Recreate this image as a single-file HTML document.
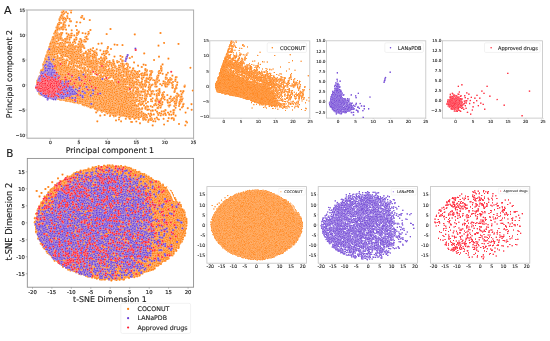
<!DOCTYPE html>
<html lang="en"><head><meta charset="utf-8"><title>PCA and t-SNE chemical space</title>
<style>html,body{margin:0;padding:0;background:#fff}
body{width:550px;height:341px;overflow:hidden}
svg{display:block}
polyline{fill:none;stroke:none}
text{white-space:pre}
.o{marker-start:url(#mo);marker-mid:url(#mo);marker-end:url(#mo)}
.p{marker-start:url(#mp);marker-mid:url(#mp);marker-end:url(#mp)}
.r{marker-start:url(#mr);marker-mid:url(#mr);marker-end:url(#mr)}
.ps{marker-start:url(#mps);marker-mid:url(#mps);marker-end:url(#mps)}
.rs{marker-start:url(#mrs);marker-mid:url(#mrs);marker-end:url(#mrs)}
.os{marker-start:url(#os);marker-mid:url(#os);marker-end:url(#os)}
.bos{marker-start:url(#bos);marker-mid:url(#bos);marker-end:url(#bos)}
.bps{marker-start:url(#bps);marker-mid:url(#bps);marker-end:url(#bps)}
.brs{marker-start:url(#brs);marker-mid:url(#brs);marker-end:url(#brs)}
.bo{marker-start:url(#bo);marker-mid:url(#bo);marker-end:url(#bo)}
.bp{marker-start:url(#bp);marker-mid:url(#bp);marker-end:url(#bp)}
.br{marker-start:url(#br);marker-mid:url(#br);marker-end:url(#br)}</style></head>
<body>
<svg width="550" height="341" viewBox="0 0 550 341" font-family="'DejaVu Sans','Liberation Sans',sans-serif">
<defs>
<marker id="mo" markerWidth="2.76" markerHeight="2.76" refX="1.38" refY="1.38" markerUnits="userSpaceOnUse"><circle cx="1.38" cy="1.38" r="1.1" fill="#ff7f0e" stroke="#fff" stroke-width="0.28"/></marker>
<marker id="mp" markerWidth="2.76" markerHeight="2.76" refX="1.38" refY="1.38" markerUnits="userSpaceOnUse"><circle cx="1.38" cy="1.38" r="1.1" fill="#6d41d6" stroke="#fff" stroke-width="0.28"/></marker>
<marker id="mr" markerWidth="2.76" markerHeight="2.76" refX="1.38" refY="1.38" markerUnits="userSpaceOnUse"><circle cx="1.38" cy="1.38" r="1.1" fill="#ff1f32" stroke="#fff" stroke-width="0.28"/></marker>
<marker id="mps" markerWidth="2.06" markerHeight="2.06" refX="1.03" refY="1.03" markerUnits="userSpaceOnUse"><circle cx="1.03" cy="1.03" r="0.85" fill="#6d41d6" stroke="#fff" stroke-width="0.18"/></marker>
<marker id="mrs" markerWidth="2.06" markerHeight="2.06" refX="1.03" refY="1.03" markerUnits="userSpaceOnUse"><circle cx="1.03" cy="1.03" r="0.85" fill="#ff1f32" stroke="#fff" stroke-width="0.18"/></marker>
<marker id="bo" markerWidth="2.78" markerHeight="2.78" refX="1.39" refY="1.39" markerUnits="userSpaceOnUse"><circle cx="1.39" cy="1.39" r="1.15" fill="#ff7f0e" stroke="#fff" stroke-width="0.24"/></marker>
<marker id="bp" markerWidth="2.78" markerHeight="2.78" refX="1.39" refY="1.39" markerUnits="userSpaceOnUse"><circle cx="1.39" cy="1.39" r="1.15" fill="#6d41d6" stroke="#fff" stroke-width="0.24"/></marker>
<marker id="br" markerWidth="2.78" markerHeight="2.78" refX="1.39" refY="1.39" markerUnits="userSpaceOnUse"><circle cx="1.39" cy="1.39" r="1.15" fill="#ff1f32" stroke="#fff" stroke-width="0.24"/></marker>
<marker id="os" markerWidth="2.84" markerHeight="2.84" refX="1.42" refY="1.42" markerUnits="userSpaceOnUse"><circle cx="1.42" cy="1.42" r="1.2" fill="#ff7f0e" stroke="#fff" stroke-width="0.22"/></marker>
<marker id="bos" markerWidth="3.18" markerHeight="3.18" refX="1.59" refY="1.59" markerUnits="userSpaceOnUse"><circle cx="1.59" cy="1.59" r="1.25" fill="#ff7f0e" stroke="#fff" stroke-width="0.34"/></marker>
<marker id="bps" markerWidth="3.20" markerHeight="3.20" refX="1.60" refY="1.60" markerUnits="userSpaceOnUse"><circle cx="1.60" cy="1.60" r="1.3" fill="#6d41d6" stroke="#fff" stroke-width="0.3"/></marker>
<marker id="brs" markerWidth="2.88" markerHeight="2.88" refX="1.44" refY="1.44" markerUnits="userSpaceOnUse"><circle cx="1.44" cy="1.44" r="1.28" fill="#ff1f32" stroke="#fff" stroke-width="0.16"/></marker>
<clipPath id="cA1"><rect x="27.0" y="10.0" width="166.6" height="128.2"/></clipPath>
<clipPath id="cA2"><rect x="209.8" y="40.8" width="100.0" height="77.3"/></clipPath>
<clipPath id="cA3"><rect x="326.5" y="40.8" width="99.3" height="77.3"/></clipPath>
<clipPath id="cA4"><rect x="442.5" y="40.8" width="100.1" height="77.3"/></clipPath>
<clipPath id="cB1"><rect x="27.3" y="158.4" width="166.3" height="128.8"/></clipPath>
<clipPath id="cB2"><rect x="206.9" y="186.6" width="99.6" height="76.6"/></clipPath>
<clipPath id="cB3"><rect x="318.2" y="186.6" width="99.2" height="76.6"/></clipPath>
<clipPath id="cB4"><rect x="430.5" y="186.6" width="99.3" height="76.6"/></clipPath>
</defs>
<rect width="550" height="341" fill="#fff"/>
<rect x="27.0" y="10.0" width="166.6" height="128.2" fill="#fff" stroke="#acacac" stroke-width="1.0"/>
<path d="M50.3 138.2v1.6M79.0 138.2v1.6M107.6 138.2v1.6M136.2 138.2v1.6M164.9 138.2v1.6M193.6 138.2v1.6M27.0 135.0h-1.6M27.0 110.0h-1.6M27.0 85.0h-1.6M27.0 60.0h-1.6M27.0 35.0h-1.6M27.0 10.0h-1.6" stroke="#acacac" stroke-width="0.75" fill="none"/>
<g font-size="4.4" fill="#262626" stroke="#262626" stroke-width="0.18">
<text x="50.3" y="144.2" text-anchor="middle">0</text>
<text x="79.0" y="144.2" text-anchor="middle">5</text>
<text x="107.6" y="144.2" text-anchor="middle">10</text>
<text x="136.2" y="144.2" text-anchor="middle">15</text>
<text x="164.9" y="144.2" text-anchor="middle">20</text>
<text x="193.6" y="144.2" text-anchor="middle">25</text>
<text x="25.0" y="136.6" text-anchor="end">−10</text>
<text x="25.0" y="111.6" text-anchor="end">−5</text>
<text x="25.0" y="86.6" text-anchor="end">0</text>
<text x="25.0" y="61.6" text-anchor="end">5</text>
<text x="25.0" y="36.6" text-anchor="end">10</text>
<text x="25.0" y="11.6" text-anchor="end">15</text>
</g>
<rect x="209.8" y="40.8" width="100.0" height="77.3" fill="#fff" stroke="#c2c2c2" stroke-width="0.8"/>
<path d="M223.7 118.1v1.1M241.0 118.1v1.1M258.3 118.1v1.1M275.6 118.1v1.1M292.9 118.1v1.1M310.2 118.1v1.1M209.8 116.3h-1.1M209.8 101.2h-1.1M209.8 86.1h-1.1M209.8 71.0h-1.1M209.8 55.9h-1.1M209.8 40.8h-1.1" stroke="#c2c2c2" stroke-width="0.60" fill="none"/>
<g font-size="4.15" fill="#262626" stroke="#262626" stroke-width="0.12">
<text x="223.7" y="123.1" text-anchor="middle">0</text>
<text x="241.0" y="123.1" text-anchor="middle">5</text>
<text x="258.3" y="123.1" text-anchor="middle">10</text>
<text x="275.6" y="123.1" text-anchor="middle">15</text>
<text x="292.9" y="123.1" text-anchor="middle">20</text>
<text x="310.2" y="123.1" text-anchor="middle">25</text>
<text x="208.8" y="117.8" text-anchor="end">−10</text>
<text x="208.8" y="102.7" text-anchor="end">−5</text>
<text x="208.8" y="87.6" text-anchor="end">0</text>
<text x="208.8" y="72.5" text-anchor="end">5</text>
<text x="208.8" y="57.4" text-anchor="end">10</text>
<text x="208.8" y="42.3" text-anchor="end">15</text>
</g>
<rect x="326.5" y="40.8" width="99.3" height="77.3" fill="#fff" stroke="#c2c2c2" stroke-width="0.8"/>
<path d="M338.1 118.1v1.1M355.6 118.1v1.1M373.2 118.1v1.1M390.7 118.1v1.1M408.3 118.1v1.1M425.8 118.1v1.1M326.5 112.1h-1.1M326.5 101.9h-1.1M326.5 91.7h-1.1M326.5 81.6h-1.1M326.5 71.4h-1.1M326.5 61.2h-1.1M326.5 51.0h-1.1M326.5 40.9h-1.1" stroke="#c2c2c2" stroke-width="0.60" fill="none"/>
<g font-size="4.15" fill="#262626" stroke="#262626" stroke-width="0.12">
<text x="338.1" y="123.1" text-anchor="middle">0</text>
<text x="355.6" y="123.1" text-anchor="middle">5</text>
<text x="373.2" y="123.1" text-anchor="middle">10</text>
<text x="390.7" y="123.1" text-anchor="middle">15</text>
<text x="408.3" y="123.1" text-anchor="middle">20</text>
<text x="425.8" y="123.1" text-anchor="middle">25</text>
<text x="325.4" y="113.6" text-anchor="end">−2.5</text>
<text x="325.4" y="103.4" text-anchor="end">0.0</text>
<text x="325.4" y="93.2" text-anchor="end">2.5</text>
<text x="325.4" y="83.1" text-anchor="end">5.0</text>
<text x="325.4" y="72.9" text-anchor="end">7.5</text>
<text x="325.4" y="62.7" text-anchor="end">10.0</text>
<text x="325.4" y="52.5" text-anchor="end">12.5</text>
<text x="325.4" y="42.4" text-anchor="end">15.0</text>
</g>
<rect x="442.5" y="40.8" width="100.1" height="77.3" fill="#fff" stroke="#c2c2c2" stroke-width="0.8"/>
<path d="M455.6 118.1v1.1M473.1 118.1v1.1M490.6 118.1v1.1M508.1 118.1v1.1M525.6 118.1v1.1M543.1 118.1v1.1M442.5 110.7h-1.1M442.5 100.7h-1.1M442.5 90.7h-1.1M442.5 80.8h-1.1M442.5 70.8h-1.1M442.5 60.8h-1.1M442.5 50.8h-1.1M442.5 40.9h-1.1" stroke="#c2c2c2" stroke-width="0.60" fill="none"/>
<g font-size="4.15" fill="#262626" stroke="#262626" stroke-width="0.12">
<text x="455.6" y="123.1" text-anchor="middle">0</text>
<text x="473.1" y="123.1" text-anchor="middle">5</text>
<text x="490.6" y="123.1" text-anchor="middle">10</text>
<text x="508.1" y="123.1" text-anchor="middle">15</text>
<text x="525.6" y="123.1" text-anchor="middle">20</text>
<text x="543.1" y="123.1" text-anchor="middle">25</text>
<text x="441.4" y="112.2" text-anchor="end">−2.5</text>
<text x="441.4" y="102.2" text-anchor="end">0.0</text>
<text x="441.4" y="92.2" text-anchor="end">2.5</text>
<text x="441.4" y="82.3" text-anchor="end">5.0</text>
<text x="441.4" y="72.3" text-anchor="end">7.5</text>
<text x="441.4" y="62.3" text-anchor="end">10.0</text>
<text x="441.4" y="52.3" text-anchor="end">12.5</text>
<text x="441.4" y="42.4" text-anchor="end">15.0</text>
</g>
<rect x="27.3" y="158.4" width="166.3" height="128.8" fill="#fff" stroke="#888888" stroke-width="0.85"/>
<path d="M32.5 287.2v1.5M51.9 287.2v1.5M71.3 287.2v1.5M90.8 287.2v1.5M110.2 287.2v1.5M129.7 287.2v1.5M149.2 287.2v1.5M168.6 287.2v1.5M188.1 287.2v1.5M27.3 273.8h-1.5M27.3 256.8h-1.5M27.3 239.8h-1.5M27.3 222.8h-1.5M27.3 205.8h-1.5M27.3 188.8h-1.5M27.3 171.8h-1.5" stroke="#888888" stroke-width="0.64" fill="none"/>
<g font-size="5.3" fill="#262626" stroke="#262626" stroke-width="0.16">
<text x="32.5" y="293.7" text-anchor="middle">-20</text>
<text x="51.9" y="293.7" text-anchor="middle">-15</text>
<text x="71.3" y="293.7" text-anchor="middle">-10</text>
<text x="90.8" y="293.7" text-anchor="middle">-5</text>
<text x="110.2" y="293.7" text-anchor="middle">0</text>
<text x="129.7" y="293.7" text-anchor="middle">5</text>
<text x="149.2" y="293.7" text-anchor="middle">10</text>
<text x="168.6" y="293.7" text-anchor="middle">15</text>
<text x="188.1" y="293.7" text-anchor="middle">20</text>
<text x="24.9" y="275.7" text-anchor="end">-15</text>
<text x="24.9" y="258.7" text-anchor="end">-10</text>
<text x="24.9" y="241.7" text-anchor="end">-5</text>
<text x="24.9" y="224.7" text-anchor="end">0</text>
<text x="24.9" y="207.7" text-anchor="end">5</text>
<text x="24.9" y="190.7" text-anchor="end">10</text>
<text x="24.9" y="173.7" text-anchor="end">15</text>
</g>
<rect x="206.9" y="186.6" width="99.6" height="76.6" fill="#fff" stroke="#c2c2c2" stroke-width="0.8"/>
<path d="M210.3 263.2v1.1M221.8 263.2v1.1M233.4 263.2v1.1M244.9 263.2v1.1M256.5 263.2v1.1M268.1 263.2v1.1M279.6 263.2v1.1M291.1 263.2v1.1M302.7 263.2v1.1M206.9 255.1h-1.1M206.9 245.0h-1.1M206.9 235.0h-1.1M206.9 224.9h-1.1M206.9 214.8h-1.1M206.9 204.8h-1.1M206.9 194.8h-1.1" stroke="#c2c2c2" stroke-width="0.60" fill="none"/>
<g font-size="4.6" fill="#262626" stroke="#262626" stroke-width="0.1">
<text x="210.3" y="268.4" text-anchor="middle">-20</text>
<text x="221.8" y="268.4" text-anchor="middle">-15</text>
<text x="233.4" y="268.4" text-anchor="middle">-10</text>
<text x="244.9" y="268.4" text-anchor="middle">-5</text>
<text x="256.5" y="268.4" text-anchor="middle">0</text>
<text x="268.1" y="268.4" text-anchor="middle">5</text>
<text x="279.6" y="268.4" text-anchor="middle">10</text>
<text x="291.1" y="268.4" text-anchor="middle">15</text>
<text x="302.7" y="268.4" text-anchor="middle">20</text>
<text x="205.1" y="256.7" text-anchor="end">-15</text>
<text x="205.1" y="246.7" text-anchor="end">-10</text>
<text x="205.1" y="236.6" text-anchor="end">-5</text>
<text x="205.1" y="226.6" text-anchor="end">0</text>
<text x="205.1" y="216.5" text-anchor="end">5</text>
<text x="205.1" y="206.5" text-anchor="end">10</text>
<text x="205.1" y="196.4" text-anchor="end">15</text>
</g>
<rect x="318.2" y="186.6" width="99.2" height="76.6" fill="#fff" stroke="#c2c2c2" stroke-width="0.8"/>
<path d="M321.2 263.2v1.1M332.9 263.2v1.1M344.7 263.2v1.1M356.4 263.2v1.1M368.1 263.2v1.1M379.8 263.2v1.1M391.6 263.2v1.1M403.3 263.2v1.1M415.0 263.2v1.1M318.2 255.1h-1.1M318.2 245.0h-1.1M318.2 235.0h-1.1M318.2 224.9h-1.1M318.2 214.8h-1.1M318.2 204.8h-1.1M318.2 194.8h-1.1" stroke="#c2c2c2" stroke-width="0.60" fill="none"/>
<g font-size="4.6" fill="#262626" stroke="#262626" stroke-width="0.1">
<text x="321.2" y="268.4" text-anchor="middle">-20</text>
<text x="332.9" y="268.4" text-anchor="middle">-15</text>
<text x="344.7" y="268.4" text-anchor="middle">-10</text>
<text x="356.4" y="268.4" text-anchor="middle">-5</text>
<text x="368.1" y="268.4" text-anchor="middle">0</text>
<text x="379.8" y="268.4" text-anchor="middle">5</text>
<text x="391.6" y="268.4" text-anchor="middle">10</text>
<text x="403.3" y="268.4" text-anchor="middle">15</text>
<text x="415.0" y="268.4" text-anchor="middle">20</text>
<text x="316.4" y="256.7" text-anchor="end">-15</text>
<text x="316.4" y="246.7" text-anchor="end">-10</text>
<text x="316.4" y="236.6" text-anchor="end">-5</text>
<text x="316.4" y="226.6" text-anchor="end">0</text>
<text x="316.4" y="216.5" text-anchor="end">5</text>
<text x="316.4" y="206.5" text-anchor="end">10</text>
<text x="316.4" y="196.4" text-anchor="end">15</text>
</g>
<rect x="430.5" y="186.6" width="99.3" height="76.6" fill="#fff" stroke="#c2c2c2" stroke-width="0.8"/>
<path d="M433.6 263.2v1.1M445.2 263.2v1.1M456.9 263.2v1.1M468.6 263.2v1.1M480.2 263.2v1.1M491.8 263.2v1.1M503.5 263.2v1.1M515.1 263.2v1.1M526.8 263.2v1.1M430.5 255.1h-1.1M430.5 245.0h-1.1M430.5 235.0h-1.1M430.5 224.9h-1.1M430.5 214.8h-1.1M430.5 204.8h-1.1M430.5 194.8h-1.1" stroke="#c2c2c2" stroke-width="0.60" fill="none"/>
<g font-size="4.6" fill="#262626" stroke="#262626" stroke-width="0.1">
<text x="433.6" y="268.4" text-anchor="middle">-20</text>
<text x="445.2" y="268.4" text-anchor="middle">-15</text>
<text x="456.9" y="268.4" text-anchor="middle">-10</text>
<text x="468.6" y="268.4" text-anchor="middle">-5</text>
<text x="480.2" y="268.4" text-anchor="middle">0</text>
<text x="491.8" y="268.4" text-anchor="middle">5</text>
<text x="503.5" y="268.4" text-anchor="middle">10</text>
<text x="515.1" y="268.4" text-anchor="middle">15</text>
<text x="526.8" y="268.4" text-anchor="middle">20</text>
<text x="428.7" y="256.7" text-anchor="end">-15</text>
<text x="428.7" y="246.7" text-anchor="end">-10</text>
<text x="428.7" y="236.6" text-anchor="end">-5</text>
<text x="428.7" y="226.6" text-anchor="end">0</text>
<text x="428.7" y="216.5" text-anchor="end">5</text>
<text x="428.7" y="206.5" text-anchor="end">10</text>
<text x="428.7" y="196.4" text-anchor="end">15</text>
</g>
<g clip-path="url(#cA1)">
<path id="abase" d="M38.0 88.0L40.4 93.0L42.9 93.7L45.3 94.3L47.8 95.0L50.2 95.7L52.7 96.4L55.1 96.9L57.6 97.4L60.0 97.9L62.4 98.4L64.9 98.9L67.3 99.4L69.8 99.9L72.2 100.5L74.7 101.0L77.1 101.5L79.6 102.2L82.0 103.0L84.5 103.8L86.9 104.5L89.4 105.3L91.8 106.1L94.2 106.9L96.7 107.6L99.1 108.4L101.6 109.2L104.0 109.7L106.5 110.3L108.9 110.8L111.4 111.4L113.8 111.9L116.3 112.5L118.7 113.0L121.2 113.6L123.6 114.1L126.0 114.6L128.5 115.2L130.9 115.6L133.4 116.0L133.4 95.5L130.9 94.4L128.5 93.3L126.0 92.2L123.6 91.1L121.2 90.0L118.7 88.8L116.3 87.7L113.8 86.6L111.4 85.5L108.9 84.4L106.5 83.3L104.0 82.2L101.6 81.1L99.1 80.0L96.7 78.8L94.2 77.7L91.8 76.6L89.4 75.5L86.9 74.4L84.5 73.3L82.0 72.2L79.6 71.1L77.1 70.0L74.7 68.9L72.2 67.8L69.8 66.6L67.3 65.5L64.9 64.4L62.4 63.3L60.0 62.2L57.6 61.1L55.1 60.0L52.7 58.9L50.2 57.8L47.8 56.6L45.3 63.0L42.9 69.9L40.4 76.9L38.0 83.8Z" fill="#ff9a42"/><g class="o"><polyline id="acop" points="109.0,84.4 132.6,83.8 53.3,53.3 125.9,101.9 56.4,74.4 52.1,54.7 55.9,61.9 69.6,18.9 123.4,88.9 80.5,90.7 46.4,57.8 45.0,90.2 117.0,95.4 150.8,106.2 65.1,95.6 47.8,60.6 64.2,86.5 129.4,103.2 111.9,98.8 107.9,103.1 77.1,65.7 109.1,109.0 44.5,64.9 92.4,101.5 80.4,43.1 109.9,75.9 81.9,94.4 77.2,85.9 112.1,98.0 64.9,27.2 71.8,54.2 59.8,76.3 44.0,95.5 68.8,92.4 43.5,94.5 105.5,72.7 119.9,95.5 103.3,98.0 138.0,82.1 94.8,106.8 113.5,71.2 77.5,67.4 121.6,88.9 41.0,87.6 76.4,56.7 118.2,105.3 87.6,75.6 52.4,66.2 46.4,59.5 103.6,90.1 113.3,69.8 82.0,79.4 54.3,70.5 140.4,91.7 81.1,95.5 66.9,96.9 65.6,92.8 117.9,112.9 48.2,83.7 82.8,103.0 102.7,102.6 74.0,56.6 120.2,80.7 119.2,111.9 106.6,104.1 161.6,103.7 150.2,116.5 73.4,91.7 111.9,104.6 165.4,83.1 101.0,105.5 81.1,47.6 50.0,55.8 86.5,90.3 88.4,106.1 92.2,64.2 57.8,79.9 45.6,59.6 94.1,62.4 116.8,107.2 117.7,87.9 68.3,51.9 71.0,21.2 80.9,82.2 76.2,73.2 129.9,67.6 64.1,88.4 117.5,96.5 82.0,78.6 151.0,120.1 70.5,54.2 52.4,50.1 89.2,100.7 89.1,75.9 142.5,77.7 76.3,83.9 131.1,81.4 55.6,44.3 115.4,113.1 123.9,110.7 73.3,72.5 114.2,63.6 52.8,65.5 50.9,64.3 106.9,96.3 89.2,103.5 103.8,108.8 67.8,95.4 101.6,108.1 61.4,60.4 41.4,91.2 107.9,89.3 59.5,90.3 48.1,94.3 111.0,76.4 121.2,106.9 60.4,80.3 158.2,108.2 56.4,32.5 116.3,76.2 69.0,57.5 90.0,63.5 64.4,51.8 145.1,94.0 64.5,88.1 133.4,105.1 75.4,59.4 105.5,76.1 50.9,73.9 119.8,97.7 60.6,37.0 116.3,80.5 112.7,113.8 73.4,95.7 127.1,116.5 90.3,84.3 60.3,43.0 55.3,74.9 46.5,62.6 126.7,107.2 117.5,90.4 68.9,55.6 43.8,69.6 61.4,76.4 138.3,91.9 62.8,84.9 84.1,86.5 45.2,80.0 173.1,98.9 146.1,81.1 59.6,47.1 57.9,65.8 52.7,53.1 70.7,73.5 80.5,71.4 61.5,66.8 72.9,92.9 101.2,70.9 73.6,78.4 92.5,62.2 90.9,90.4 124.2,103.6 124.9,111.6 72.3,73.7 74.1,69.4 156.4,90.8 114.9,99.9 121.3,103.5 63.5,96.1 71.5,9.8 67.3,54.1 91.6,68.3 71.6,89.2 97.6,106.0 104.7,115.0 129.1,87.7 54.4,63.0 161.1,66.3 114.2,75.2 81.7,95.3 62.5,87.4 51.9,91.9 94.6,68.2 43.6,64.2 55.3,33.1 53.4,92.9 59.5,51.5 55.9,43.4 132.3,115.6 77.3,81.6 126.9,100.7 74.7,94.8 53.2,68.8 47.1,95.0 45.2,84.8 67.9,47.3 153.2,80.1 98.7,103.7 99.4,79.7 173.1,87.1 96.5,106.8 69.0,83.1 63.3,87.8 80.8,59.0 84.1,67.3 89.2,54.2 99.6,69.6 103.8,89.1 84.0,85.1 49.6,50.1 131.8,82.1 105.2,69.8 46.0,71.5 66.0,47.3 54.8,77.0 103.1,108.4 120.1,98.1 104.5,65.7 81.3,56.6 58.5,88.2 134.5,95.0 43.1,72.1 126.8,101.3 116.4,111.4 108.4,94.5 78.5,97.9 131.3,85.0 47.3,70.0 66.7,50.1 96.2,105.2 95.0,57.4 48.5,52.8 48.5,66.0 84.0,89.4 167.2,82.8 92.2,65.5 124.0,86.4 37.1,83.4 59.4,83.6 107.7,108.7 109.6,96.7 68.3,74.6 97.3,121.3 161.1,69.2 87.7,84.8 79.5,101.2 172.3,87.4 145.3,86.3 69.1,95.5 66.6,95.1 135.1,92.5 82.1,17.5 81.5,68.0 83.0,96.2 55.3,94.4 47.4,58.6 124.2,105.1 41.3,94.0 136.3,94.0 115.0,109.8 52.9,59.5 45.1,95.1 98.2,95.8 63.4,98.2 133.1,108.4 148.0,92.7 104.2,104.0 120.6,75.6 118.6,109.7 59.2,81.6 147.3,109.7 111.8,104.6 58.2,68.0 79.4,61.8 85.3,60.9 75.3,92.7 84.7,95.0 92.3,56.5 169.1,106.6 95.9,66.7 63.9,66.9 51.5,97.3 67.5,37.9 63.2,47.4 130.5,85.1 50.6,45.7 102.0,82.2 51.4,70.2 97.2,61.6 63.8,77.0 77.5,101.0 157.5,78.2 55.9,63.0 49.6,76.7 88.9,73.8 142.7,117.0 125.5,106.7 129.4,87.7 74.6,58.2 46.4,56.4 93.5,71.0 170.2,105.1 60.6,80.7 121.5,94.4 65.3,90.7 73.5,97.9 155.8,100.1 116.6,78.7 70.2,99.7 53.8,94.8 126.2,72.8 108.6,80.6 128.2,115.7 62.0,68.7 123.2,106.7 90.8,63.5 73.9,49.6 68.3,100.6 67.1,90.8 106.6,108.1 56.5,86.7 84.9,104.2 146.0,98.6 57.0,87.1 115.9,111.4 44.5,63.0 92.7,62.3 66.4,79.4 134.1,96.7 51.7,56.7 71.5,55.2 57.1,53.5 128.5,111.5 51.1,47.4 51.7,58.3 92.8,66.0 62.7,95.0 54.5,97.5 92.3,96.5 187.0,122.4 117.3,111.9 114.3,111.1 60.6,82.6 56.8,80.5 89.1,102.5 81.4,99.2 85.5,71.3 104.0,100.1 160.7,99.3 173.4,99.3 97.8,84.5 109.5,73.2 49.3,62.4 49.7,92.8 83.3,99.2 131.0,114.8 71.2,95.6 87.5,94.6 60.1,69.2 70.1,21.2 131.9,85.1 72.5,57.7 65.7,83.3 111.9,109.8 126.6,114.7 40.8,90.7 88.1,83.3 134.7,108.4 113.1,77.0 118.1,108.5 40.8,79.1 126.8,102.8 56.5,65.2 52.4,75.5 118.0,106.4 99.7,109.5 120.6,108.7 96.9,109.1 61.4,44.7 66.8,87.0 126.5,70.3 55.7,83.2 63.8,44.0 61.8,12.4 75.5,77.9 129.4,107.1 106.8,90.7 53.2,97.3 87.9,106.2 131.5,110.1 57.9,88.0 91.1,72.7 61.6,52.0 110.3,84.2 63.5,74.3 127.1,87.7 57.2,73.9 49.6,64.0 141.5,92.4 93.7,107.1 58.8,51.3 174.1,97.6 65.5,85.5 46.4,83.8 83.9,92.2 40.9,82.4 151.1,101.0 70.1,58.1 74.9,94.4 39.7,86.2 130.8,111.7 47.8,90.3 48.7,74.2 114.6,109.0 47.8,94.2 45.9,64.9 47.7,90.1 103.6,95.2 53.5,61.9 76.4,38.5 122.2,81.1 116.7,109.1 93.1,48.1 69.6,87.5 59.3,48.1 185.3,125.3 52.5,44.6 61.3,79.0 128.5,115.5 52.2,47.3 174.4,92.0 57.2,97.7 155.6,100.7 116.5,78.1 79.9,93.8 57.9,24.0 90.1,62.7 117.5,69.0 98.3,103.1 131.3,72.6 80.6,95.3 59.9,22.5 86.4,90.4 106.7,34.1 88.7,85.1 50.6,91.7 79.3,95.8 64.9,89.7 126.0,104.1 62.7,67.5 40.3,77.4 66.7,70.7 79.9,79.1 58.4,85.8 46.3,72.1 145.8,81.2 154.9,83.4 72.9,82.8 39.5,91.4 101.3,99.7 108.8,78.1 92.3,105.9 121.9,91.8 65.1,89.2 110.0,84.9 58.6,83.8 77.4,93.3 86.3,84.3 49.8,51.3 100.5,108.0 103.9,91.4 117.7,62.1 55.8,35.0 129.3,78.0 71.7,67.7 51.1,91.8 47.6,84.8 115.7,108.2 57.9,80.1 54.3,36.6 86.9,65.8 48.1,90.1 97.6,61.6 50.2,49.3 65.2,91.8 112.2,110.3 80.7,90.6 68.7,99.2 127.8,90.5 129.3,113.9 47.5,62.2 137.8,75.5 51.5,46.6 130.8,85.6 45.3,75.6 74.2,52.3 122.0,113.5 117.3,96.7 108.7,103.0 76.5,90.0 122.6,105.9 63.7,90.6 55.7,90.9 96.1,90.6 75.2,85.6 98.3,63.0 66.2,53.8 145.1,96.1 130.7,113.3 70.4,48.6 121.9,100.4 55.1,84.4 50.5,61.1 71.9,82.4 93.1,106.6 112.1,84.5 104.3,98.4 158.7,89.9 123.9,76.1 44.3,93.7 72.9,99.7 48.8,84.7 51.4,52.0 62.4,82.3 127.7,98.8 105.6,67.1 93.5,93.6 62.4,87.1 182.0,107.3 110.6,82.7 99.8,67.1 79.4,93.3 50.2,44.1 73.2,74.6 81.5,91.7 104.1,103.0 161.9,95.1 59.7,49.2 64.9,78.9 81.8,60.5 125.3,99.8 123.4,107.3 97.6,100.9 89.7,74.3 123.6,64.2 84.5,79.6 61.4,64.5 93.8,106.0 56.4,59.1 187.8,108.2 133.5,114.6 65.5,60.7 99.4,94.2 112.9,114.9 105.4,102.6 150.1,87.3 93.4,88.7 50.0,50.4 92.0,101.6 56.3,37.7 116.2,76.9 132.4,105.2 113.2,102.8 117.2,104.8 78.1,99.2 105.9,86.6 129.6,112.9 96.7,95.1 156.1,81.5 127.5,111.9 72.5,100.7 90.5,87.9 65.8,86.4 145.7,108.8 77.7,61.2 99.1,59.0 65.7,98.8 49.4,48.0 75.3,98.3 64.6,76.8 101.0,74.2 71.0,75.8 57.0,77.8 85.7,76.0 116.6,113.2 124.4,112.6 110.4,105.6 40.2,81.4 80.3,62.7 81.6,71.7 119.0,92.8 159.8,92.5 73.2,101.5 42.1,92.7 93.6,60.8 39.5,85.2 111.0,112.2 109.2,81.4 167.8,121.0 57.2,76.7 118.2,94.4 62.5,73.7 65.6,83.5 131.6,94.8 120.8,87.5 104.1,82.4 91.3,95.4 157.4,81.9 85.7,100.9 114.6,44.6 71.6,54.0 43.5,83.4 48.6,94.0 49.1,86.2 89.7,59.1 104.6,104.6 87.6,60.9 146.7,78.1 126.3,107.0 83.5,68.7 73.2,55.3 139.5,116.9 74.5,98.6 129.0,81.9 128.9,116.3 109.7,93.2 92.8,58.1 122.8,100.4 116.5,70.1 115.8,101.4 114.9,65.7 103.2,68.8 76.2,85.8 65.9,91.6 74.9,40.2 44.0,62.3 48.3,58.3 60.6,85.6 139.7,101.6 82.8,54.3 48.4,63.5 60.1,47.2 122.6,92.2 168.6,84.3 71.2,68.9 50.0,76.4 149.1,86.3 59.9,99.6 38.6,78.4 77.0,87.3 78.0,77.6 119.0,97.9 109.0,102.5 94.1,62.4 47.1,81.1 118.9,119.5 77.5,88.1 62.8,99.0 120.2,88.8 105.3,104.2 44.5,87.8 95.8,106.1 118.0,104.7 125.7,115.7 65.5,68.5 89.9,98.3 126.5,113.8 72.9,42.6 176.4,85.5 92.2,76.8 110.9,81.3 117.5,107.1 88.1,80.2 102.2,86.6 76.4,91.2 67.6,52.8 61.9,70.6 105.8,112.3 90.1,82.1 74.2,97.9 159.2,93.8 161.0,105.8 85.9,52.9 67.5,88.8 56.9,61.1 98.0,99.1 71.0,91.8 115.2,111.0 48.3,55.9 134.4,111.7 52.2,96.9 53.6,58.6 113.2,82.8 100.7,85.5 85.7,101.6 117.6,83.3 59.7,77.3 130.0,110.3 99.8,105.2 86.9,90.0 56.7,27.2 46.2,64.9 83.7,69.1 58.4,58.2 88.9,87.3 54.2,71.3 69.9,44.0 121.8,111.5 47.4,82.5 70.1,42.6 66.1,29.7 67.9,97.0 113.0,109.4 44.5,86.3 94.8,51.2 48.4,66.4 75.4,101.1 67.1,68.4 120.4,110.6 94.9,98.1 54.4,63.6 123.9,110.2 50.8,89.9 176.0,99.2 44.8,89.4 124.0,65.4 49.2,64.3 92.2,77.2 116.7,108.5 148.9,82.3 85.5,99.8 53.0,38.6 180.7,97.8 70.2,81.9 118.2,110.5 88.2,103.8 74.6,55.8 127.3,101.8 100.9,67.2 145.8,100.1 42.0,87.0 63.1,95.9 51.4,71.4 45.9,95.7 84.4,63.7 78.6,89.3 61.4,95.3 104.9,107.0 107.1,93.1 131.4,117.0 67.7,81.8 62.4,12.5 110.4,101.0 146.2,95.5 109.6,93.2 50.0,96.0 61.1,72.7 158.4,104.4 56.1,94.4 50.0,60.4 129.2,111.8 91.4,100.2 57.4,93.8 115.5,111.2 158.2,93.1 123.7,108.8 72.2,80.0 58.4,75.9 96.9,55.0 146.0,103.3 75.1,46.6 58.5,99.0 90.6,98.5 128.6,76.7 84.9,83.6 67.0,99.2 101.5,111.2 44.0,83.1 104.0,68.1 136.6,108.7 122.7,97.5 111.7,108.0 156.9,94.0 115.4,102.5 45.8,94.5 64.8,82.1 105.1,99.6 77.2,99.9 51.1,75.5 107.4,83.6 124.3,107.1 74.4,39.7 121.1,63.5 79.9,82.9 60.9,70.3 176.4,100.1 60.3,74.3 48.1,84.5 148.2,121.9 143.8,85.2 73.8,99.5 88.3,98.4 68.7,92.4 161.8,111.4 109.1,94.2 78.1,90.6 106.4,70.5 80.9,39.6 57.6,49.7 139.9,103.2 56.1,43.2 56.8,35.5 152.1,101.2 84.5,102.4 41.7,89.1 60.0,39.5 122.6,105.9 79.5,91.7 86.8,88.6 139.2,94.2 99.5,109.8 66.7,89.6 48.5,69.8 131.7,104.6 54.9,32.7 86.5,77.6 94.6,77.2 55.1,41.1 135.3,92.9 72.9,58.0 84.0,93.6 73.4,91.4 62.4,48.3 136.5,108.4 73.6,97.9 133.9,117.4 78.8,97.1 91.8,102.3 59.0,78.6 69.4,39.8 56.6,51.1 127.7,98.4 119.3,69.5 50.5,60.1 106.9,88.3 83.8,94.3 45.5,94.2 176.0,77.0 133.1,115.0 170.7,111.7 121.7,84.6 62.7,49.0 75.7,74.8 157.8,113.1 80.1,97.3 136.3,121.5 85.0,98.0 63.0,78.9 94.2,64.6 48.4,80.1 97.2,61.7 93.6,69.0 59.8,87.9 119.8,112.3 57.7,83.2 127.6,79.1 110.2,89.6 110.2,73.8 59.8,97.3 65.1,80.8 61.5,97.4 105.8,63.9 79.1,85.3 76.7,87.4 156.3,105.2 107.7,107.5 89.1,80.1 96.8,102.9 107.5,61.6 172.8,84.8 122.3,105.2 120.9,75.5 74.4,82.4 112.3,109.4 76.1,98.4 57.8,74.6 128.1,64.4 94.5,94.0 98.7,91.3 167.9,81.1 140.5,94.7 43.7,88.8 61.5,99.7 131.5,98.0 128.3,95.8 127.8,108.6 66.2,92.1 140.1,83.6 65.7,62.8 63.4,59.4 178.1,94.6 55.5,59.5 136.5,82.0 126.3,64.1 89.1,91.6 116.5,92.9 43.0,74.6 47.7,52.1 129.9,75.2 118.0,87.9 100.4,100.5 107.2,92.3 59.1,75.6 132.6,96.6 102.5,79.6 40.8,78.1 103.2,61.4 97.1,105.0 70.9,63.5 61.2,16.2 125.5,106.9 84.4,86.6 94.8,62.8 59.0,70.2 81.8,97.6 151.7,93.3 66.4,52.2 73.3,69.1 124.3,109.0 44.6,89.5 66.7,86.7 68.5,48.9 71.0,79.3 88.5,64.5 81.4,65.3 43.0,94.7 93.8,85.8 80.3,87.4 107.6,65.1 97.1,66.4 44.9,90.6 55.6,47.2 61.6,65.8 67.2,69.7 54.8,92.9 118.9,61.8 93.2,69.1 87.2,106.2 44.5,84.2 49.9,69.9 176.0,105.2 82.7,60.6 59.7,85.2 53.3,38.3 157.5,118.8 71.3,85.4 133.2,110.5 109.7,109.7 103.3,83.2 125.0,115.2 58.5,73.1 70.4,86.4 122.6,106.8 91.5,99.2 51.7,84.6 97.3,65.6 54.6,54.4 58.2,26.6 51.6,95.7 121.3,81.2 67.7,90.6 72.0,95.7 129.3,107.9 69.5,49.4 86.9,70.4 110.4,95.2 81.0,89.8 81.1,98.7 51.2,70.8 80.3,39.0 77.7,80.3 59.0,81.3 88.1,34.4 58.3,90.4 76.9,80.1 88.8,100.9 116.5,91.8 122.1,109.1 56.8,92.5 138.6,91.4 60.3,70.5 162.4,102.1 49.9,92.7 98.4,89.6 80.2,54.8 94.5,100.6 42.3,91.7 179.7,103.5 95.1,101.7 100.4,70.6 80.9,70.4 62.7,92.6 76.5,54.7 167.1,78.3 113.0,95.4 124.9,93.2 145.3,90.7 63.3,87.7 63.1,40.0 68.1,47.6 87.9,56.1 53.0,38.2 101.4,98.7 121.0,111.0 69.1,100.6 136.9,74.4 103.2,85.4 123.9,106.1 78.2,54.7 121.2,115.3 85.6,93.6 104.3,88.8 96.3,65.6 146.5,115.9 45.4,67.5 139.4,74.9 97.2,68.4 123.9,102.0 57.2,27.0 127.2,82.3 52.0,88.9 72.6,62.8 142.4,103.4 40.1,88.5 98.6,71.7 40.6,72.7 127.5,110.5 51.9,97.4 90.4,56.5 83.2,72.2 114.8,97.6 75.1,77.8 116.0,120.3 59.1,96.2 86.0,84.0 122.5,61.7 82.3,85.6 71.1,51.6 61.7,83.1 68.2,80.6 71.0,81.0 109.3,111.5 44.9,91.4 69.2,88.5 159.4,112.9 49.2,85.1 140.6,113.2 100.5,107.2 129.7,107.2 57.8,69.4 105.9,107.7 133.3,113.7 124.5,108.2 56.1,67.8 46.7,88.8 66.1,77.3 50.1,78.3 84.5,79.7 133.8,88.1 124.9,81.9 104.3,92.3 61.9,95.2 63.3,77.9 87.7,87.8 137.1,115.8 113.9,116.3 93.2,68.1 120.3,65.6 112.4,101.8 69.1,93.8 91.0,103.4 54.8,43.5 47.1,61.7 125.1,109.0 106.6,92.7 102.2,88.8 62.2,88.7 140.2,117.1 110.1,111.5 93.8,89.8 50.2,55.4 132.6,86.0 62.9,26.2 92.1,89.6 71.4,44.7 108.7,85.2 98.6,98.5 158.5,107.1 88.7,97.4 45.6,73.7 96.5,104.6 113.7,96.2 99.2,89.8 53.5,70.3 144.0,75.4 127.3,102.8 74.7,94.4 103.0,99.4 124.8,98.8 117.2,100.7 141.9,75.5 93.4,65.7 55.6,85.5 67.9,86.6 81.1,57.0 57.1,60.4 170.8,96.5 131.5,114.8 113.8,100.0 90.3,62.9 171.5,100.1 73.4,81.0 60.6,52.1 103.7,72.4 52.3,92.3 112.3,95.5 84.1,18.7 71.0,96.3 99.5,98.4 87.2,100.8 117.2,44.9 88.8,53.6 105.8,108.0 66.4,89.7 45.8,77.8 91.7,99.2 102.7,88.8 46.7,59.6 86.2,101.9 106.8,74.4 115.8,100.1 67.3,82.3 83.8,64.4 80.4,99.8 125.9,76.3 131.2,79.4 56.4,88.2 101.4,81.4 106.6,107.6 180.0,100.0 91.7,106.9 61.6,95.1 121.5,97.0 101.6,107.6 76.2,37.6 80.1,82.7 119.6,81.9 130.0,106.3 100.5,107.0 124.5,91.7 70.3,95.7 102.2,89.1 109.3,94.8 96.6,64.8 91.7,70.1 72.3,99.2 62.5,29.3 37.2,82.9 106.7,95.4 80.1,58.8 131.8,78.5 104.8,111.1 65.2,70.5 113.0,98.0 86.5,53.6 115.5,107.8 46.7,78.8 122.4,68.8 57.2,33.0 67.7,79.8 58.0,46.8 72.4,86.5 75.2,97.3 63.5,87.6 54.0,97.1 78.2,101.3 91.5,105.3 58.7,88.9 59.3,89.1 52.3,97.0 95.2,56.6 82.9,90.0 139.4,85.7 65.0,84.7 78.6,67.1 133.3,68.3 75.5,89.2 47.9,86.9 117.0,97.0 127.3,64.7 66.3,97.8 74.7,85.7 97.6,65.8 99.1,63.3 132.1,99.9 61.2,57.5 66.0,20.4 111.6,72.0 106.7,105.2 62.4,14.4 59.8,95.6 136.8,100.8 128.1,72.0 87.2,88.0 112.6,97.0 103.7,92.0 47.7,84.4 115.9,78.1 56.5,27.8 127.5,100.6 127.3,111.0 120.1,107.7 122.3,114.2 70.3,72.1 140.5,87.0 42.3,84.7 114.7,102.7 110.5,29.0 150.3,114.6 129.8,71.2 95.1,79.3 54.6,76.4 112.5,98.2 62.0,62.3 171.8,83.1 61.0,99.8 99.6,106.0 122.3,56.9 68.4,55.9 130.9,116.4 79.6,81.9 71.0,85.7 146.4,79.2 83.3,101.8 95.8,101.3 105.2,96.3 116.6,111.3 106.7,52.2 95.3,55.1 78.3,99.2 79.2,61.3 176.7,100.0 127.0,111.3 61.1,77.6 120.7,102.0 61.3,81.7 65.0,54.2 70.3,67.5 46.7,64.3 80.6,85.6 102.3,109.7 173.0,82.0 105.3,91.8 93.2,61.8 76.3,56.4 108.8,109.7 121.2,112.3 54.6,45.2 66.8,59.4 100.9,67.0 115.6,90.9 97.4,61.3 116.3,109.8 107.8,52.0 119.8,114.7 59.0,60.4 59.2,95.5 102.2,102.8 111.8,104.6 95.3,108.9 109.5,88.1 54.8,91.6 46.2,83.9 45.4,61.0 53.9,66.8 96.5,84.4 141.6,112.6 130.7,103.4 57.2,58.1 149.2,88.8 93.5,91.9 124.1,106.3 59.7,29.5 73.7,58.8 61.7,68.1 46.8,92.2 79.6,81.8 139.9,109.3 55.0,38.9 76.7,78.1 114.6,113.2 45.5,78.5 50.0,64.1 40.9,87.5 115.9,110.6 134.8,34.4 80.8,89.9 102.2,88.5 121.0,83.0 51.7,81.0 121.7,80.9 106.6,87.6 48.8,92.9 100.5,96.0 101.7,58.3 92.5,100.6 115.7,114.1 120.8,102.6 58.4,97.1 69.9,82.3 60.7,98.2 127.2,76.8 66.6,82.3 156.7,82.7 142.2,103.2 140.0,82.5 179.5,104.2 145.8,82.6 103.5,87.5 77.4,65.8 49.6,50.0 114.0,94.9 105.7,103.3 79.6,90.8 53.8,90.1 62.0,15.3 110.1,112.8 120.0,111.8 165.8,84.5 39.3,91.0 123.2,112.8 61.7,69.7 84.3,92.8 110.9,113.4 81.7,77.9 63.5,87.4 51.2,56.1 94.2,67.0 73.9,79.1 164.0,92.1 55.3,57.1 92.8,58.1 55.0,52.5 116.6,104.4 71.7,86.0 44.7,72.3 109.3,92.1 101.0,71.1 80.1,93.8 120.9,75.5 115.7,104.9 94.3,90.2 98.8,98.7 63.1,25.5 101.3,66.7 142.0,114.2 113.6,97.4 110.1,110.1 133.9,113.0 119.8,106.2 59.2,46.3 85.0,102.4 89.0,94.2 131.5,114.5 90.6,107.4 61.0,72.8 125.4,88.6 99.3,100.4 107.8,87.8 62.7,78.2 109.4,111.3 43.4,64.6 124.9,110.1 127.2,102.0 64.6,84.2 61.6,46.4 74.4,53.5 149.5,78.8 136.7,97.6 47.4,54.9 88.7,52.8 112.5,90.1 90.8,86.2 137.5,114.1 149.9,95.8 43.5,85.1 52.4,91.8 45.1,87.2 68.3,86.2 110.2,100.0 121.6,103.6 182.6,98.5 98.6,70.9 51.6,78.3 71.9,59.6 66.6,38.4 77.7,101.0 59.5,74.3 88.1,60.8 62.7,98.3 46.8,59.5 113.3,101.7 74.7,95.6 137.9,72.2 135.5,112.8 45.0,69.2 61.8,74.3 112.4,91.2 93.6,102.7 138.4,112.7 69.5,91.3 66.0,100.3 96.2,64.0 71.1,89.1 78.4,44.3 106.1,52.5 64.5,80.9 127.9,102.3 74.7,75.5 79.9,85.9 65.1,73.4 53.4,95.4 118.3,91.2 69.7,49.4 95.1,93.5 47.0,64.2 99.9,99.6 74.6,56.0 48.1,50.7 133.1,107.0 60.1,99.1 116.9,100.2 72.7,77.7 63.6,68.0 135.2,102.0 128.8,106.6 121.9,113.7 176.2,96.2 104.2,73.7 93.0,102.5 126.0,106.0 112.1,96.2 92.6,88.4 81.6,97.5 83.8,81.0 99.6,105.4 59.4,44.1 54.9,51.1 69.7,95.6 77.3,89.7 54.8,83.2 47.6,93.0 154.7,80.6 67.1,76.0 92.7,87.9 88.0,66.2 101.7,96.4 164.3,113.6 101.2,83.1 106.3,95.3 63.4,51.5 122.2,89.7 47.3,56.1 59.5,34.3 161.2,69.0 79.9,68.1 95.5,81.4 39.7,81.0 77.8,82.4 68.4,35.5 65.0,43.7 56.2,54.0 106.2,94.1 73.2,74.7 43.3,71.2 59.9,45.9 163.2,83.5 127.6,115.2 81.7,17.1 91.0,101.2 62.6,66.6 111.8,112.5 92.3,79.2 89.8,72.0 50.8,87.7 99.5,94.6 70.7,90.5 99.2,106.9 104.5,101.8 118.6,96.9 78.9,93.5 130.4,105.4 55.9,37.6 71.7,68.8 131.4,80.8 87.3,58.3 45.0,94.4 115.4,106.1 78.9,31.7 119.5,113.8 119.2,109.3 71.0,82.7 75.6,96.5 90.9,87.8 74.6,97.0 77.6,100.2 98.8,77.9 50.0,55.9 71.7,30.3 70.6,78.0 47.5,54.0 117.9,114.6 127.8,73.3 119.8,67.1 100.3,99.3 68.4,90.6 86.5,93.6 120.5,89.2 153.3,91.3 95.0,95.0 58.1,46.9 87.7,89.3 43.8,69.4 124.4,104.5 65.0,88.9 106.9,71.2 132.4,92.4 53.9,84.2 50.2,66.4 89.1,65.6 67.7,60.3 145.5,82.6 100.2,100.7 53.0,68.8 75.3,65.7 89.1,72.6 77.5,101.7 80.7,78.0 132.8,100.7 59.8,80.4 56.5,37.6 54.5,87.7 69.4,46.7 53.0,43.1 60.2,74.4 42.1,70.3 115.1,99.4 113.4,88.0 105.1,67.3 149.6,84.4 76.4,95.1 76.4,75.0 106.3,98.1 71.1,33.8 48.7,63.5 53.7,91.0 37.8,83.0 60.9,38.2 131.2,97.9 116.2,77.0 68.8,86.3 54.9,90.3 119.0,107.2 54.4,37.3 108.3,70.2 133.6,117.3 100.1,67.2 56.1,79.2 52.2,88.3 66.6,82.6 58.9,22.8 148.9,78.3 122.3,70.8 56.7,43.3 132.3,80.2 68.6,94.5 117.5,74.9 90.5,103.2 99.5,73.0 66.2,96.7 65.9,50.2 79.8,73.4 59.8,22.5 94.5,79.4 90.3,79.1 89.5,94.4 77.6,46.5 129.2,95.7 113.8,115.5 128.3,88.7 110.9,62.9 107.6,107.3 43.1,82.4 65.9,69.0 99.3,96.1 88.4,98.5 64.4,86.5 122.7,90.7 80.1,64.6 122.1,113.7 47.7,64.2 50.5,57.6 127.8,82.6 57.4,41.5 67.0,96.0 130.2,105.3 47.6,96.7 122.5,78.8 85.9,51.7 84.9,99.2 120.0,69.4 142.5,73.3 74.9,86.9 61.5,86.8 80.5,90.9 113.7,78.0 123.4,98.3 48.5,55.9 84.9,85.0 86.8,103.9 37.5,85.1 48.3,50.6 114.9,103.7 89.1,99.2 107.8,107.4 141.9,81.4 43.2,79.1 157.9,77.4 117.2,104.1 46.9,79.1 133.5,112.9 55.0,36.4 67.9,77.6 48.9,89.6 98.7,107.2 114.6,100.7 108.9,109.7 111.8,113.0 89.6,104.2 134.4,114.9 63.3,14.4 113.8,94.6 105.2,100.4 118.6,88.0 40.7,87.7 47.7,92.6 126.4,82.9 96.2,67.2 69.6,92.1 173.7,118.5 53.2,43.3 163.3,95.0 67.2,93.4 101.8,99.5 130.0,89.7 117.0,95.8 65.6,87.2 96.4,94.9 63.9,43.8 41.6,70.3 45.3,76.6 83.2,90.1 127.1,94.9 65.0,85.3 82.7,73.9 134.8,114.5 120.1,98.0 121.4,92.7 123.8,71.5 115.3,104.6 128.0,87.6 151.0,75.2 62.1,93.4 58.5,91.6 68.1,74.3 181.5,101.4 65.4,25.5 113.6,97.4 105.5,64.9 64.9,50.0 44.2,80.7 55.8,30.5 41.9,82.3 38.6,84.9 63.1,68.1 119.9,96.3 55.5,44.6 83.6,102.1 50.9,95.7 96.2,105.3 107.8,111.5 73.2,49.8 77.6,96.7 94.6,89.9 58.7,80.4 86.6,87.7 48.1,93.8 47.4,96.5 75.8,102.5 75.2,42.9 136.4,90.8 60.1,19.1 92.7,82.5 95.2,86.3 75.5,79.1 52.3,48.6 98.4,103.9 86.1,93.3 44.0,77.0 44.9,95.5 98.0,86.1 88.8,53.7 109.3,68.9 89.8,61.0 119.1,72.6 75.9,72.0 100.8,83.3 88.2,66.5 58.1,94.0 101.7,88.5 132.1,56.8 133.7,86.3 119.4,82.4 114.7,105.9 86.6,94.2 81.3,59.1 107.8,73.7 53.8,54.7 93.5,103.0 54.6,95.5 48.1,78.5 89.9,56.2 105.3,101.6 40.9,73.6 160.4,101.6 155.5,84.7 135.7,111.7 44.4,64.8 47.6,56.9 95.4,83.8 132.2,84.9 50.8,73.9 122.7,78.4 59.6,98.8 142.6,91.5 76.1,83.8 101.7,94.7 139.3,108.5 95.8,90.4 93.1,83.2 64.4,97.5 122.4,103.5 75.0,59.9 130.2,102.5 124.9,113.3 116.0,107.9 98.2,101.8 91.9,77.1 69.3,61.8 42.0,77.2 104.4,57.3 122.6,109.4 113.9,112.1 137.4,84.2 56.0,74.0 135.1,75.4 78.4,97.3 67.5,70.6 64.4,91.5 99.4,108.8 68.8,92.0 67.4,66.6 101.8,79.8 111.5,112.6 111.6,88.4 58.6,87.9 115.9,102.3 84.3,62.6 103.3,107.5 66.0,19.6 105.0,110.1 64.0,40.8 141.7,91.6 122.2,87.2 42.0,81.3 60.3,92.4 158.3,114.9 52.6,68.3 114.8,96.9 51.0,81.5 72.5,72.0 128.7,113.6 50.4,54.2 61.9,69.0 116.2,90.7 66.4,70.6 103.1,76.8 64.5,81.1 107.2,88.0 132.3,81.1 83.3,94.7 100.0,70.9 59.0,85.1 122.1,92.9 74.2,58.6 49.3,79.9 49.4,94.9 51.6,95.7 107.6,93.3 85.3,37.2 120.2,107.4 61.1,86.4 115.5,99.3 64.7,75.5 65.8,49.9 86.4,98.5 101.9,105.7 180.4,96.8 93.2,61.8 49.0,71.1 71.2,57.6 76.1,91.0 59.8,89.6 64.2,13.2 107.7,100.7 121.2,91.4 131.4,108.6 63.7,100.0 180.2,103.1 119.2,108.7 108.6,102.4 93.9,56.7 152.7,110.8 81.6,79.0 55.5,42.8 39.2,78.2 50.6,77.8 118.9,65.6 62.0,84.5 93.0,63.6 48.8,74.1 127.8,111.1 48.7,71.4 125.9,96.0 124.2,97.3 80.2,82.8 69.2,87.2 85.8,61.8 101.3,110.7 45.2,82.9 132.6,78.8 78.5,94.2 132.1,112.1 122.3,99.7 68.4,98.8 107.6,48.3 126.4,99.9 128.8,110.0 77.0,50.2 126.9,76.1 98.6,101.8 104.2,62.1 74.8,89.1 106.8,80.6 105.1,96.7 93.2,103.6 130.0,101.5 58.0,98.9 126.0,71.8 134.2,105.6 117.9,89.4 75.2,81.7 39.8,75.9 95.5,90.7 72.5,59.4 62.9,70.4 130.7,93.5 121.6,110.9 65.6,40.1 97.1,99.1 114.3,102.9 55.5,36.4 121.7,81.1 151.9,85.2 80.3,49.0 91.5,63.8 126.5,106.7 82.0,68.2 72.7,50.1 73.9,62.6 100.7,85.8 55.8,64.3 51.8,97.1 51.6,52.1 85.9,72.9 56.9,29.9 59.1,63.5 132.0,102.5 75.8,82.6 87.6,39.2 149.9,80.2 96.6,59.3 118.9,103.8 103.2,99.4 82.1,85.5 125.5,83.9 101.2,58.4 181.7,96.4 89.1,99.3 88.9,66.2 122.5,97.1 113.6,62.1 80.3,86.4 61.1,86.5 131.5,80.6 115.1,88.6 166.8,86.6 87.3,57.7 69.3,80.1 106.7,64.1 116.1,82.8 123.4,97.9 84.4,81.1 115.8,112.0 101.0,57.3 108.9,106.0 93.3,89.3 82.9,97.8 66.9,87.7 61.1,34.4 83.7,57.1 53.8,70.6 107.0,81.9 76.3,58.4 76.6,63.2 102.2,86.1 129.4,105.6 136.2,117.5 85.6,103.4 73.4,84.0 66.6,99.6 126.1,79.6 128.2,100.2 68.3,89.2 100.8,100.3 124.0,70.0 86.7,62.3 102.5,84.5 107.0,95.6 55.0,95.7 178.4,96.1 77.7,95.7 60.8,52.8 41.6,89.0 110.2,107.5 104.3,98.8 49.2,58.6 52.1,45.9 119.6,88.9 55.6,85.6 56.7,88.3 181.2,96.7 61.9,74.9 122.1,99.9 73.5,100.8 98.5,98.7 133.3,98.8 89.8,20.1 37.7,80.4 111.5,74.9 59.5,84.0 61.7,50.7 132.8,93.5 164.1,124.5 50.8,89.4 87.0,97.2 46.4,58.1 158.2,90.3 55.5,83.6 96.5,68.3 117.7,98.6 114.1,87.9 62.1,40.0 82.9,88.2 91.2,91.5 96.8,106.4 127.9,102.3 47.5,56.3 103.4,106.0 79.7,55.2 96.1,78.0 126.1,96.9 119.4,80.3 64.4,48.7 113.4,93.9 72.7,75.0 74.8,77.5 122.8,108.0 55.3,82.4 129.7,78.3 96.0,106.9 107.1,97.6 84.9,95.9 50.4,63.9 94.9,94.6 119.9,86.4 111.2,99.8 99.8,106.8 59.2,66.6 155.9,83.1 115.1,88.7 186.1,121.6 113.7,85.8 147.7,110.0 128.6,77.1 57.8,71.9 58.6,40.3 90.0,88.9 68.9,45.2 80.4,82.2 70.8,80.3 77.5,49.6 47.3,63.3 82.0,95.8 59.7,47.1 97.6,92.8 80.2,22.5 126.8,106.5 78.5,84.3 111.4,111.6 47.0,88.6 120.7,99.1 97.7,75.0 91.5,82.7 84.5,105.4 63.2,27.8 84.8,57.5 105.3,70.0 131.7,74.0 123.2,99.8 73.9,84.1 76.5,91.2 62.5,89.7 65.0,74.5 126.5,75.9 63.1,65.9 72.6,79.7 66.6,86.9 39.9,91.8 65.9,97.9 102.7,59.4 106.5,97.3 104.9,96.3 71.0,101.3 100.2,102.3 47.0,68.5 44.3,64.7 103.9,75.6 38.6,83.7 61.0,23.0 84.3,48.1 71.0,48.4 162.8,93.1 113.8,77.4 103.0,61.5 121.5,76.4 77.5,86.5 127.5,75.0 100.2,115.7 90.9,89.3 160.2,84.1 53.7,54.4 57.4,60.9 127.0,100.4 87.5,65.6 121.7,103.1 89.6,90.6 120.3,84.8 128.4,79.8 84.8,40.3 85.0,96.6 52.2,39.5 80.1,82.3 116.7,114.6 49.9,63.0 53.1,46.9 52.8,49.4 132.3,85.8 113.7,90.3 123.4,98.4 75.1,98.7 54.9,65.7 120.3,76.0 108.6,110.3 88.4,93.5 83.9,95.2 121.5,66.4 113.2,84.5 82.7,33.1 73.8,54.2 174.8,91.0 109.9,64.2 101.0,83.4 88.9,86.8 44.5,86.8 89.4,84.3 88.1,84.9 130.5,112.7 65.6,91.8 106.6,81.8 174.9,102.7 47.1,86.6 52.4,79.6 113.7,91.3 121.4,107.2 60.0,76.9 49.2,69.6 63.9,87.1 121.0,98.4 75.4,72.0 133.9,73.3 80.5,58.3 145.0,100.8 77.3,55.1 131.0,111.3 48.2,57.5 161.5,67.9 137.0,99.7 46.8,56.2 102.3,107.3 75.6,89.6 65.0,42.7 59.9,34.3 68.9,77.7 60.1,53.3 81.5,51.4 108.4,111.8 71.1,12.4 67.0,69.7 106.9,99.3 58.6,81.5 64.9,96.4 98.9,98.6 105.9,78.6 70.3,88.1 102.6,78.3 45.8,64.7 103.8,96.0 101.1,66.7 55.2,64.7 131.9,114.3 49.5,52.3 123.8,82.5 102.3,99.0 87.3,103.5 132.9,91.3 110.3,93.1 61.8,75.3 117.2,89.1 39.7,90.4 121.9,87.5 103.1,87.0 119.5,112.3 165.6,84.2 101.6,85.8 89.5,89.6 107.0,62.0 106.0,51.1 150.1,78.2 142.5,103.9 78.1,95.4 77.0,34.9 57.4,77.7 112.8,111.7 44.4,75.9 127.3,84.0 114.0,96.1 50.0,93.8 118.1,110.0 87.3,76.9 96.9,90.0 114.8,67.4 55.0,94.5 135.3,106.5 113.3,76.3 53.2,39.4 68.4,86.9 96.8,102.0 123.6,75.0 119.2,94.1 46.6,60.6 94.6,108.3 106.7,73.1 92.0,101.7 138.0,92.6 82.6,104.2 99.5,66.8 62.5,70.0 49.6,48.7 117.8,109.6 106.4,85.5 61.3,38.5 117.0,76.1 116.7,94.9 121.7,80.0 171.7,79.3 108.5,104.4 73.7,61.5 43.8,63.9 67.5,55.4 83.6,58.4 90.5,66.1 47.1,74.8 165.2,113.4 123.5,99.3 88.5,95.5 59.8,64.9 68.5,97.7 125.9,111.9 97.2,88.5 130.5,100.8 108.5,108.9 105.8,80.3 45.3,60.8 47.3,74.6 112.4,99.7 111.4,72.8 80.2,102.3 117.0,82.6 44.5,62.9 90.7,66.2 166.3,78.6 119.2,109.4 179.0,123.9 50.8,91.5 39.1,90.8 46.8,81.0 142.8,87.1 76.6,57.1 112.0,112.6 71.5,57.9 71.0,92.4 112.5,73.2 149.9,115.1 76.5,72.0 129.4,92.8 54.8,52.1 148.1,91.6 40.7,92.5 131.1,111.6 128.6,98.0 86.1,103.5 79.6,78.5 71.0,37.3 119.1,73.5 118.3,82.6 106.9,111.5 125.7,113.2 115.4,106.2 109.9,96.4 162.2,104.3 50.0,63.5 84.5,40.0 106.7,75.7 108.5,112.4 85.5,103.1 126.4,111.6 77.4,91.3 70.8,80.5 102.0,72.3 93.6,92.1 82.2,45.0 155.8,84.1 124.2,81.0 51.4,49.7 44.5,62.5 103.9,107.0 154.8,118.8 69.9,83.1 145.0,92.1 116.0,77.9 109.9,109.1 57.5,71.4 92.7,82.4 51.0,89.9 63.9,93.9 83.8,104.4 113.5,111.4 117.8,101.7 53.2,88.0 150.0,74.7 129.4,102.4 91.1,98.2 71.2,52.0 123.4,89.5 57.1,38.4 140.9,87.6 70.2,35.6 126.3,99.7 65.2,43.2 84.3,77.9 52.1,43.5 143.0,85.1 51.2,87.7 179.4,103.0 75.2,80.4 112.0,90.7 81.1,49.6 60.4,36.0 123.2,87.4 68.6,93.6 126.0,84.3 111.9,107.8 68.7,96.5 39.1,90.1 57.3,43.5 130.0,108.5 53.3,95.0 78.4,61.6 138.4,80.7 55.1,69.5 67.0,98.2 165.3,110.4 118.8,76.5 113.7,96.1 50.3,94.3 92.0,69.8 173.9,119.9 156.8,96.3 43.1,72.4 118.3,103.8 73.4,57.6 84.1,94.6 54.3,90.4 40.3,81.1 86.2,64.2 86.5,38.6 122.0,113.9 53.4,79.9 121.0,100.8 80.5,76.6 75.6,94.4 103.1,105.4 59.1,91.6 123.7,100.0 91.8,106.4 142.5,95.5 60.1,37.5 69.6,74.0 47.3,66.1 57.8,33.8 148.9,86.4 60.8,92.3 88.2,97.7 165.2,85.4 115.7,91.8 89.9,95.6 68.8,45.7 52.3,60.2 106.9,71.0 145.9,75.0 93.0,106.1 83.6,46.1 116.5,107.3 78.2,82.5 75.2,49.6 114.8,86.7 146.0,74.6 77.9,95.2 59.5,53.2 81.2,45.7 46.2,73.9 117.1,61.1 156.8,94.4 48.6,94.9 42.0,92.3 77.8,102.9 82.6,90.1 132.7,116.4 169.0,113.9 86.1,57.9 132.1,77.9 60.6,87.5 90.3,94.0 143.2,116.7 140.6,104.9 43.5,85.7 71.9,68.6 110.0,105.3 81.3,96.8 91.3,89.6 60.5,48.4 138.3,111.8 119.6,70.9 175.8,102.7 47.3,80.4 76.5,88.2 50.1,77.8 125.7,93.2 130.2,119.0 127.2,89.8 87.7,96.1 52.4,43.7 113.2,109.2 81.1,102.8 99.9,91.1 122.4,110.1 106.9,96.4 108.6,95.6 53.5,41.4 63.3,62.0 145.2,69.5 69.4,37.9 92.5,54.6 45.2,64.3 133.4,104.4 52.0,95.7 113.0,91.5 178.5,43.9 126.1,99.9 81.5,100.0 150.0,75.3 82.3,87.3 92.1,82.0 75.6,60.0 75.9,81.0 72.8,98.8 119.4,102.4 80.4,43.9 50.7,48.9 107.7,88.5 88.0,104.1 88.4,62.3 192.8,90.6 100.1,67.1 83.9,95.2 129.2,98.8 71.2,92.4 104.4,81.2 167.7,101.3 85.7,79.5 52.9,81.4 117.5,85.4 100.8,68.7 80.5,84.5 137.5,94.9 112.8,63.7 124.7,80.6 53.9,70.8 44.0,73.2 71.7,54.6 129.9,115.4 45.3,94.1 45.2,93.9 46.8,79.6 104.6,79.3 41.6,78.3 61.6,91.8 60.5,82.1 104.2,94.7 137.8,105.7 150.0,94.6 116.9,108.2 177.1,96.3 59.2,93.0 95.5,97.0 123.6,103.9 67.3,97.0 89.5,106.5 156.8,99.1 63.5,99.6 58.0,90.0 103.7,98.4 106.0,65.3 134.6,110.3 57.7,48.6 117.7,89.7 77.6,50.3 70.0,58.9 38.5,80.8 54.6,97.6 123.3,96.7 78.0,85.7 173.6,112.1 129.3,112.7 39.2,85.5 88.0,91.2 115.4,106.4 92.5,90.4 120.1,73.5 184.8,85.7 74.1,67.1 62.7,95.8 98.3,86.7 48.6,83.4 167.4,100.1 118.7,67.3 108.0,108.0 103.4,101.3 53.7,47.9 41.6,72.7 48.9,49.1 38.6,85.4 71.5,83.2 65.0,88.1 64.6,90.2 75.3,47.8 79.3,54.4 77.1,101.1 110.2,92.6 63.5,29.2 124.5,69.5 83.6,97.8 53.2,47.4 39.0,77.2 174.6,102.0 58.7,81.9 152.1,119.1 50.1,87.5 45.6,61.0 117.1,110.3 38.3,88.1 96.0,101.7 84.1,104.7 127.2,90.7 53.4,71.4 60.1,90.2 69.6,77.8 109.2,105.0 67.4,97.2 52.1,89.4 47.9,53.4 69.7,91.8 52.3,47.7 91.9,104.0 114.4,89.8 91.9,87.3 47.6,80.5 99.4,104.0 108.5,110.0 150.9,113.6 73.4,46.3 51.4,90.5 65.9,63.8 181.4,99.3 125.8,118.8 48.3,93.5 48.3,85.6 124.7,91.6 119.2,105.2 53.0,51.2 59.5,66.8 79.8,76.0 82.6,104.5 47.5,61.4 137.8,100.9 119.7,96.5 86.0,78.0 121.2,114.3 54.7,77.4 113.0,71.2 118.3,110.7 138.7,104.0 47.8,79.7 106.6,103.3 61.4,33.0 136.3,114.3 92.4,104.6 121.7,92.4 121.7,91.4 40.3,88.1 113.3,107.5 121.6,80.9 170.2,78.1 53.1,68.8 95.5,106.9 115.7,78.0 81.7,94.1 61.5,70.3 119.8,107.7 87.1,55.4 103.7,64.3 82.7,79.4 64.4,82.1 58.5,89.2 114.9,113.8 117.6,70.3 57.9,43.5 137.7,109.2 51.4,78.6 115.2,104.3 104.3,95.4 42.6,70.9 73.2,86.0 59.4,51.0 101.3,103.8 72.3,74.6 168.5,82.8 43.9,93.9 43.6,85.9 127.0,68.7 89.2,104.0 69.8,53.6 80.3,90.1 47.7,82.7 73.4,56.9 113.6,109.5 61.2,78.5 148.4,79.0 175.3,81.0 49.2,57.0 113.5,110.0 67.7,91.8 119.4,96.7 120.8,106.3 71.9,74.2 61.7,46.6 66.7,91.0 127.7,100.6 116.0,89.8 81.6,64.3 50.1,51.4 122.8,106.9 46.2,61.0 46.2,62.6 141.0,73.9 115.5,107.6 102.7,104.5 66.9,78.8 145.5,69.1 101.2,102.0 65.8,92.7 95.9,58.0 111.2,90.3 85.9,98.8 66.9,87.2 83.4,95.0 71.7,86.7 99.7,76.2 59.6,94.4 98.4,99.7 51.2,93.2 66.8,79.9 58.9,28.6 50.0,96.2 107.6,87.6 90.3,101.4 157.1,79.5 118.8,73.5 74.3,35.4 81.9,54.6 92.4,89.7 129.7,118.4 80.0,101.3 76.8,52.0 121.1,98.4 76.8,78.1 142.5,83.9 67.3,95.2 119.8,106.6 109.2,103.3 89.8,102.7 91.2,102.4 99.7,106.4 79.3,73.5 63.2,61.8 137.8,96.0 50.1,75.2 65.2,47.5 61.7,53.1 51.9,96.8 121.8,98.8 80.5,103.0 116.3,92.7 105.9,112.0 67.6,75.3 172.5,85.2 131.8,72.7 100.6,110.2 71.8,101.0 135.5,105.4 118.6,112.7 124.8,103.9 123.6,82.5 133.8,86.4 137.1,91.6 155.3,121.3 68.8,42.4 88.1,64.5 94.1,57.4 96.1,93.1 45.2,74.3 102.0,81.8 66.3,54.7 59.5,96.6 149.7,77.3 93.1,60.1 117.9,114.2 80.7,94.1 65.0,75.3 74.0,96.0 75.8,91.3 49.4,57.2 151.4,94.5 93.3,104.7 136.9,76.5 81.4,59.0 123.4,100.0 117.0,94.0 105.8,76.4 132.2,105.8 88.3,50.1 52.6,92.5 53.2,54.9 92.7,93.1 88.6,86.0 111.3,110.4 136.3,84.5 144.9,83.5 97.5,104.1 122.6,113.6 101.1,101.7 100.4,106.6 111.0,110.0 53.4,95.4 45.4,80.8 89.2,91.3 69.4,91.4 51.8,82.9 176.0,87.2 64.7,61.8 92.4,88.9 147.6,91.2 173.6,112.8 47.3,89.4 76.6,92.0 117.4,96.2 125.4,103.2 100.7,100.0 122.6,67.2 92.4,107.1 55.5,43.4 39.5,78.8 113.9,83.2 56.5,95.3 86.1,61.9 105.5,106.3 118.7,78.6 55.5,93.8 157.3,76.3 81.6,85.0 57.8,96.2 90.4,30.0 88.6,53.6 130.9,106.5 133.1,85.2 106.2,108.3 123.1,103.9 80.4,58.9 79.4,98.7 134.6,76.5 75.2,56.7 92.3,63.5 132.0,93.9 56.6,50.9 161.4,69.8 155.5,110.2 96.0,67.6 125.5,114.2 137.2,87.7 67.6,84.7 48.2,78.2 59.5,19.2 55.7,96.5 85.5,33.6 122.8,67.3 114.3,91.8 148.9,89.5 131.4,103.9 106.4,73.5 62.6,9.6 62.9,19.9 126.0,108.9 88.5,99.3 116.9,79.7 59.4,82.4 53.2,64.0 100.0,97.0 150.7,113.8 67.9,66.7 162.7,73.8 59.3,97.5 147.6,93.6 145.4,108.6 99.6,104.7 136.4,113.5 118.2,84.8 119.1,75.3 144.4,119.2 126.1,81.3 133.3,97.1 102.2,69.1 94.1,100.4 64.9,97.0 112.2,93.7 132.2,99.5 67.6,96.5 70.5,70.3 61.7,66.8 174.3,106.0 46.6,67.9 57.6,25.5 40.9,92.4 75.3,69.4 133.1,84.2 125.9,94.5 43.9,83.7 103.6,53.4 135.5,104.9 69.2,97.2 126.7,76.4 138.3,100.9 79.5,100.2 147.0,106.2 160.6,107.6 49.9,74.4 56.2,35.4 43.1,64.9 108.8,89.4 46.0,57.5 69.1,88.6 58.6,47.9 126.9,81.7 109.5,102.6 99.5,100.2 83.7,71.1 131.3,98.4 40.3,86.3 147.0,78.7 119.7,81.5 62.5,46.8 179.0,106.0 62.7,53.8 139.3,85.1 89.3,106.0 57.3,78.1 51.7,48.7 116.8,109.1 54.6,54.5 107.8,99.3 84.0,88.5 62.2,99.3 110.0,104.1 90.2,99.8 126.5,110.6 126.3,102.4 54.2,33.7 102.1,109.4 57.7,33.6 39.0,78.1 121.5,115.3 80.7,46.9 122.9,78.8 63.7,22.4 60.0,84.7 129.5,97.7 71.0,98.5 78.5,32.8 60.2,58.9 76.4,99.6 62.9,83.0 76.5,85.4 85.6,70.3 53.0,48.4 104.6,57.8 93.0,66.2 112.2,75.4 121.3,91.6 98.0,87.5 69.2,95.8 51.6,81.8 46.5,94.9 119.1,94.9 81.6,93.8 68.9,78.0 52.7,43.1 62.9,63.2 90.6,65.7 52.4,47.7 61.5,90.7 125.1,114.4 56.2,91.2 56.4,84.6 96.9,98.2 65.5,87.5 72.6,99.6 81.5,83.9 98.1,88.7 183.1,91.3 131.1,81.5 55.2,78.5 51.5,41.4 121.1,75.9 120.6,105.0 132.0,92.8 57.7,92.0 108.0,108.8 146.2,80.3 70.1,89.6 142.2,79.5 107.1,91.7 66.1,62.1 130.3,111.7 78.4,99.6 94.2,87.2 113.3,107.3 121.0,97.7 49.6,62.3 86.6,52.9 116.9,111.6 110.1,71.8 107.7,111.6 67.9,100.9 110.7,103.0 67.3,84.6 55.4,65.2 119.4,102.0 86.3,76.3 44.4,93.2 71.5,78.0 43.4,64.7 106.5,70.7 107.1,102.4 58.6,48.4 96.7,91.6 181.5,94.2 90.7,78.5 120.9,97.8 102.3,108.0 66.8,55.3 123.0,103.3 110.8,104.6 58.4,46.9 135.9,72.2 49.5,61.3 160.7,115.4 133.9,105.0 85.8,53.0 68.2,91.8 73.9,94.5 147.5,109.8 92.6,70.3 113.1,103.4 54.6,86.5 122.1,107.0 143.2,119.8 128.2,74.6 116.5,92.5 163.6,118.8 39.5,83.0 129.8,114.7 67.1,80.4 83.2,90.8 141.6,99.1 124.4,92.2 123.3,104.8 167.0,84.1 66.2,49.5 58.9,96.1 73.2,92.3 133.0,107.5 96.2,52.5 110.9,108.3 132.8,90.3 100.3,103.9 67.6,18.1 87.9,54.3 114.9,79.1 133.1,69.1 156.2,99.9 53.6,63.3 168.7,118.2 121.0,104.7 143.9,114.7 133.3,75.5 139.0,113.2 82.9,97.1 122.9,101.6 145.4,86.6 119.0,84.1 54.7,82.0 81.2,89.2 62.8,98.0 161.0,100.0 71.1,74.0 46.2,87.8 98.9,95.1 75.4,85.3 152.6,84.6 128.4,98.2 100.1,77.9 124.9,106.2 146.7,94.8 41.1,72.2 112.3,104.6 60.7,92.5 115.0,109.6 113.2,60.2 167.3,95.1 167.9,102.8 123.3,85.5 91.5,91.0 118.7,80.6 45.9,64.9 94.1,77.1 117.5,93.3 104.6,102.5 54.4,57.6 91.6,93.2 68.5,95.3 76.3,39.6 145.0,72.7 132.8,82.2 76.0,79.7 61.7,46.2 78.9,60.8 68.5,89.7 51.4,75.6 136.5,106.4 98.1,79.7 123.4,115.1 110.0,70.8 64.2,17.8 108.8,81.2 67.8,72.3 80.1,50.2 72.8,96.9 109.2,112.1 128.2,70.4 110.4,86.7 99.6,67.5 57.8,71.4 118.6,83.7 126.2,81.2 159.0,56.7 75.4,59.1 131.2,97.8 122.2,113.8 91.6,72.3 86.9,55.7 78.1,92.5 54.2,47.0 50.4,86.1 110.9,100.1 47.9,64.2 73.3,102.1 101.6,107.1 104.2,98.4 85.9,95.0 58.3,72.2 134.9,114.0 98.3,105.9 49.8,49.2 175.6,107.8 111.6,105.5 89.3,75.8 126.7,56.9 75.8,92.5 120.6,114.8 136.2,115.2 115.6,107.3 138.1,65.7 124.7,113.9 89.2,96.2 75.2,101.7 57.2,88.3 84.0,53.3 75.7,91.6 66.0,83.1 44.0,86.5 60.6,91.9 90.5,94.9 170.7,80.1 65.6,63.9 113.3,104.7 71.4,64.4 46.1,94.1 115.7,115.9 58.4,27.6 109.1,74.2 90.8,55.9 45.0,65.0 83.0,104.5 175.3,104.6 176.2,100.3 51.6,77.6 80.9,57.8 60.1,37.0 51.9,95.0 79.9,98.4 99.3,63.5 116.3,73.9 79.6,86.8 101.5,72.0 52.8,37.3 111.8,112.4 127.7,82.3 113.6,102.3 120.7,114.1 61.7,96.3 76.6,69.6 77.6,96.6 111.7,66.5 55.6,71.0 81.8,55.7 110.3,112.8 95.5,105.8 108.4,69.8 89.2,57.6 120.9,108.2 61.0,55.3 130.6,114.0 129.3,111.3 105.2,103.3 122.8,102.8 65.2,78.5 81.6,40.7 43.7,73.3 120.7,114.8 85.3,84.9 131.1,113.2 100.0,107.4 119.6,98.9 80.9,67.4 57.1,66.7 62.2,73.8 46.3,71.4 65.9,52.3 81.6,88.3 127.0,103.8 40.1,83.8 122.8,87.0 62.3,46.2 88.6,31.9 43.0,80.9 127.1,90.6 117.1,81.7 150.7,74.6 73.1,44.7 65.9,88.0 95.8,101.7 68.5,34.4 133.4,94.8 61.6,55.4 119.2,104.8 133.4,77.2 91.5,74.3 78.3,92.8 113.4,101.8 69.6,87.5 99.1,100.1 123.5,113.4 121.3,100.9 137.8,116.1 75.9,74.5 90.4,106.9 126.4,74.3 59.8,89.0 87.7,104.7 98.4,105.9 38.1,89.9 58.9,92.3 50.6,78.5 44.5,84.4 95.6,102.1 66.7,50.5 52.7,61.4 52.5,85.7 88.8,33.6 114.9,95.1 90.5,94.7 79.2,50.7 133.0,106.6 161.2,113.6 91.0,66.5 55.8,48.8 159.1,94.6 79.5,77.7 155.3,104.1 62.2,92.5 39.0,87.6 115.0,102.6 89.6,90.7 52.9,54.5 96.7,68.1 87.5,102.7 119.5,91.6 66.5,96.2 69.5,75.4 69.5,91.1 76.4,101.5 158.7,93.6 53.0,90.5 157.5,108.0 54.6,67.6 62.5,78.2 122.0,113.3 76.7,99.4 43.6,66.6 92.9,79.3 119.8,79.2 52.9,96.1 84.5,85.0 51.6,78.9 105.1,83.1 124.2,112.0 105.4,73.9 71.7,87.9 72.2,75.6 94.3,98.9 167.9,72.8 107.9,104.5 81.9,93.8 174.3,110.1 102.3,104.0 76.7,70.9 114.1,109.3 117.5,112.3 74.4,97.6 104.3,90.9 77.3,101.3 110.4,92.6 50.3,44.8 64.7,67.8 89.5,79.2 48.6,58.4 103.4,83.2 95.7,94.9 102.2,91.9 90.7,103.0 141.8,67.0 62.7,47.3 118.0,84.7 126.0,98.7 115.8,89.6 82.5,63.3 74.9,87.3 88.3,102.2 99.8,70.2 51.2,91.7 59.5,86.8 166.3,75.1 100.6,94.5 62.7,79.5 78.1,33.8 82.9,100.6 50.4,76.3 51.5,45.4 84.0,19.1 74.7,80.2 70.0,93.4 141.0,104.6 62.7,17.1 98.2,98.8 97.1,105.5 130.4,74.4 120.0,114.4 126.6,109.0 83.6,77.0 114.4,101.7 144.4,92.2 89.6,61.9 176.6,77.2 72.7,67.7 108.9,110.2 58.5,37.1 93.6,83.3 76.8,22.2 48.2,95.0 85.2,104.3 103.9,69.8 127.2,74.7 37.2,84.1 168.0,112.5 156.6,79.7 93.4,101.7 67.3,56.4 66.3,90.4 115.2,77.5 90.1,92.4 182.7,92.7 72.0,47.1 64.8,22.1 112.3,112.4 88.6,93.8 71.3,50.8 74.7,98.0 156.6,101.4 92.2,62.6 110.1,103.0 121.7,72.3 73.3,66.6 63.8,91.3 76.1,93.1 112.7,98.5 50.1,59.1 55.1,91.3 80.8,58.6 46.9,76.7 110.1,105.1 104.1,99.6 122.6,115.3 45.7,61.9 56.1,95.3 113.7,82.6 97.0,65.7 49.4,46.8 96.3,72.9 80.5,90.8 58.9,52.6 98.7,99.4 120.5,115.8 91.8,72.7 49.6,69.9 136.4,101.0 100.0,105.1 139.1,77.0 91.1,84.2 94.2,89.8 87.8,74.4 117.5,113.7 78.8,103.3 62.4,86.3 102.6,67.7 101.3,80.1 52.3,97.7 93.9,85.0 118.3,87.7 109.6,61.1 74.3,87.4 92.0,69.9 56.6,69.3 143.0,101.5 92.5,95.5 91.9,103.8 52.9,55.0 57.2,73.3 93.5,89.2 91.8,104.3 124.8,110.5 132.3,87.0 127.5,88.5 44.6,79.9 101.6,109.7 79.3,94.2 48.6,68.7 106.2,109.1 53.1,98.0 49.0,81.9 114.5,107.3 69.2,97.0 49.9,75.0 46.4,60.8 124.8,105.9 87.5,101.3 95.6,95.5 101.2,97.1 93.2,101.4 93.0,90.8 101.2,96.9 66.0,99.3 109.0,97.8 78.3,92.0 66.5,79.4 117.5,109.0 87.4,57.7 169.3,81.4 91.4,77.2 66.8,41.3 49.5,83.8 131.7,95.9 124.4,108.4 126.9,75.8 112.6,82.8 65.4,76.6 82.0,56.3 54.0,94.9 87.9,94.3 137.8,80.1 117.7,107.6 132.4,86.3 101.1,105.2 55.9,75.8 72.2,86.4 89.0,102.5 52.4,41.9 90.6,85.1 123.6,106.7 46.6,60.6 68.1,85.2 109.1,75.1 105.4,110.0 125.4,115.9 77.2,58.1 59.6,84.1 124.0,112.6 82.2,99.5 114.7,106.8 73.6,61.0 84.1,81.8 91.5,64.2 117.5,103.1 64.7,77.9 94.2,69.1 70.1,101.3 41.5,83.9 115.2,111.8 74.2,102.4 79.6,88.2 75.0,54.5 94.6,103.8 91.7,80.2 119.8,75.7 77.8,55.2 42.9,79.6 90.5,84.9 95.1,69.3 144.2,53.4 49.0,51.6 74.4,49.0 83.5,97.3 89.8,62.3 73.1,90.4 81.6,98.1 150.0,90.0 123.8,81.0 111.5,106.3 104.8,102.3 80.8,99.4 136.6,93.5 118.6,108.0 57.9,28.7 61.7,92.6 47.5,88.1 62.3,85.9 71.0,100.6 121.7,110.7 113.7,111.0 76.3,94.8 82.8,72.5 50.8,76.2 122.7,103.3 131.0,113.5 170.8,79.8 128.4,98.6 65.9,70.8 45.5,88.9 87.9,58.8 103.4,110.3 119.0,107.4 113.2,96.4 125.0,112.5 130.0,102.5 74.2,41.2 126.9,111.2 57.9,34.4 58.8,85.2 83.0,92.5 97.0,69.2 125.4,115.2 83.3,93.5 89.6,89.1 111.0,92.4 49.1,93.6 111.9,69.0 129.7,88.2 135.1,103.6 61.4,34.8 136.7,88.8 62.2,32.9 122.0,79.1 106.5,92.9 58.0,72.3 100.4,82.2 80.7,92.0 60.7,98.3 50.8,89.7 46.3,58.5 52.4,54.9 47.0,84.5 159.5,90.7 54.2,44.5 137.0,83.4 47.6,52.2 52.4,43.4 120.3,101.6 112.2,93.7 113.8,102.1 118.6,100.2 67.8,83.3 49.0,91.1 96.7,88.1 76.3,70.2 121.6,102.0 180.6,100.3 49.8,80.3 114.8,79.9 90.8,106.6 127.1,97.7 66.9,70.1 36.9,84.5 124.0,97.3 48.3,51.1 41.9,75.7 46.3,71.8 63.2,98.5 119.9,112.8 81.3,101.2 125.9,80.1 62.3,85.6 123.4,86.1 133.1,68.5 64.6,24.7 125.4,68.8 131.5,102.8 165.6,86.6 46.0,72.9 54.8,87.2 60.1,98.1 86.9,89.3 80.5,94.9 91.0,89.2 70.8,50.2 56.2,68.2 51.8,42.6 65.0,98.6 50.9,43.0 116.8,85.5 75.5,78.9 119.9,87.1 74.2,56.5 116.0,105.8 43.8,83.1 126.8,83.8 106.9,81.8 132.1,79.3 92.2,67.7 97.7,90.3 84.1,88.3 75.1,99.5 135.3,104.6 60.9,80.1 115.2,89.6 94.0,106.2 105.3,106.5 52.1,84.0 119.8,97.1 60.7,28.3 95.6,71.4 85.3,41.6 73.8,71.4 51.2,88.1 46.6,62.2 149.8,88.9 141.7,73.8 113.3,71.6 102.3,109.3 119.5,80.9 151.5,114.9 122.3,115.5 117.0,100.9 50.2,47.0 75.5,77.0 123.6,104.7 61.1,57.9 86.9,81.2 96.2,93.6 89.3,67.0 88.8,104.9 61.9,50.8 56.4,67.0 145.9,119.8 52.5,89.6 77.1,101.5 108.8,75.2 74.6,78.3 40.7,87.1 57.4,56.8 89.2,89.7 115.2,86.2 68.4,89.6 89.2,60.9 53.1,76.9 116.2,113.2 147.0,81.9 117.6,91.3 129.0,117.4 180.5,100.1 101.5,76.7 130.5,81.4 49.5,95.0 59.7,94.8 114.6,90.3 144.0,105.4 154.1,60.0 130.0,115.1 67.8,13.6 60.5,84.0 137.2,99.5 66.5,95.5 71.7,35.6 125.0,82.6 74.2,90.4 162.6,64.4 117.0,77.2 44.7,74.2 113.4,61.7 122.7,91.1 77.5,51.2 102.4,97.2 39.2,77.8 103.6,110.0 37.7,86.1 48.4,50.8 39.6,94.2 64.6,55.1 69.7,89.1 138.8,113.6 41.9,91.8 102.5,89.2 99.8,62.9 95.7,58.2 61.6,90.5 53.0,95.6 125.8,95.8 77.2,66.2 54.5,65.8 92.8,95.3 61.6,82.6 59.2,92.0 53.9,64.2 63.4,86.6 89.9,51.4 47.8,58.4 89.6,81.1 119.6,110.5 66.1,12.1 106.0,108.5 127.7,115.6 53.2,40.8 129.8,58.1 50.7,63.1 70.0,88.3 171.1,79.0 169.9,102.5 131.6,87.7 108.2,111.6 94.4,100.1 84.1,90.2 101.8,104.8 113.5,76.7 121.1,121.3 102.0,111.8 115.0,96.7 64.9,48.5 87.6,89.6 48.9,61.8 120.9,76.4 62.1,91.0 161.5,70.8 142.7,86.5 65.2,99.5 112.0,80.9 119.9,104.0 114.6,97.8 68.4,67.9 40.7,81.7 126.4,75.0 144.6,98.4 41.8,83.9 110.0,77.3 83.6,84.8 122.2,95.9 133.5,116.8 100.2,82.5 93.6,87.9 60.8,86.8 110.0,70.7 108.5,66.0 54.3,67.8 142.9,118.4 83.4,99.7 113.2,104.0 69.3,69.2 88.1,63.0 126.9,112.1 89.6,105.7 48.3,52.9 68.4,100.4 115.8,103.9 110.9,108.3 122.3,101.8 61.1,95.5 91.1,96.2 37.9,83.5 67.2,16.1 71.8,49.0 84.6,101.8 118.4,81.5 116.6,109.5 155.2,82.9 44.5,63.7 68.2,74.3 141.3,115.3 93.3,103.6 92.7,84.0 66.5,49.4 64.0,70.4 79.2,78.2 96.2,112.4 118.6,71.9 76.9,80.1 178.8,95.2 119.0,101.3 124.9,101.9 118.8,106.5 60.9,83.2 79.1,66.8 57.5,75.9 132.6,74.9 125.7,94.1 74.2,98.6 90.5,89.8 48.4,77.9 54.9,92.7 74.5,41.4 57.1,48.9 60.9,64.1 83.3,86.2 62.5,27.6 49.2,52.7 63.6,93.1 63.5,94.9 52.2,92.9 156.8,95.3 145.7,65.1 89.7,99.6 137.0,84.3 140.8,85.0 68.0,77.8 69.6,87.2 120.9,115.1 61.8,28.7 56.2,93.2 68.8,98.6 157.3,77.1 139.0,75.9 56.4,62.6 71.1,51.1 40.5,91.7 127.9,108.7 100.0,85.6 141.6,111.5 79.6,85.5 107.8,103.0 71.8,33.5 119.6,90.7 165.1,84.0 105.2,68.0 49.1,95.7 115.3,95.9 131.5,109.9 45.3,63.1 60.0,75.1 157.5,99.4 72.7,69.3 77.8,102.7 126.0,99.2 85.7,87.5 113.2,99.0 111.0,108.7 62.4,86.4 65.5,95.8 61.8,86.5 66.2,39.7 44.8,61.3 98.6,95.1 105.4,92.1 72.5,101.7 114.4,100.8 159.4,89.0 147.1,75.2 56.0,73.9 87.1,61.7 99.3,84.9 103.2,82.8 105.0,110.4 101.0,77.0 46.8,66.7 79.1,51.3 74.0,47.0 129.1,107.3 111.2,96.9 85.3,104.2 79.5,50.1 113.8,107.2 62.7,93.6 127.4,101.9 70.8,45.8 101.3,71.9 94.6,78.6 37.5,82.1 93.8,53.4 110.9,103.0 115.7,113.1 47.5,54.7 96.1,93.8 92.2,62.6 92.3,104.6 104.4,108.5 122.4,63.8 51.3,80.7 159.3,70.9 152.7,91.2 88.4,106.2 74.9,99.8 132.7,78.6 133.6,113.9 52.3,98.0 108.7,85.9 81.8,92.1 122.7,60.7 100.2,84.7 53.9,49.2 47.2,62.8 116.5,95.8 49.8,59.3 163.0,94.6 90.8,105.8 42.4,88.8 53.3,82.4 102.8,111.0 76.9,91.4 87.6,56.5 66.0,100.8 73.9,57.7 150.2,71.1 126.5,71.5 67.6,95.7 66.8,53.6 122.4,98.8 117.5,108.6 38.9,84.3 55.8,91.2 59.0,92.6 123.9,91.3 138.2,89.8 87.2,98.4 159.1,102.7 102.1,99.8 46.8,56.9 48.4,62.3 52.9,89.0 79.3,83.2 105.0,83.1 151.4,85.3 60.9,17.0 59.8,69.2 77.0,52.6 110.2,88.7 49.4,57.3 85.2,103.7 110.0,116.1 125.3,113.4 164.0,111.2 63.5,23.8 147.9,101.9 40.1,80.7 76.9,33.1 84.4,59.7 57.0,92.9 38.4,86.9 121.2,110.5 71.0,51.5 89.7,105.1 141.3,86.8 122.3,94.9 59.8,51.0 166.5,74.6 79.7,96.8 127.1,89.6 44.7,81.2 115.0,110.2 118.4,78.1 79.3,56.5 122.1,92.9 121.8,74.8 122.6,109.2 87.6,66.6 119.0,101.4 101.9,102.9 92.2,84.8 113.5,104.2 112.0,104.1 121.1,92.3 75.8,71.8 110.0,102.7 92.4,64.5 119.4,102.7 84.7,85.1 80.4,56.3 46.2,66.5 129.1,105.9 69.8,95.5 70.0,96.9 126.6,57.9 130.0,77.2 95.4,64.8 78.6,53.1 95.8,102.8 158.9,119.5 48.6,90.4 82.9,104.4 45.3,80.5 160.9,68.4 44.9,75.4 53.4,87.5 88.2,84.1 71.7,87.0 43.8,83.9 106.6,93.2 75.7,99.7 132.7,107.1 90.6,49.4 150.9,99.5 102.8,71.6 134.3,83.8 141.6,116.1 49.5,48.2 143.5,77.5 69.3,90.9 70.0,95.6 121.1,101.4 135.1,100.4 109.0,112.3 84.5,69.9 138.6,111.0 108.6,109.2 100.9,84.1 91.1,63.5 82.7,87.4 41.2,85.5 78.7,51.5 59.8,58.1 65.5,46.3 65.6,87.2 67.4,83.0 46.6,83.3 79.5,95.1 95.8,69.7 54.2,68.1 47.3,73.0 57.8,61.6 115.8,113.2 87.5,84.0 58.6,96.8 69.7,97.8 60.2,84.8 40.0,93.8 48.0,86.0 81.8,94.2 110.3,102.8 76.8,79.8 131.8,112.6 53.6,72.3 69.7,70.5 50.4,44.2 82.1,101.1 160.3,73.0 89.7,101.6 99.5,82.8 74.4,93.8 88.7,61.3 47.1,93.6 65.8,86.8 105.4,96.1 92.3,90.1 68.9,25.7 58.2,85.8 134.0,100.9 96.8,95.4 104.1,110.1 152.2,71.7 72.5,88.3 134.9,114.8 108.3,108.0 96.7,90.0 65.3,49.9 60.9,71.2 70.9,98.1 98.4,43.8 96.5,103.8 45.2,78.7 114.7,111.8 70.6,98.8 63.9,46.0 100.4,108.1 126.6,64.1 85.1,100.7 102.4,63.4 93.0,67.0 92.4,70.3 174.7,101.5 104.5,59.1 121.9,96.5 175.5,79.4 120.8,59.2 84.8,103.5 137.9,106.1 77.6,93.8 110.0,89.6 56.0,91.5 104.0,88.1 47.6,62.1 172.4,118.0 137.5,115.2 52.1,45.8 105.1,111.4 86.7,96.3 65.2,95.5 105.9,88.6 89.7,104.4 101.7,105.2 45.2,93.2 138.1,88.6 107.7,98.6 126.8,107.3 56.0,46.5 53.3,98.0 119.8,99.0 97.3,95.1 111.5,83.0 61.3,18.5 164.1,42.9 111.9,98.8 121.8,87.1 177.3,82.4 96.7,70.3 104.8,82.8 60.4,87.1 118.9,96.1 113.5,97.0 66.0,85.4 62.7,52.7 111.4,106.0 116.2,76.6 64.4,92.9 66.4,82.2 172.7,87.8 147.1,74.4 53.7,40.3 120.2,107.5 57.2,36.2 104.7,109.9 131.1,103.7 176.5,88.2 66.3,99.9 93.7,94.0 45.6,81.2 51.3,42.4 84.2,98.8 129.6,83.6 61.4,45.0 78.8,91.3 105.0,100.4 113.1,86.9 39.9,81.0 84.7,103.4 90.4,73.8 175.0,89.1 65.3,100.3 108.3,85.1 123.6,110.4 122.4,111.9 52.1,53.0 63.7,59.5 145.8,96.7 135.2,78.1 65.5,41.2 127.2,81.4 54.5,97.4 115.3,81.5 46.8,55.0 49.2,83.7 67.0,67.5 55.5,48.6 128.5,78.3 54.8,38.3 110.0,105.2 105.2,90.3 62.4,74.8 66.6,96.7 101.5,94.3 132.0,121.9 61.2,27.4 114.8,109.2 136.4,116.9 123.5,71.7 75.1,53.4 121.1,93.5 140.1,95.1 119.0,103.4 65.1,38.9 126.4,112.2 89.9,96.7 56.5,95.3 128.3,98.3 70.7,71.6 75.9,26.0 92.1,65.2 113.8,92.9 104.6,97.3 71.0,100.0 85.1,84.9 41.1,81.5 72.3,82.9 122.2,66.6 92.4,98.6 43.6,67.6 39.7,77.0 46.0,74.4 102.9,83.8 154.3,94.3 89.8,60.7 122.6,81.6 58.2,37.5 176.7,100.0 56.6,74.7 117.5,113.2 50.1,49.2 70.5,86.9 50.4,65.7 136.7,92.5 74.7,71.6 98.5,83.0 89.1,65.1 39.1,92.1 104.0,101.3 85.9,102.1 168.5,80.0 88.0,81.5 123.8,82.3 126.5,82.7 57.2,94.3 142.0,108.9 49.4,86.2 72.1,93.0 126.5,102.8 68.7,50.6 168.4,58.7 112.1,104.0 95.5,60.5 51.4,82.0 88.5,93.9 97.3,90.2 65.8,87.6 155.3,86.6 114.3,106.4 70.4,71.2 120.8,96.1 57.5,63.2 173.1,98.8 78.5,48.0 85.6,97.2 57.8,27.1 59.1,96.5 87.5,58.3 133.1,113.3 67.5,47.2 151.0,110.7 158.7,72.1 112.6,113.4 112.0,111.8 111.3,104.2 127.9,66.1 67.8,90.5 116.9,101.8 79.0,84.7 71.2,61.4 63.7,25.9 56.6,87.4 129.6,112.1 133.5,116.8 117.4,96.2 142.1,101.7 123.5,114.6 133.1,83.0 50.6,45.8 68.4,78.2 90.1,64.8 87.3,105.5 145.6,107.2 136.3,115.1 67.3,76.8 73.5,50.8 149.4,119.3 116.0,113.0 122.7,82.8 66.1,92.9 135.4,115.6 134.6,105.4 110.6,105.9 116.8,104.7 43.5,86.1 71.3,80.4 83.1,46.9 124.1,72.7 122.2,108.9 128.6,114.1 63.5,79.4 90.0,81.3 85.1,102.2 47.7,65.5 104.9,84.7 103.0,86.8 111.3,71.5 93.6,101.5 129.8,115.0 93.8,96.4 53.1,75.8 51.8,65.0 53.4,88.9 48.9,94.3 93.7,51.5 101.9,109.5 95.1,73.4 106.0,107.8 79.7,101.2 120.8,102.9 127.0,110.5 81.4,42.0 114.6,108.4 38.4,84.4 85.5,63.0 107.1,101.8 77.1,60.1 115.9,79.7 47.5,96.1 122.4,110.1 151.4,118.1 84.4,95.5 90.3,100.0 142.2,108.2 103.3,61.7 89.6,86.9 99.6,102.0 79.8,94.0 97.5,110.7 82.7,76.6 110.7,95.7 183.6,103.8 109.2,54.5 59.1,90.6 123.6,79.2 146.3,81.1 93.5,92.1 133.4,97.6 125.9,109.3 98.2,61.8 96.5,92.5 109.3,109.3 113.4,107.6 109.1,101.0 46.4,84.8 41.3,71.0 124.8,113.2 45.1,85.5 70.6,66.8 104.8,104.3 66.2,62.8 53.4,41.3 112.1,80.8 52.6,88.9 77.1,33.4 131.3,105.0 80.9,75.9 49.5,82.7 109.9,102.1 45.0,90.7 64.8,80.0 79.5,45.7 40.4,84.9 185.6,112.6 115.7,66.7 160.3,103.3 103.8,51.3 75.7,99.5 95.5,107.5 77.5,87.8 91.0,101.5 54.2,78.0 102.8,76.8 51.5,59.4 116.7,111.7 93.2,104.6 113.1,103.9 98.1,90.8 50.5,95.1 52.6,39.4 116.5,89.6 102.0,98.3 112.0,106.1 106.9,105.8 116.5,70.3 91.1,81.9 62.3,84.7 75.8,100.4 114.6,91.8 97.1,89.7 156.9,79.5 126.0,92.3 40.6,83.4 118.2,103.8 184.7,86.3 113.6,99.4 106.9,105.7 54.5,94.9 62.0,94.6 76.7,89.0 67.3,82.4 62.8,9.3 68.6,86.4 44.0,64.2 130.5,101.4 43.8,63.7 71.3,101.0 43.4,64.9 58.5,38.9 116.3,100.7 83.4,63.5 106.0,103.6 175.8,77.3 53.8,89.5 77.7,90.7 87.5,103.0 130.9,113.2 61.1,81.0 116.3,99.1 52.9,43.5 64.8,94.8 71.9,94.6 126.4,91.3 39.2,82.8 89.5,86.0 106.9,50.7 79.7,57.1 111.7,111.1 142.0,97.8 100.3,50.3 87.8,104.8 65.9,93.8 136.3,79.6 111.6,64.5 104.9,110.7 126.1,99.2 76.0,80.6 74.7,83.1 79.8,96.0 85.9,88.3 122.7,81.9 37.5,88.2 75.6,77.2 55.8,32.0 45.6,61.8 115.9,85.4 106.3,92.1 155.5,103.9 51.8,50.3 57.3,30.6 40.1,81.8 50.1,92.8 124.2,106.7 110.8,113.5 68.8,99.5 51.0,42.7 65.3,71.2 50.1,50.7 79.0,91.2 76.9,61.1 87.1,100.0 116.2,95.9 107.1,101.3 72.4,61.0 80.0,100.4 36.9,84.6 117.1,112.6 77.9,70.8 140.2,98.0 53.3,87.2 136.0,93.2 101.0,64.6 56.7,34.0 120.8,99.3 73.2,54.9 102.9,70.4 128.8,112.1 84.6,75.4 92.7,76.8 102.0,54.3 76.0,95.4 40.6,94.6 109.4,104.5 89.9,66.9 148.5,113.8 95.4,60.4 99.8,69.5 45.8,87.8 62.1,92.9 171.6,118.4 127.9,114.6 135.2,97.8 81.9,95.9 171.2,101.1 56.4,41.5 128.1,97.4 121.2,110.5 90.0,92.9 116.9,93.2 119.9,97.7 61.7,95.5 62.6,18.0 48.8,90.3 156.8,117.5 63.0,26.8 190.4,67.8 119.9,113.6 75.4,55.8 80.8,89.6 87.6,76.0 132.1,111.6 120.7,106.6 100.7,61.0 46.1,95.7 86.3,92.2 121.1,76.8 107.0,91.4 127.3,88.9 109.0,86.3 127.5,68.8 78.2,78.3 102.4,82.5 126.8,63.6 71.9,63.1 118.5,74.7 48.5,61.1 144.8,90.3 75.2,79.4 130.4,79.7 79.6,102.6 66.2,51.0 113.4,98.9 93.3,106.1 102.8,97.7 50.8,44.4 51.2,88.3 92.3,66.2 67.6,93.5 124.0,102.8 98.0,98.2 153.2,121.2 112.4,110.1 164.8,81.8 83.5,94.0 103.2,87.4 45.1,69.6 127.8,94.6 103.5,108.8 86.0,95.1 60.6,93.6 70.5,82.2 177.1,84.8 47.7,90.5 73.6,65.8 63.8,19.4 47.6,85.8 47.8,68.6 50.0,79.7 146.6,71.7 99.2,86.0 54.4,96.9 128.0,98.6 95.5,57.4 101.7,86.2 99.9,101.5 62.6,79.1 130.3,74.6 115.7,97.5 136.3,110.6 90.9,106.9 87.9,103.9 114.8,113.3 107.0,62.1 114.1,96.4 120.4,90.8 86.9,79.1 141.3,82.9 129.8,118.7 64.2,95.0 52.4,90.4 131.8,82.4 129.5,85.1 115.0,91.9 101.9,62.3 77.6,75.5 131.0,78.4 65.2,75.0 97.6,82.0 127.6,98.2 91.2,90.1 38.4,87.2 191.7,109.8 130.7,106.4 54.0,89.3 57.6,35.2 147.0,70.2 51.6,74.5 104.3,97.8 152.7,98.3 75.4,56.4 87.3,99.5 123.5,108.8 124.7,94.2 111.6,85.7 119.4,102.3 98.1,97.6 131.5,100.6 124.4,96.3 56.5,83.0 48.0,52.1 99.6,70.6 87.7,85.4 54.4,37.6 119.6,82.0 40.3,93.3 41.6,70.2 115.2,101.6 74.3,71.0 38.6,86.3 78.9,92.1 66.2,42.5 91.3,99.5 133.4,90.1 50.0,73.9 58.1,65.7 123.9,110.3 60.8,89.8 113.7,77.8 48.1,58.0 70.9,56.5 117.9,112.5 122.5,108.0 75.5,98.6 72.5,77.6 98.7,105.0 43.6,91.6 96.6,102.9 63.4,96.9 108.0,97.9 173.4,114.2 82.8,56.2 119.9,89.4 56.9,87.6 53.3,59.2 56.1,47.9 89.1,51.7 86.2,91.4 91.0,99.2 48.9,62.5 48.5,91.8 144.4,84.3 64.2,9.4 122.0,111.0 88.9,60.3 53.6,37.0 118.4,109.9 58.1,98.2 47.9,72.8 110.5,104.1 70.1,75.2 122.3,115.2 95.2,89.8 143.9,85.8 107.0,52.2 42.7,69.4 77.6,54.7 112.7,70.6 62.5,65.6 143.1,113.3 139.4,113.7 154.1,105.2 169.8,82.4 89.9,71.0 62.9,26.8 134.3,87.6 170.5,98.3 143.7,113.6 90.2,102.2 183.0,106.2 165.4,110.1 108.7,74.2 132.7,105.5 120.9,103.5 47.9,60.0 52.8,41.4 115.8,103.2 67.8,98.8 134.9,74.5 51.6,73.8 49.4,63.3 64.6,63.4 60.3,89.4 110.9,70.6 98.3,88.6 52.2,76.0 112.7,112.8 97.5,103.3 172.4,75.7 132.9,105.5 48.8,69.0 70.6,95.0 106.3,66.4 54.8,65.4 122.9,92.9 76.1,46.2 119.0,96.8 121.2,90.8 52.6,71.1 124.5,102.4 67.9,42.6 45.0,93.6 143.3,117.0 42.5,90.5 48.9,90.3 170.0,105.1 109.1,104.5 81.5,60.9 125.7,97.1 79.8,100.9 115.0,96.2 69.7,75.2 143.1,85.8 132.7,113.8 157.3,99.6 104.0,103.4 105.5,96.4 55.2,51.3 156.8,98.2 107.1,79.8 125.8,84.4 100.3,95.6 56.4,93.4 158.9,73.4 38.9,86.5 112.4,95.2 54.0,68.8 85.2,81.3 101.1,95.7 129.7,97.4 144.1,91.6 82.6,103.0 96.0,102.1 123.1,109.5 58.8,47.1 126.4,116.4 122.8,105.2 134.6,81.9 100.6,77.3 143.6,117.8 113.4,110.1 77.8,50.2 112.3,90.1 58.6,90.4 109.2,98.9 64.8,18.9 137.6,74.8 72.1,79.5 81.0,62.8 81.8,57.4 129.7,81.8 43.3,92.1 59.8,69.0 57.2,49.4 76.1,56.9 97.2,85.2 63.4,83.9 163.5,98.3 84.5,83.5 51.4,96.0 159.0,95.1 66.4,95.9 93.6,100.3 139.3,71.2 83.9,89.0 103.5,69.7 122.5,45.1 74.7,92.0 122.5,84.7 123.8,84.2 63.0,79.5 132.3,114.3 111.6,99.2 114.2,89.4 80.0,62.2 62.1,80.5 132.2,93.4 63.6,55.1 101.2,96.5 95.9,92.4 90.6,82.8 101.3,81.4 39.1,78.0 110.1,103.7 73.5,58.2 112.8,67.6 75.5,98.5 128.5,100.3 63.1,93.3 96.5,98.1 100.1,107.3 151.6,71.1 79.0,61.8 88.2,103.6 53.2,68.5 98.6,100.3 126.0,110.2 68.3,94.1 108.6,90.0 42.0,95.0 108.9,91.5 49.2,78.2 73.3,84.9 81.3,58.3 115.2,67.7 111.2,95.1 58.9,46.9 72.1,85.6 132.1,78.7 121.6,76.9 46.1,63.4 46.7,55.5 53.5,86.5 84.1,95.8 85.7,64.9 88.1,103.5 56.0,64.8 54.5,38.6 82.7,102.5 97.4,77.4 112.3,113.3 93.8,94.8 69.6,100.5 72.7,98.4 83.7,97.5 84.6,104.7 91.2,60.6 138.1,73.3 92.5,65.0 109.4,106.0 70.1,58.2 89.5,82.1 130.9,110.7 43.9,65.0 53.1,37.2 92.7,67.7 163.5,81.3 117.1,101.3 78.6,88.5 75.8,87.4 89.8,63.4 103.4,95.0 129.6,75.8 95.0,102.7 47.9,61.3 132.2,70.6 136.2,105.7 68.6,65.3 83.2,98.4 134.5,118.8 97.4,63.3 95.3,62.0 107.2,99.7 71.3,48.0 97.0,88.9 116.1,93.1 119.9,108.1 55.2,47.3 128.5,93.7 60.1,76.1 50.6,50.3 63.0,29.3 168.5,105.5 151.6,78.2 79.1,47.1 49.9,60.9 103.2,107.3 87.6,76.1 98.8,94.0 81.3,57.0 95.9,94.6 73.8,87.3 114.1,109.2 92.2,50.6 58.3,72.5 129.1,116.5 115.3,86.0 44.5,88.8 119.1,103.6 135.0,115.5 124.3,91.6 65.2,96.7 72.4,88.8 92.6,65.0 72.2,97.2 110.4,102.9 53.5,43.6 80.4,88.8 103.9,66.6 110.1,83.1 51.6,49.2 145.2,99.9 118.9,103.5 141.6,87.1 100.6,87.5 50.9,74.3 65.9,90.5 84.3,64.3 120.7,80.8 96.1,55.6 48.2,78.5 73.4,87.6 110.1,113.1 49.3,82.6 61.5,43.6 71.0,48.4 45.2,63.3 175.6,115.7 69.6,87.3 81.1,99.8 98.5,94.0 106.5,88.0 88.4,70.3 106.3,66.8 153.8,114.4 88.2,64.6 121.6,100.3 74.0,84.6 126.3,83.0 79.9,44.7 98.1,108.4 73.8,63.9 150.9,118.6 63.3,86.7 99.9,108.5 155.9,101.5 74.8,62.2 85.2,84.7 70.6,99.1 81.3,67.3 100.9,72.6 115.3,99.0 113.6,94.0 70.4,70.1 55.3,65.0 95.3,98.9 98.4,109.5 77.2,78.3 103.4,88.8 123.8,70.0 123.7,71.6 45.3,58.6 72.2,45.8 120.5,95.7 54.7,93.8 83.4,88.8 171.3,114.8 74.8,81.6 42.3,76.1 71.5,92.0 70.0,37.3 73.8,91.3 51.9,68.6 82.4,59.3 124.8,112.2 108.9,97.8 118.1,98.2 136.9,111.8 121.0,103.1 80.7,95.1 59.8,48.1 40.5,91.5 93.4,62.6 106.7,99.8 165.8,115.0 58.8,73.7 130.7,97.2 117.1,102.8 83.3,91.0 94.2,91.9 191.5,104.2 132.4,85.9 104.6,58.8 114.0,93.7 68.1,98.0 48.4,92.9 48.0,74.7 138.8,119.1 90.0,89.0 72.5,57.9 40.2,82.8 78.0,95.7 51.6,89.0 123.6,93.2 69.5,100.1 124.1,100.1 104.4,55.4 123.9,103.1 115.8,101.1 86.7,56.9 85.3,62.6 67.3,89.0 164.7,99.6 87.2,80.5 180.1,109.5 120.9,86.4 132.8,83.4 109.2,68.4 103.2,104.7 81.0,97.0 37.1,87.2 94.2,103.0 119.9,108.1 55.1,83.4 83.5,55.3 138.2,117.7 55.1,32.4 111.8,95.4 159.1,80.4 63.6,55.3 86.9,101.5 63.5,11.3 43.1,76.5 59.5,93.6 112.7,104.8 123.3,80.9 61.3,48.4 126.0,110.5 70.1,99.5 40.7,85.5 126.3,101.0 104.2,102.1 66.9,92.1 79.9,47.1 84.2,41.6 61.5,48.2 113.7,110.6 105.7,89.4 86.9,100.1 79.6,58.5 47.1,86.1 97.3,88.0 56.4,51.6 120.9,112.0 128.1,97.5 108.1,102.1 82.5,67.9 136.3,81.8 73.7,58.9 68.8,73.0 151.8,93.7 55.5,32.0 53.6,48.4 100.8,72.1 127.1,106.2 112.3,93.0 133.8,81.9 86.0,81.1 72.9,82.4 148.9,109.6 127.6,71.0 159.8,105.5 78.5,71.6 71.7,90.6 132.8,103.5 60.6,86.5 37.3,80.9 88.4,64.3 91.6,87.6 57.3,53.4 108.4,83.4 109.0,86.4 75.8,52.9 58.2,74.0 57.5,29.3 56.6,74.0 130.9,111.1 107.0,87.7 118.5,70.7 41.2,76.0 111.7,65.2 107.2,105.4 91.8,107.4 96.7,105.4 81.6,80.7 84.5,80.9 78.6,44.3 44.9,75.6 76.9,98.4 54.3,96.4 52.0,46.6 53.3,82.7 126.0,79.0 71.4,69.5 126.2,82.5 73.3,49.7 81.2,56.4 118.5,104.7 49.4,64.9 122.1,92.0 60.3,17.2 113.8,107.0 43.3,79.2 102.3,72.6 66.1,60.8 45.6,92.3 95.5,55.7 97.9,104.6 60.5,74.2 101.7,43.4 55.0,68.0 47.1,71.7 66.7,78.2 150.8,119.0 81.2,102.3 124.5,95.9 145.5,99.9 48.9,61.2 67.3,97.2 77.3,91.7 104.0,69.7 108.0,91.0 38.3,87.1 127.2,67.9 78.4,32.2 73.6,92.0 99.6,108.4 75.4,85.5 126.4,79.0 54.2,50.1 121.8,96.3 66.1,87.7 85.2,68.0 42.7,92.7 68.4,95.4 61.8,98.3 131.5,85.8 93.7,91.6 72.8,85.4 114.7,104.3 78.9,58.1 52.1,48.6 116.2,73.4 47.3,73.3 109.9,102.3 74.5,52.4 107.7,101.7 121.3,80.8 65.5,18.7 83.8,83.4 43.4,64.8 90.4,53.3 123.4,88.6 121.2,112.8 127.6,76.6 116.1,96.9 59.6,79.5 58.8,81.0 63.3,98.5 41.8,88.0 78.4,90.9 143.5,101.6 127.0,113.4 83.5,83.8 45.8,81.1 99.5,106.5 121.3,103.5 102.0,64.6 103.6,70.8 137.2,89.7 94.9,57.2 114.4,70.8 117.0,104.1 131.1,101.8 115.0,67.0 82.1,101.4 70.8,100.7 114.6,110.8 87.2,54.2 67.0,51.6 105.1,59.4 92.2,99.2 53.5,94.2 124.3,94.6 76.0,93.5 45.5,58.6 108.7,105.1 49.9,67.9 45.0,61.0 118.5,79.2 97.7,93.3 107.6,74.9 131.2,121.9 57.6,34.8 66.6,99.8 116.9,68.8 54.8,45.1 52.8,42.6 115.7,94.2 61.8,90.9 49.9,46.7 60.6,82.4 86.1,78.8 109.0,111.3 86.6,104.7 55.2,73.6 108.3,103.5 71.8,60.3 57.8,91.2 53.6,67.0 156.7,86.6 68.8,64.1 43.7,86.0 52.6,47.3 113.1,87.6 70.5,55.6 53.7,89.8 64.2,96.9 124.9,102.4 76.7,54.9 134.5,81.5 112.9,72.3 123.6,112.8 128.2,79.0 84.0,95.6 57.5,34.6 85.6,103.4 82.2,15.9 89.4,88.3 110.1,94.6 59.2,28.7 84.5,95.5 177.0,97.8 66.6,33.4 50.7,43.4 114.3,102.8 66.0,84.9 73.0,77.9 98.3,100.0 93.6,99.3 107.4,94.7 65.0,74.8 115.9,113.7 145.4,70.0 105.3,66.5 106.5,72.9 56.0,91.8 137.6,74.2 129.1,87.4 147.9,93.9 128.9,109.6 58.9,92.2 71.3,96.9 99.8,88.2 84.8,97.6 139.5,98.1 56.7,95.2 124.3,113.7 136.0,91.4 52.4,91.9 139.6,109.8 105.9,57.0 103.3,111.0 170.1,79.3 94.8,87.1 104.1,58.2 54.9,43.7 127.2,93.1 55.0,67.9 151.1,99.5 117.2,96.3 89.2,92.0 121.8,108.2 91.9,106.4 126.7,99.7 69.7,81.8 146.1,85.0 108.8,86.5 66.8,69.0 90.4,89.6 146.6,96.3 80.1,102.9 137.4,71.9 87.2,55.9 102.4,104.6 132.0,100.5 122.1,78.0 104.8,109.4 79.8,90.4 96.2,66.2 101.8,104.4 44.2,64.2 94.6,96.9 86.0,88.4 65.0,93.0 66.6,87.3 81.8,95.6 101.8,102.4 114.6,107.1 44.6,76.1 122.6,64.9 92.1,89.7 113.6,83.0 124.1,115.7 53.6,85.5 69.9,51.7 125.4,84.5 78.1,97.9 161.9,97.8 145.2,115.9 161.5,98.8 60.8,92.7 122.6,93.2 116.5,81.7 65.2,89.3 103.0,99.2 113.7,75.9 42.3,74.3 65.7,87.3 113.6,88.5 106.4,111.7 134.9,112.2 130.5,91.7 86.1,84.6 112.3,92.8 87.0,56.2 51.8,69.4 122.2,61.0 167.7,84.6 119.2,117.5 118.6,75.2 108.5,75.1 58.3,62.8 130.1,106.1 92.3,89.4 80.0,95.4 126.8,111.8 176.4,101.7 43.1,80.6 119.0,82.7 47.1,84.3 108.8,96.2 59.2,82.3 67.3,86.5 82.9,76.0 135.9,109.7 88.1,86.8 109.9,95.3 67.0,38.9 107.4,75.5 51.6,66.0 77.6,95.0 89.8,87.3 87.9,58.0 85.3,81.4 48.6,63.1 58.0,86.8 136.9,114.5 38.6,90.0 66.1,56.0 109.6,71.1 71.4,94.9 100.3,79.2 48.4,93.6 53.3,57.8 118.0,100.0 114.9,108.7 82.5,68.2 59.2,24.4 98.5,104.6 62.8,98.2 109.7,110.5 105.7,103.3 81.0,97.8 176.2,102.7 95.4,79.1 65.1,56.0 93.4,85.3 135.0,82.2 47.3,91.8 94.4,54.5 50.6,77.2 118.3,88.5 103.9,94.5 97.2,100.1 125.2,81.3 103.3,111.1 120.5,107.8 55.2,97.6 169.5,98.5 39.0,83.9 140.0,123.2 78.2,83.1 106.9,108.4 144.0,91.6 107.5,73.0 118.1,99.6 86.0,104.9 79.0,73.4 77.6,91.6 59.4,38.1 82.8,86.6 66.7,94.7 125.3,86.8 114.5,110.7 85.9,76.0 69.1,51.8 133.4,84.9 89.8,90.7 87.6,90.6 84.5,69.0 61.0,60.3 102.6,97.8 48.3,79.1 113.7,105.5 106.6,97.8 106.2,98.5 41.5,81.2 44.0,64.5 72.9,52.1 104.1,93.0 130.2,94.2 75.3,99.8 79.7,101.2 99.3,108.6 124.7,106.3 91.1,67.5 164.3,97.0 60.3,85.9 58.1,85.0 77.9,85.1 84.6,88.4 108.7,94.1 118.0,78.7 48.9,96.4 63.9,74.9 109.1,62.4 96.9,89.3 61.7,84.6 81.2,96.1 133.7,113.1 136.9,87.8 90.3,99.4 70.1,45.9 73.5,82.1 80.0,80.4 120.3,109.6 119.3,112.3 182.0,99.6 131.1,78.2 77.7,61.7 96.2,64.2 57.4,97.0 97.8,74.0 46.1,62.5 133.6,85.7 64.0,95.9 49.5,70.5 44.5,91.0 44.8,75.6 64.2,98.4 72.4,49.6 177.1,93.6 135.3,71.4 79.3,88.2 99.0,88.2 119.3,72.4 127.4,81.9 66.7,79.4 107.4,113.4 77.6,47.3 68.3,92.7 78.9,96.7 105.3,53.8 99.8,104.4 128.1,111.2 80.7,52.1 58.7,83.4 95.4,99.5 116.9,90.8 120.3,109.0 60.1,91.0 64.5,48.9 96.5,53.4 99.6,97.3 111.0,75.6 67.2,74.5 114.0,85.5 42.1,81.7 75.6,56.5 88.4,69.2 56.7,94.6 109.4,99.4 111.1,110.2 69.7,83.3 48.9,54.6 133.6,115.3 116.4,85.3 115.3,74.7 118.4,70.4 69.3,74.2 45.8,83.8 157.0,78.9 54.2,47.5 180.8,91.2 93.0,95.5 123.8,115.1 146.7,94.6 83.5,85.0 99.0,101.2 71.6,87.6 97.6,105.6 60.5,49.7 50.4,88.5 102.1,60.6 124.4,79.4 103.6,100.3 119.6,113.9 86.3,76.5 75.3,97.1 78.0,95.9 44.3,66.1 95.3,89.4 148.6,120.2 129.6,83.2 121.1,74.8 96.8,64.4 115.7,97.4 102.1,76.7 90.0,61.7 60.8,91.4 50.7,86.1 63.1,54.4 94.4,68.9 62.4,59.6 106.6,97.0 132.8,110.9 90.5,83.9 64.3,65.3 75.3,87.9 97.7,100.8 100.4,103.5 92.0,85.4 61.8,85.3 152.7,125.4 151.9,72.2 46.2,56.2 46.1,64.1 51.2,84.7 49.7,52.7 122.1,77.6 85.8,77.7 63.4,18.4 106.2,97.2 60.2,53.3 62.5,49.1 106.4,100.6 87.8,96.2 131.0,85.6 112.7,96.7 106.4,53.5 73.9,83.0 54.3,78.5 63.1,74.8 117.2,83.6 183.5,91.2 55.5,64.9 50.0,80.3 89.3,91.3 47.9,66.3 115.2,112.7 46.9,80.2 53.6,39.0 87.1,98.1 146.3,115.0 45.9,68.9 58.3,91.8 88.1,86.5 129.8,111.9 102.6,72.5 62.2,42.7 110.2,98.4 39.3,78.9 112.7,73.8 131.7,112.1 60.6,39.2 119.7,114.7 115.2,95.4 68.2,87.1 79.7,45.8 106.6,84.9 69.3,71.7 106.5,71.9 134.5,109.6 96.6,61.3 114.4,92.6 119.2,101.6 45.7,82.9 45.2,63.0 80.6,92.9 72.4,100.4 169.7,105.5 131.1,101.9 81.2,17.5 49.1,58.2 74.6,59.0 97.6,100.2 92.2,97.8 46.7,67.8 108.7,88.6 98.5,87.6 105.9,107.5 85.6,101.0 78.8,85.0 120.9,90.4 72.3,84.4 160.2,100.3 100.6,80.1 64.2,84.1 76.1,96.1 53.8,78.0 96.9,63.6 70.0,95.8 108.4,103.3 64.6,80.2 116.4,86.7 127.5,77.2 120.1,110.9 169.4,114.7 51.5,82.7 116.1,98.4 108.9,89.2 90.1,97.7 140.2,97.9 47.9,91.4 58.3,46.5 56.3,94.5 117.4,100.1 49.2,62.5 92.6,71.1 57.7,85.7 125.2,104.1 118.8,85.5 46.3,73.1 98.5,99.4 52.7,97.4 128.3,71.8 127.1,107.2 117.2,93.8 124.7,88.8 111.0,49.0 89.1,89.9 61.1,33.1 90.6,74.0 125.0,102.4 75.9,83.1 120.1,110.9 75.3,99.4 62.0,75.8 44.7,64.8 64.9,48.6 119.8,87.5 49.1,91.6 104.6,95.6 45.4,90.9 68.7,53.1 95.3,73.7 92.9,98.4 45.4,59.5 111.2,73.6 183.2,104.6 71.2,77.9 44.0,67.8 101.4,102.1 109.3,83.4 107.7,71.6 117.9,100.8 85.8,41.5 45.0,93.1 92.7,89.2 112.5,103.9 54.0,90.0 86.9,105.5 87.0,99.7 123.3,81.5 57.3,83.0 80.4,55.2 74.4,69.5 110.4,82.3 160.5,33.0 54.6,88.1 118.4,111.2 63.3,96.2 121.1,90.6 141.7,78.3 101.0,75.2 127.6,107.4 102.3,90.6 131.2,112.8 106.0,106.2 138.7,115.2 96.7,87.4 85.8,103.4 100.2,62.8 126.8,69.7 69.7,63.0 53.6,46.9 78.7,63.1 52.8,95.3 115.9,108.6 110.2,115.2 138.2,111.3 98.2,73.8 76.1,87.0 65.5,54.9 105.2,106.0 47.8,57.4 69.8,96.5 59.3,91.2 122.3,104.9 152.4,106.9 76.9,76.4 159.5,91.8 49.0,76.0 107.0,109.5 75.9,77.6 132.5,80.7 57.5,56.0 112.0,110.0 102.0,63.2 82.5,89.0 139.8,112.9 38.5,87.3 148.6,87.4 53.2,60.3 63.0,97.7 59.4,79.7 103.6,90.4 52.2,81.2 43.7,85.0 175.2,88.9 139.6,100.3 76.9,30.0 90.1,92.4 95.9,108.8 111.3,97.4 124.9,107.6 47.2,86.1 70.5,99.2 133.9,110.3 95.8,80.1 128.5,109.1 89.3,96.5 86.1,87.8 144.0,115.4 47.3,69.3 41.2,70.9 133.8,113.1 96.5,96.6 38.3,88.7 124.2,100.2 81.3,79.3 119.9,73.2 52.3,96.6 72.7,76.1 114.5,56.6 39.9,87.3 114.7,88.1 64.7,94.4 65.4,41.5 88.6,84.7 97.5,99.8 66.7,93.4 92.2,65.7 46.8,60.2 45.3,86.9 119.8,87.3 62.3,46.7 62.0,79.7 94.9,52.3 46.6,93.7 55.8,85.7 46.5,91.4 63.2,86.0 67.4,36.5 87.4,78.3 82.4,62.3 130.3,101.5 58.5,87.2 39.0,90.6 102.0,106.0 60.6,42.9 158.5,45.7 100.7,110.2 83.0,74.7 147.1,117.4 61.6,38.3 57.1,35.7 56.4,96.7 121.2,79.8 113.9,105.2 129.7,84.6 60.3,38.2 38.1,90.0 117.8,111.0 48.5,71.2 161.9,85.3 103.4,104.0 143.0,89.2 142.9,89.2 90.4,98.4 67.0,85.4 95.2,84.8 118.8,84.0 113.8,64.9 123.4,101.3 61.7,69.5 67.3,72.8 157.9,75.6 120.7,75.5 54.2,42.7 79.3,61.4 138.6,76.5 76.4,51.3 112.3,97.6 50.3,69.0 58.0,47.3 145.6,107.9 43.9,95.6 53.5,46.0 79.0,46.5 79.2,41.7 84.0,104.8 115.3,103.5 131.7,107.3 144.8,118.0 165.8,78.9 122.9,81.4 62.0,96.6 116.6,71.5 116.9,91.5 111.3,107.8 81.0,47.0 117.5,109.2 70.0,9.8 52.1,48.8 67.0,94.6 118.0,86.2 138.2,109.4 52.6,94.6 112.1,92.1 105.4,107.8 73.0,77.5 50.1,91.8 120.8,80.8 98.8,70.9 53.6,57.0 45.0,86.9 56.1,72.5 37.1,86.8 120.0,87.5 77.4,56.5 58.0,72.6 43.4,64.8 94.2,56.1 126.3,96.3 89.0,89.0 63.5,24.8 39.0,80.2 85.8,79.6 48.1,59.8 85.7,77.1 88.6,71.4 144.3,74.0 83.6,93.8 174.2,98.0 89.8,91.0 105.8,104.8 45.8,92.5 138.5,109.3 79.8,77.6 90.3,96.3 108.4,93.9 158.5,75.6 108.7,112.5 101.9,110.0 120.7,105.5 80.7,71.0 95.3,80.0 69.7,91.6 86.6,36.6 124.1,68.9 64.9,84.4 76.2,51.5 118.8,69.4 99.9,82.0 145.0,80.8 129.6,76.7 94.9,91.2 162.7,96.1 109.8,100.1 97.8,92.7 65.8,98.1 87.8,78.9 109.7,94.1 132.8,75.9 118.4,101.7 82.6,89.8 113.3,96.9 112.4,101.0 93.3,63.7 71.2,53.4 89.8,103.7 108.0,46.9 91.8,85.2 103.0,110.2 127.6,107.2 69.6,90.1 104.5,60.1 58.7,51.2 71.1,74.7 61.4,92.9 172.7,100.3 115.3,100.5 134.1,62.4 130.4,78.3 167.8,102.4 96.9,78.7 96.8,49.3 40.1,84.5 135.9,117.9 101.6,110.5 72.2,53.1 136.1,100.0 131.3,72.1 111.2,113.5 109.4,101.2 41.6,80.5 62.3,74.5 112.8,112.9 126.4,73.0 54.4,57.2 137.2,77.4 117.4,62.5 58.2,47.4 126.9,103.5 157.0,111.7 118.3,107.8 70.3,92.8 125.9,89.5 49.2,78.0 45.8,89.8 123.7,80.8 116.4,82.2 90.6,78.1 77.9,98.3 70.4,80.8 144.2,84.8 50.8,49.3 70.2,101.1 97.5,81.5 99.2,107.8 57.6,93.0 44.0,82.4 51.9,96.2 91.4,66.4 95.7,83.7 112.7,105.8 50.9,81.1 50.1,61.8 150.6,96.1 122.2,111.4 90.5,72.3 62.5,57.0 46.9,87.0 145.1,114.3 100.3,95.3 52.3,54.4 146.7,96.5 80.4,50.2 173.3,110.2 119.5,110.9 104.7,70.3 93.7,78.0 122.7,106.9 68.9,99.5 130.0,82.7 75.4,95.0 89.2,76.8 116.1,86.6 73.8,77.7 99.6,99.0 64.7,49.3 158.9,101.1 62.1,51.0 71.7,56.9 106.4,58.4 90.5,107.4 47.5,94.5 61.0,46.5 85.0,95.1 45.1,85.9 87.4,71.1 91.0,61.9 79.2,61.4 103.0,68.3 148.0,106.7 57.9,79.2 41.0,82.8 99.9,67.0 104.1,67.8 107.0,69.8 86.4,92.6 120.2,88.3 163.2,114.8 79.0,100.0 59.7,86.9 72.4,75.4 155.7,100.7 116.3,86.1 112.2,101.6 61.9,49.7 58.1,24.4 116.0,94.9 59.6,20.2 89.2,87.6 109.6,94.4 45.7,86.8 48.3,96.2 84.9,64.3 64.4,81.4 69.4,78.3 132.5,75.7 110.8,108.9 105.6,95.8 52.5,80.9 55.1,96.9 67.1,50.7 87.1,92.1 88.3,99.0 83.0,97.8 49.9,74.5 67.2,91.4 100.6,79.5 124.5,97.8 114.3,85.2 100.6,101.1 42.1,70.8 77.4,100.5 82.7,99.4 109.4,111.9 49.0,84.2 51.1,70.7 54.4,48.9 139.1,108.4 110.8,112.5 142.6,84.6 150.5,79.6 175.1,103.3 59.5,88.5 47.9,81.2 89.9,92.7 121.0,106.2 151.3,91.7 120.4,55.9 48.5,57.8 82.5,95.5 104.5,90.2 112.0,109.8 73.6,94.6 119.4,79.7 123.5,67.0 129.4,80.3 58.2,97.7 152.7,110.4 113.7,108.9 151.1,73.1 47.1,83.0 113.7,109.6 125.6,101.2 62.3,91.6 70.9,84.0 54.1,63.8 65.6,74.8 94.7,79.5 133.7,114.7 78.3,47.5 146.1,95.8 57.5,86.5 87.0,92.2 124.1,82.0 60.1,85.4 119.3,67.5 175.9,103.6 81.3,71.9 82.4,44.7 115.5,100.5 105.3,73.6 134.8,102.5 74.5,59.6 90.9,66.7 103.4,67.9 87.0,60.0 150.3,87.1 79.7,65.6 47.8,80.3 103.8,83.0 115.4,87.2 138.4,114.0 39.6,80.0 45.3,95.1 105.8,80.5 126.6,110.9 84.0,90.9 179.7,101.8 107.7,99.5 93.2,82.6 78.5,75.3 58.7,78.8 90.4,97.8 106.3,102.1 132.6,116.7 89.1,64.7 104.5,91.6 121.9,92.5 63.2,54.8 71.4,92.9 104.6,106.7 113.6,73.2 60.2,68.0 72.7,72.0 56.2,83.0 53.4,71.7 113.0,113.1 132.8,103.5 113.0,107.3 126.1,108.7 121.0,103.9 139.8,97.5 118.7,103.9 61.4,15.3 58.9,65.4 94.0,94.7 137.0,99.6 61.3,90.4 116.6,99.3 107.9,89.9 126.2,98.2 126.9,87.2 81.3,81.1 87.7,61.3 184.5,86.8 56.6,92.0 76.4,94.8 71.1,99.2 39.2,93.0 119.3,104.2 57.9,65.1 86.4,81.8 143.6,64.6 73.0,71.9 134.3,70.8 38.5,79.5 124.9,104.8 135.4,87.4 80.9,101.3 125.2,94.9 52.8,91.7 136.6,73.4 165.8,77.4 108.2,99.7 77.5,101.0 123.8,102.5 102.5,90.3 124.3,88.7 108.6,69.8"/></g>
<g class="p"><polyline id="ala" points="65.0,87.5 40.6,91.7 44.5,65.8 46.6,84.9 60.2,93.3 54.5,72.2 64.6,84.7 57.5,84.4 47.0,91.0 42.3,86.3 37.0,85.4 42.6,81.0 51.4,70.2 42.6,89.8 48.0,96.3 45.8,74.1 40.7,78.0 52.5,73.6 60.8,83.7 47.4,91.7 42.1,73.6 46.5,89.4 52.1,91.3 52.7,90.3 47.8,91.6 54.4,84.5 66.5,88.0 52.0,74.2 56.8,79.9 42.7,73.4 41.5,85.6 64.7,90.5 45.7,81.3 41.8,84.8 58.2,81.3 41.3,73.4 58.8,86.5 44.4,83.4 51.1,84.6 55.3,72.6 48.7,92.5 42.1,81.8 59.4,76.2 46.3,85.7 66.4,93.0 45.5,87.9 43.3,95.7 42.1,82.9 50.8,92.8 69.1,92.3 69.4,91.3 47.3,82.8 44.8,84.2 47.3,82.3 50.1,87.3 43.8,75.8 43.0,84.8 44.0,76.5 47.2,85.3 62.8,96.2 50.8,90.0 55.9,88.5 53.8,76.7 55.0,91.9 48.5,62.7 42.1,77.8 47.1,87.1 52.8,94.3 49.4,93.2 41.8,82.1 57.8,84.4 51.6,64.1 58.6,86.5 55.6,83.1 45.7,87.5 63.5,85.5 53.0,94.8 48.2,97.4 58.1,86.9 52.1,71.5 56.5,96.4 41.7,83.3 41.4,89.4 54.2,92.5 41.4,80.0 61.5,92.6 54.7,73.9 44.9,79.9 46.9,82.9 49.5,73.9 46.7,83.8 48.6,89.6 49.6,66.2 45.7,86.0 61.1,87.7 54.1,84.4 46.4,86.2 52.1,96.9 57.7,81.3 60.6,94.8 59.1,88.0 39.7,83.0 61.0,85.5 48.6,78.0 67.8,84.2 42.6,80.9 57.2,90.4 45.6,83.7 45.8,86.8 44.8,82.7 45.9,94.3 51.8,74.5 53.5,59.6 65.8,93.0 53.7,80.6 51.3,81.9 49.4,70.6 45.0,80.0 55.4,72.8 41.8,85.9 49.8,91.8 54.4,76.2 70.4,89.0 67.9,89.7 50.4,83.2 48.5,91.0 48.3,82.8 38.2,84.7 44.8,74.2 64.5,93.7 73.5,90.3 61.1,87.0 54.3,73.5 41.4,92.6 61.2,86.1 38.9,81.2 40.2,87.5 65.1,92.4 48.9,75.7 56.8,90.9 41.8,94.0 48.0,82.4 44.2,84.0 56.0,90.9 49.1,71.9 39.8,77.1 62.9,93.0 72.8,92.6 48.0,94.8 50.8,70.1 44.9,76.6 39.7,77.7 54.5,70.8 40.1,84.8 57.1,82.5 66.9,91.6 53.1,96.7 60.6,93.5 63.2,95.9 48.8,84.8 52.7,75.5 53.7,73.5 50.3,98.2 42.4,75.7 52.3,89.3 56.7,96.9 63.7,89.4 38.1,83.7 51.2,83.4 60.2,91.9 63.2,83.2 43.8,90.3 50.7,77.7 52.1,85.8 46.3,70.6 51.6,74.0 53.8,92.5 43.0,86.0 48.1,66.5 64.6,91.2 45.7,85.8 47.4,73.8 60.2,91.3 46.1,85.6 62.5,81.7 40.9,84.0 55.8,79.3 57.1,82.0 73.6,94.2 50.4,63.5 64.0,92.5 51.6,77.8 50.1,64.4 49.1,76.8 49.4,67.4 46.0,82.6 66.0,82.4 51.2,75.9 48.2,87.6 69.6,93.6 65.4,89.8 51.8,86.4 59.7,88.3 70.1,93.0 54.0,87.6 38.5,82.1 49.4,83.1 66.5,82.7 54.3,71.5 48.9,83.5 69.7,86.3 45.1,92.6 51.6,70.9 51.8,97.5 39.3,91.0 46.6,84.2 64.5,95.7 48.7,74.3 47.3,92.0 56.9,82.3 70.0,90.1 52.0,77.7 58.2,86.3 63.9,96.0 50.0,74.0 46.5,82.8 44.8,72.1 39.5,83.0 50.2,67.9 47.4,86.6 55.5,78.7 60.3,85.5 50.7,90.6 49.5,72.6 46.8,76.5 55.3,96.1 39.9,91.1 43.1,83.9 57.2,94.2 49.8,62.2 43.6,92.8 39.0,84.0 38.9,78.7 45.6,81.8 68.3,90.8 65.0,93.1 53.8,91.2 60.7,86.5 44.9,82.9 47.2,90.2 61.3,97.3 52.8,95.1 56.4,98.1 48.1,84.1 48.0,82.9 62.9,97.2 41.4,91.4 46.1,77.9 53.5,99.3 41.5,79.0 65.0,94.6 64.9,86.6 53.0,82.6 46.4,64.8 47.3,79.6 46.7,61.6 47.0,69.0 43.3,89.0 66.2,90.4 42.8,93.1 54.4,75.8 49.6,71.1 49.6,89.2 53.5,82.9 41.3,85.7 50.6,95.8 50.5,76.8 53.7,74.0 72.0,93.8 48.9,68.9 49.6,79.9 48.0,88.7 38.5,89.2 59.0,76.7 48.4,73.0 48.7,57.3 56.0,76.1 51.0,96.7 43.5,82.5 52.9,66.4 51.8,84.6 60.4,88.4 55.0,94.9 62.2,83.1 50.4,83.4 55.2,98.7 54.7,90.1 55.0,80.0 45.5,71.3 45.7,86.3 40.7,85.5 38.4,90.4 43.1,90.2 50.5,89.2 50.5,95.6 62.0,81.5 47.2,87.2 44.2,72.1 50.1,79.8 37.9,89.2 48.0,76.3 63.6,96.6 53.1,91.0 51.0,90.3 56.6,86.6 58.2,92.1 48.1,82.9 50.4,96.1 56.0,87.3 52.5,81.3 43.0,91.8 39.9,79.7 44.9,92.2 40.0,86.6 41.4,87.4 48.8,79.7 49.5,69.5 51.7,78.5 53.4,84.7 52.4,89.0 50.0,94.2 54.2,76.7 60.4,95.6 64.4,87.4 59.5,96.4 37.8,87.1 38.4,90.9 61.2,93.9 53.8,72.4 54.2,77.6 46.8,75.9 59.7,87.0 68.6,94.4 39.6,84.5 50.0,72.4 56.7,90.3 57.2,80.2 50.0,76.9 44.1,90.4 51.9,94.4 39.8,86.6 49.0,75.1 45.5,97.0 46.1,64.5 40.8,93.4 53.6,79.8 44.1,92.8 45.9,88.6 48.1,86.9 66.4,94.2 66.2,86.1 55.5,93.5 56.9,74.2 45.9,75.0 51.1,66.2 37.4,89.0 57.9,93.1 44.9,95.1 49.8,80.0 39.4,80.9 54.9,91.0 45.2,75.9 46.9,97.1 47.3,78.3 48.3,72.4 58.0,85.0 71.6,93.1 43.8,94.1 58.6,86.8 61.6,94.4 70.5,94.9 41.5,82.2 52.2,94.2 44.9,71.7 45.7,82.4 41.4,78.8 45.8,94.9 47.5,83.2 55.7,95.2 48.2,75.0 52.4,77.9 72.2,92.0 43.1,94.2 52.1,98.7 52.1,72.5 63.9,88.2 40.2,90.2 54.3,95.7 63.6,98.0 45.0,80.9 57.0,82.2 49.6,65.0 55.4,90.6 50.1,96.1 37.7,86.0 59.3,97.4 72.0,90.9 40.9,85.6 38.5,83.1 56.4,86.8 46.4,86.5 55.3,75.3 63.0,93.8 52.6,70.1 56.2,90.3 71.6,88.1 44.4,88.1 48.3,68.6 40.5,89.7 43.4,89.4 45.8,86.9 52.5,89.8 50.4,87.2 38.5,82.1 40.5,76.1 46.5,90.3 67.8,93.4 48.0,85.8 61.7,97.3 40.3,79.4 45.9,96.1 50.2,97.2 53.0,81.9 40.6,77.7 40.8,78.7 47.7,73.6 55.1,81.0 46.5,82.2 45.3,74.5 38.5,85.9 47.1,80.8 46.4,92.6 39.2,85.6 50.2,81.4 41.9,86.5 45.0,68.8 65.0,85.4 51.9,76.1 47.3,91.6 39.8,83.2 46.1,70.5 52.1,76.9 48.3,90.2 36.3,86.3 54.4,93.3 55.2,90.2 58.0,85.7 46.9,95.1 52.9,97.5 43.0,87.1 57.9,81.9 44.4,73.3 66.8,95.6 38.9,81.0 39.2,85.6 44.3,89.4 41.6,86.9 55.7,92.1 42.3,73.7 65.4,85.9 61.1,96.6 45.0,74.9 48.0,65.9 55.9,80.2 64.7,86.2 43.5,83.2 41.8,79.1 70.3,93.9 44.2,80.0 51.8,98.1 48.1,86.6 49.2,86.6 44.5,95.6 39.3,91.4 40.4,80.4 60.2,86.2 59.2,81.4 79.3,88.3 45.1,83.9 51.2,88.5 50.3,84.0 50.3,94.6 40.9,82.6 53.7,87.7 44.7,85.0 48.1,94.1 49.1,86.9 41.6,72.1 53.4,95.3 57.9,84.4 46.5,92.5 54.8,96.8 50.8,97.8 69.3,88.4 41.9,87.7 55.1,85.8 63.2,86.0 52.3,81.4 40.1,89.9 47.6,79.6 54.9,77.2 62.2,90.0 60.0,81.0 47.6,99.6 36.4,88.3 39.2,79.6 44.7,87.9 52.1,76.9 60.4,87.4 46.6,85.4 48.9,63.9 48.9,83.2 40.2,77.6 60.2,93.0 54.1,72.5 70.9,88.9 43.1,83.6 67.3,91.5 47.2,74.1 51.4,81.4 41.5,74.6 53.3,78.6 60.6,92.0 54.7,81.4 42.3,73.7 51.0,92.8 47.7,85.0 55.5,79.5 48.1,75.9 42.7,86.5 52.1,89.0 47.5,94.9 46.3,71.1 61.5,90.8 49.9,68.7 55.8,86.5 49.4,62.6 59.0,88.4 43.4,73.2 45.9,70.2 46.6,80.9 52.4,66.2 55.0,75.6 49.2,82.6 39.4,90.1 61.6,98.1 54.0,95.2 40.6,80.4 38.0,81.0 47.3,82.2 44.9,91.0 61.1,81.4 49.3,94.5 43.1,83.5 40.9,81.4 57.1,94.5 46.3,75.9 65.7,89.0 45.1,93.2 51.3,73.1 51.5,91.9 74.3,91.6 72.5,91.6 75.8,89.3 58.3,89.4 40.5,76.3 57.7,91.6 69.3,87.7 50.0,64.2 47.8,83.1 47.1,86.4 45.4,68.0 49.0,77.6 44.4,78.8 56.3,88.8 38.0,81.8 49.3,78.9 55.6,78.1 47.8,98.7 49.7,63.6 51.8,92.4 45.0,81.8 42.7,73.5 68.2,90.3 39.1,82.1 42.0,94.5 53.5,85.4 44.7,78.1 37.7,90.7 46.7,84.5 43.7,88.5 44.0,82.2 44.7,82.3 66.6,95.5 53.2,94.2 40.1,84.2 45.4,70.8 52.9,83.1 47.5,70.0 52.9,94.2 59.7,83.3 51.9,91.3 75.3,92.7 56.7,84.2 64.0,90.4 51.7,86.0 58.1,83.3 51.8,94.8 50.4,80.6 56.3,80.9 64.9,87.1 62.5,96.5 54.8,80.8 58.7,94.0 72.2,94.0 50.9,97.3 55.8,94.8 55.7,91.1 62.4,92.8 52.7,66.8 43.8,85.7 48.9,86.5 50.0,63.6 54.8,80.2 58.6,76.5 49.1,59.3 61.5,84.1 47.7,83.1 45.9,76.0 55.1,75.3 45.2,80.5 46.5,77.0 76.5,93.5 47.3,70.6 43.3,76.4 54.3,79.2 39.6,88.7 47.0,95.6 55.1,90.4 45.7,75.5 65.9,80.9 57.4,91.2 69.5,91.5 41.0,87.0 48.4,85.0 70.1,95.0 49.9,66.5 61.6,81.8 65.8,96.3 53.7,90.2 45.6,64.9 59.6,97.0 39.8,78.8 42.7,82.6 41.9,79.9 67.6,94.9 59.0,92.0 59.1,85.0 44.2,83.6 51.8,90.2 51.9,81.6 44.2,81.0 41.0,81.6 50.0,89.1 45.2,77.7 45.5,89.8 38.3,83.9 50.2,87.9 52.7,69.7 43.6,80.8 73.2,86.4 72.0,98.0 75.4,97.8 90.8,95.7 65.3,94.5 63.7,86.0 82.6,96.5 66.7,96.1 67.7,83.1 83.3,91.5 71.2,87.5 79.7,79.7 71.9,89.4 82.8,97.5 91.3,103.9 69.2,96.2 80.4,95.2 77.8,90.5 72.1,87.2 85.0,93.0 71.9,76.4 65.9,83.0 64.9,85.7 68.4,81.4 80.0,86.7 74.9,94.0 93.1,93.5 88.5,89.9 49.2,49.2 83.5,74.5 102.4,79.0 92.7,90.0 100.2,93.5 75.5,101.0 125.4,61.0 125.9,59.5 126.5,58.0 127.1,56.5 127.7,55.0 126.2,58.8 135.4,48.5 79.0,77.7 82.4,96.0 82.4,91.5 93.3,90.5 55.5,99.5 72.6,98.0 86.4,87.0"/></g>
<g class="r"><polyline id="adr" points="54.9,84.2 44.8,82.9 45.5,91.0 48.8,85.6 55.2,80.6 50.6,89.7 42.5,88.0 54.6,84.4 52.7,86.6 60.0,92.9 45.3,84.9 63.7,94.1 50.9,93.0 45.7,88.1 51.0,82.8 55.7,85.6 52.0,83.8 56.1,86.3 45.0,88.0 57.6,84.2 65.0,86.5 54.0,87.2 47.4,82.1 41.1,88.1 44.7,92.5 48.1,82.2 48.8,82.1 52.9,90.0 47.2,83.6 53.1,87.4 55.5,91.7 47.1,85.6 48.8,85.1 41.2,87.7 55.2,81.2 45.8,90.9 67.3,83.4 51.5,96.6 60.3,93.0 48.6,86.0 52.6,84.6 57.3,91.3 62.0,88.6 43.2,93.2 46.2,90.4 44.6,88.5 49.9,88.4 49.1,87.8 45.0,87.8 56.5,80.9 45.5,81.4 51.6,90.0 46.5,86.5 49.7,82.0 49.5,85.2 44.1,87.1 42.6,89.8 47.4,90.6 43.3,85.4 52.4,79.2 58.7,84.0 41.6,78.3 40.1,89.5 52.6,96.1 48.4,84.8 40.6,87.5 44.0,86.2 52.7,90.9 51.2,88.5 59.7,85.7 59.5,90.6 53.2,83.2 56.3,80.5 59.2,77.4 37.9,86.4 48.6,94.3 49.5,77.6 47.4,84.9 42.1,86.4 48.8,93.1 46.0,89.2 60.4,82.1 46.7,83.5 52.3,82.5 50.6,90.8 55.1,89.1 48.7,86.5 48.5,76.8 49.5,87.3 44.9,80.3 41.6,89.7 48.3,84.4 37.2,84.6 48.4,96.2 54.3,82.1 54.4,87.5 53.4,85.3 40.2,82.6 40.9,85.2 54.8,80.1 47.8,92.6 37.9,82.6 38.1,82.7 41.8,79.8 55.5,95.1 53.1,92.3 49.2,94.1 52.4,85.5 42.6,85.4 37.0,86.5 44.0,85.8 50.8,80.5 42.7,78.1 50.0,82.9 46.2,93.4 45.7,94.0 41.9,80.0 48.6,85.1 51.4,87.0 40.3,83.1 49.8,82.7 37.5,84.3 39.9,85.4 47.1,91.8 46.2,87.4 56.0,86.1 40.4,88.2 47.7,90.1 38.9,86.5 41.0,82.7 53.8,86.0 55.7,81.2 45.6,86.1 50.2,86.1 44.6,90.8 50.0,90.2 49.6,81.1 48.2,88.9 49.4,81.9 50.8,82.2 38.4,89.9 53.3,96.6 43.2,81.1 49.0,77.4 53.5,83.7 46.4,85.1 60.6,80.9 66.0,79.7 50.5,92.5 60.3,84.8 46.9,84.0 55.2,83.8 40.4,89.3 49.5,89.4 59.5,84.5 54.4,75.3 41.0,83.6 68.0,86.3 44.6,81.7 45.3,89.9 46.0,87.5 43.6,86.6 44.9,84.6 52.0,78.8 48.1,93.2 41.6,91.0 49.2,80.9 44.4,82.1 53.8,84.6 47.0,83.5 54.9,90.5 47.7,78.1 47.8,89.7 55.7,83.0 48.2,91.4 45.4,79.1 58.3,78.2 39.7,84.1 52.1,81.5 61.1,85.7 49.1,86.6 44.0,79.0 53.5,84.2 36.7,87.7 47.9,84.6 57.2,95.6 51.0,79.7 45.5,84.2 46.3,91.0 39.7,87.8 46.3,83.7 52.0,77.7 43.2,79.9 48.6,89.1 45.0,91.1 58.1,82.2 42.0,79.3 55.9,88.6 43.7,85.5 38.0,87.8 50.4,91.5 44.7,78.5 50.0,83.3 55.5,88.3 51.3,87.4 52.0,95.0 57.0,81.6 54.3,82.2 46.2,85.9 51.5,85.9 55.6,83.5 52.6,85.4 47.6,87.9 59.4,85.0 51.2,96.2 55.3,79.1 47.7,92.1 48.7,92.8 51.2,80.8 57.3,91.1 53.1,79.4 51.0,92.0 54.5,86.4 49.4,84.8 42.2,84.7 45.9,82.0 43.0,87.4 48.4,89.0 51.6,88.2 44.7,91.0 48.0,88.9 58.5,85.0 40.7,88.8 41.9,88.2 50.1,91.4 53.9,85.5 46.4,85.8 59.7,89.1 60.1,89.1 57.1,84.7 48.6,84.1 46.2,90.5 68.5,83.6 53.2,85.7 40.2,91.2 53.3,89.4 54.3,90.2 57.0,86.9 58.5,81.1 44.7,85.4 57.4,87.9 47.0,79.9 60.4,86.5 57.4,82.2 57.9,91.9 41.7,75.7 48.9,90.9 42.0,80.0 49.6,87.9 42.7,87.2 58.4,89.0 40.8,83.2 47.0,84.3 45.7,83.3 58.4,96.6 50.6,83.2 45.6,85.6 53.8,86.7 51.7,88.0 53.8,80.2 39.0,87.7 48.9,81.9 53.4,93.4 62.1,92.3 46.8,80.3 45.6,84.5 41.7,82.5 52.7,91.1 55.9,81.5 41.2,86.2 48.2,86.4 44.4,87.7 46.0,89.5 44.0,93.3 45.1,74.4 45.8,89.4 36.0,87.6 45.6,86.9 62.8,87.7 43.4,93.5 59.3,83.9 54.9,83.8 46.8,76.6 42.2,90.1 52.9,87.2 39.2,88.3 54.4,94.9 52.5,87.1 54.6,85.7 43.1,83.5 53.8,86.7 49.5,85.2 50.3,80.2 54.4,88.3 61.0,89.5 74.4,83.3 47.5,85.4 54.7,92.9 46.9,88.7 48.4,88.6 57.2,86.9 44.1,89.1 56.4,85.1 43.8,91.1 52.4,85.3 53.5,89.9 47.4,80.9 45.3,83.4 46.0,87.2 47.3,89.7 67.1,85.1 60.0,90.0 49.7,91.9 51.5,83.5 64.4,87.0 50.5,84.9 52.5,88.0 55.5,75.6 45.5,74.9 45.1,90.7 44.1,83.8 41.0,88.5 56.5,72.8 54.7,88.7 50.7,87.0 44.2,81.0 55.4,91.5 56.6,83.2 45.5,80.6 42.7,81.5 135.7,50.0 171.2,71.8 159.2,102.0 129.9,89.0 118.5,82.0 106.5,78.0 101.9,66.0 93.3,71.8 96.7,74.5 74.9,100.0 69.8,97.8 54.9,66.0 60.6,64.0 97.9,94.0 76.1,79.5 79.0,91.0 84.7,83.5 87.5,89.5 91.6,86.5 70.4,81.0 67.5,93.0 65.2,77.5 73.2,87.0 81.8,80.5 89.8,80.5 68.6,74.0 66.3,89.5 77.8,95.0 95.6,88.0 85.3,77.0 64.6,84.0 72.1,75.5 80.1,86.0"/></g>
</g>
<g clip-path="url(#cA2)"><g transform="matrix(0.6038 0 0 0.6040 193.33 34.76)"><use href="#abase"/><use href="#acop" class="os"/></g></g>
<g clip-path="url(#cA3)"><g class="ps"><polyline id="ala2" points="347.1,104.0 332.2,107.4 334.6,86.3 335.8,101.8 344.1,108.6 340.7,91.4 346.8,101.7 342.5,101.4 336.1,106.8 333.2,103.0 330.0,102.2 333.4,98.6 338.8,89.9 333.4,105.8 336.7,111.1 335.4,93.0 332.2,96.2 339.5,92.6 344.5,100.9 336.3,107.4 333.1,92.6 335.8,105.5 339.2,107.1 339.6,106.3 336.6,107.2 340.6,101.5 348.0,104.3 339.2,93.1 342.1,97.8 333.5,92.5 332.7,102.4 346.9,106.4 335.3,98.9 332.9,101.8 342.9,98.9 332.6,92.4 343.3,103.1 334.5,100.6 338.6,101.5 341.2,91.8 337.1,108.0 333.1,99.3 343.7,94.7 335.7,102.4 348.0,108.4 335.2,104.2 333.8,110.6 333.1,100.2 338.4,108.3 349.6,107.9 349.8,107.0 336.2,100.1 334.7,101.2 336.3,99.7 338.0,103.7 334.1,94.5 333.6,101.7 334.2,95.0 336.2,102.1 345.8,111.0 338.4,106.0 341.5,104.7 340.2,95.1 341.0,107.5 337.0,83.7 333.1,96.1 336.2,103.6 339.6,109.5 337.5,108.6 332.9,99.5 342.7,101.4 338.9,84.9 343.2,103.1 341.4,100.4 335.3,104.0 346.2,102.3 339.8,109.8 336.8,112.0 342.8,103.4 339.2,90.9 341.9,111.2 332.8,100.5 332.6,105.5 340.5,108.0 332.6,97.8 345.0,108.1 340.8,92.9 334.8,97.7 336.0,100.2 337.6,92.9 335.9,100.9 337.1,105.6 337.7,86.6 335.3,102.8 344.7,104.1 340.4,101.4 335.7,102.8 339.2,111.6 342.6,98.9 344.4,109.8 343.5,104.4 331.6,100.3 344.6,102.3 337.1,96.2 348.8,101.3 333.4,98.5 342.3,106.3 335.2,100.9 335.4,103.4 334.7,100.0 335.4,109.5 339.0,93.3 340.1,81.2 347.6,108.4 340.2,98.4 338.7,99.4 337.5,90.2 334.9,97.8 341.2,92.0 332.9,102.6 337.8,107.5 340.6,94.8 350.4,105.2 348.9,105.7 338.2,100.4 337.0,106.8 336.9,100.1 330.7,101.6 334.7,93.1 346.8,109.0 352.3,106.2 344.7,103.5 340.5,92.6 332.7,108.1 344.8,102.8 331.1,98.8 331.9,103.9 347.2,107.9 337.2,94.3 342.1,106.7 332.9,109.2 336.7,99.8 334.3,101.1 341.6,106.7 337.3,91.2 331.7,95.4 345.8,108.4 351.9,108.1 336.7,109.9 338.4,89.7 334.8,95.1 331.6,96.0 340.7,90.3 331.9,101.8 342.2,99.9 348.2,107.3 339.8,111.4 344.4,108.8 346.0,110.8 337.2,101.7 339.6,94.2 340.2,92.5 338.1,112.6 333.2,94.3 339.3,105.4 342.0,111.6 346.3,105.4 330.6,100.8 338.6,100.6 344.2,107.5 346.0,100.4 334.1,106.2 338.3,96.0 339.2,102.5 335.6,90.1 338.9,93.0 340.3,108.0 333.6,102.7 336.7,86.9 346.8,106.9 335.3,102.6 336.3,92.8 344.2,107.0 335.6,102.4 345.5,99.2 332.3,101.1 341.4,97.2 342.3,99.5 352.4,109.4 338.2,84.4 346.5,108.0 338.9,96.1 338.0,85.1 337.4,95.2 337.5,87.6 335.5,100.0 347.7,99.8 338.7,94.5 336.8,104.0 349.9,108.9 347.3,105.8 339.0,103.1 343.8,104.6 350.2,108.4 340.4,104.1 330.9,99.6 337.5,100.4 348.0,100.0 340.5,90.9 337.3,100.7 350.0,102.9 334.9,108.1 338.9,90.4 339.0,112.1 331.3,106.8 335.9,101.3 346.8,110.6 337.1,93.2 336.3,107.6 342.2,99.7 350.2,106.1 339.1,96.0 343.0,102.9 346.4,110.9 337.9,92.9 335.8,100.1 334.8,91.4 331.5,100.3 338.0,88.0 336.3,103.2 341.3,96.8 344.2,102.3 338.3,106.5 337.6,91.8 336.0,95.0 341.2,110.9 331.7,106.9 333.7,101.0 342.3,109.4 337.8,83.3 334.0,108.2 331.2,101.1 331.1,96.8 335.2,99.3 349.1,106.6 347.1,108.5 340.2,107.0 344.5,103.1 334.8,100.2 336.2,106.1 344.8,111.9 339.6,110.1 341.9,112.6 336.8,101.2 336.7,100.2 345.8,111.8 332.7,107.1 335.5,96.1 340.1,113.5 332.7,97.0 347.1,109.7 347.1,103.2 339.7,99.9 335.7,85.4 336.3,97.5 335.9,82.9 336.1,88.9 333.8,105.1 347.9,106.3 333.5,108.5 340.6,94.4 337.6,90.6 337.6,105.3 340.1,100.2 332.6,102.5 338.3,110.7 338.2,95.2 340.2,92.9 351.4,109.1 337.2,88.8 337.7,97.7 336.7,104.9 330.9,105.3 343.4,95.1 336.9,92.1 337.1,79.4 341.6,94.6 338.5,111.4 333.9,99.9 339.7,86.8 339.0,101.5 344.3,104.7 341.0,110.0 345.4,100.3 338.2,100.6 341.1,113.0 340.8,106.1 341.0,97.8 335.1,90.8 335.3,102.9 332.2,102.3 330.8,106.3 333.7,106.2 338.2,105.3 338.2,110.5 345.2,99.0 336.2,103.7 334.4,91.4 338.0,97.7 330.5,105.4 336.7,94.9 346.3,111.3 339.8,106.8 338.5,106.2 341.9,103.2 342.9,107.7 336.8,100.2 338.2,111.0 341.6,103.8 339.4,98.9 333.6,107.4 331.7,97.6 334.8,107.7 331.8,103.2 332.6,103.9 337.2,97.6 337.6,89.3 339.0,96.6 340.0,101.7 339.4,105.2 337.9,109.4 340.5,95.1 344.3,110.5 346.8,103.8 343.7,111.2 330.4,103.6 330.8,106.7 344.8,109.1 340.3,91.6 340.5,95.9 335.9,94.5 343.9,103.5 349.3,109.6 331.5,101.5 337.9,91.6 342.0,106.2 342.3,98.0 337.9,95.3 334.3,106.3 339.1,109.6 331.7,103.2 337.3,93.8 335.1,111.6 335.5,85.2 332.3,108.8 340.2,97.7 334.3,108.2 335.4,104.8 336.7,103.4 348.0,109.4 347.9,102.8 341.3,108.8 342.2,93.1 335.4,93.7 338.6,86.6 330.2,105.2 342.8,108.5 334.8,110.1 337.8,97.8 331.4,98.6 340.9,106.8 335.0,94.5 336.0,111.7 336.3,96.4 336.9,91.7 342.8,101.9 351.2,108.5 334.1,109.3 343.2,103.4 345.0,109.6 350.5,109.9 332.7,99.6 339.2,109.4 334.8,91.0 335.3,99.8 332.7,96.9 335.3,110.0 336.4,100.4 341.4,110.2 336.8,93.8 339.4,96.1 351.5,107.6 333.7,109.4 339.2,113.0 339.2,91.7 346.4,104.5 331.9,106.1 340.5,110.6 346.2,112.5 334.8,98.6 342.2,99.6 337.6,85.6 341.2,106.5 338.0,110.9 330.4,102.7 343.6,112.0 351.4,106.7 332.4,102.4 330.9,100.3 341.9,103.3 335.7,103.1 341.1,94.0 345.9,109.1 339.5,89.8 341.7,106.2 351.1,104.4 334.5,104.4 336.9,88.5 332.1,105.7 333.9,105.4 335.4,103.4 339.4,105.8 338.2,103.7 330.9,99.5 332.1,94.7 335.8,106.2 348.8,108.8 336.7,102.5 345.1,111.9 332.0,97.3 335.4,110.9 338.0,111.9 339.7,99.4 332.2,96.0 332.3,96.8 336.5,92.6 341.0,98.6 335.8,99.6 335.0,93.3 330.9,102.6 336.1,98.5 335.7,108.1 331.3,102.4 338.0,99.0 332.9,103.1 334.9,88.7 347.1,102.3 339.1,94.7 336.3,107.3 331.7,100.4 335.6,90.1 339.2,95.3 336.9,106.1 329.5,103.0 340.6,108.6 341.1,106.1 342.8,102.4 336.0,110.2 339.7,112.1 333.6,103.6 342.8,99.4 334.5,92.4 348.2,110.5 331.1,98.6 331.3,102.4 334.5,105.4 332.8,103.5 341.4,107.7 333.2,92.7 347.3,102.6 344.7,111.4 334.9,93.7 336.7,86.4 341.6,98.0 346.9,102.9 333.9,100.4 332.9,97.1 350.3,109.2 334.4,97.8 339.0,112.6 336.8,103.2 337.4,103.2 334.5,110.5 331.4,107.1 332.1,98.1 344.1,102.9 343.6,99.0 355.9,104.6 334.9,101.0 338.6,104.8 338.1,101.1 338.1,109.7 332.4,100.0 340.2,104.1 334.7,101.9 336.8,109.3 337.4,103.5 332.8,91.4 340.0,110.3 342.8,101.4 335.8,108.0 340.9,111.5 338.4,112.3 349.7,104.7 333.0,104.1 341.0,102.6 346.0,102.7 339.3,99.0 331.8,105.9 336.4,97.5 340.9,95.5 345.4,106.0 344.0,98.7 336.4,113.8 329.6,104.6 331.3,97.5 334.7,104.3 339.2,95.3 344.3,103.8 335.8,102.2 337.3,84.7 337.2,100.4 331.9,95.9 344.2,108.4 340.4,91.7 350.7,105.1 333.7,100.7 348.5,107.2 336.2,93.0 338.8,98.9 332.7,93.4 339.9,96.7 344.4,107.6 340.8,99.0 333.2,92.7 338.5,108.2 336.5,101.9 341.3,97.4 336.7,94.5 333.4,103.1 339.2,105.2 336.4,109.9 335.7,90.5 344.9,106.6 337.9,88.7 341.5,103.2 337.6,83.7 343.4,104.7 333.9,92.3 335.4,89.9 335.8,98.6 339.4,86.6 341.0,94.3 337.4,100.0 331.4,106.1 345.0,112.6 340.4,110.2 332.2,98.1 330.6,98.6 336.2,99.6 334.8,106.8 344.7,98.9 337.5,109.6 333.7,100.7 332.3,99.0 342.2,109.7 335.7,94.5 347.5,105.2 334.9,108.6 338.7,92.3 338.8,107.5 352.8,107.2 351.7,107.3 353.7,105.4 343.0,105.4 332.1,94.8 342.6,107.3 349.7,104.1 337.9,85.0 336.5,100.4 336.2,103.0 335.1,88.1 337.3,95.9 334.5,96.9 341.8,105.0 330.6,99.3 337.5,96.9 341.3,96.3 336.6,113.0 337.7,84.5 339.0,107.9 334.9,99.3 333.4,92.5 349.1,106.2 331.2,99.6 333.0,109.6 340.1,102.2 334.7,96.3 330.4,106.5 335.9,101.5 334.0,104.7 334.2,99.6 334.7,99.7 348.0,110.4 339.9,109.4 331.8,101.3 335.1,90.3 339.7,100.4 336.4,89.7 339.7,109.4 343.9,100.5 339.1,107.1 353.4,108.2 342.0,101.2 346.5,106.3 339.0,102.7 342.9,100.5 339.0,109.9 338.2,98.3 341.7,98.6 347.0,103.6 345.5,111.3 340.9,98.5 343.2,109.2 351.5,109.2 338.5,111.9 341.4,109.9 341.4,106.9 345.5,108.3 339.6,87.1 334.2,102.5 337.2,103.1 337.9,84.4 340.8,98.0 343.2,95.0 337.4,81.0 345.0,101.2 336.5,100.4 335.4,94.5 341.0,94.0 335.0,98.3 335.7,95.4 354.1,108.8 336.3,90.2 333.8,94.9 340.5,97.2 331.5,104.9 336.1,110.5 341.1,106.3 335.3,94.2 347.6,98.6 342.4,106.9 349.8,107.2 332.4,103.6 337.0,101.9 350.2,110.0 337.9,86.8 345.0,99.3 347.6,111.1 340.2,106.1 335.2,85.5 343.8,111.7 331.7,96.9 333.4,100.0 333.0,97.7 348.7,110.0 343.4,107.6 343.5,101.9 334.4,100.8 339.0,106.2 339.1,99.1 334.4,98.6 332.4,99.1 337.9,105.2 334.9,96.0 335.1,105.8 330.7,101.0 338.1,104.3 339.6,89.5 334.0,98.5 352.1,103.1 351.4,112.5 353.5,112.3 362.9,110.6 347.3,109.6 346.3,102.7 357.9,111.3 348.1,111.0 348.8,100.3 358.3,107.2 350.9,103.9 356.1,97.6 351.3,105.5 358.0,112.0 363.2,117.3 349.7,111.0 356.5,110.2 354.9,106.4 351.4,103.7 359.3,108.4 351.3,94.9 347.7,100.3 347.1,102.5 349.2,99.0 356.3,103.3 353.2,109.2 364.3,108.8 361.5,105.9 337.4,72.8 358.4,93.4 370.0,97.0 364.1,106.0 368.6,108.8 353.5,114.9 384.1,82.4 384.4,81.1 384.8,79.9 385.1,78.7 385.5,77.5 384.6,80.5 390.2,72.2 355.6,95.9 357.7,110.9 357.7,107.2 364.4,106.4 341.3,113.7 351.8,112.5 360.2,103.5"/></g></g>
<g clip-path="url(#cA4)"><g class="rs"><polyline id="adr2" points="458.4,101.3 452.2,100.2 452.7,106.8 454.7,102.4 458.6,98.3 455.8,105.7 450.9,104.3 458.2,101.5 457.1,103.2 461.6,108.4 452.5,101.8 463.8,109.3 456.0,108.4 452.8,104.4 456.1,100.1 458.9,102.4 456.6,100.9 459.1,103.0 452.4,104.3 460.1,101.3 464.6,103.1 457.9,103.7 453.9,99.6 450.0,104.4 452.2,108.0 454.2,99.6 454.7,99.5 457.2,105.9 453.7,100.8 457.3,103.8 458.8,107.3 453.6,102.4 454.7,102.0 450.0,104.1 458.6,98.8 452.8,106.7 466.0,100.6 456.3,111.4 461.7,108.4 454.5,102.7 457.0,101.6 459.9,107.0 462.8,104.8 451.3,108.6 453.1,106.3 452.1,104.7 455.4,104.7 454.9,104.2 452.3,104.2 459.4,98.6 452.6,99.0 456.4,106.0 453.3,103.1 455.2,99.4 455.1,102.1 451.8,103.6 450.9,105.8 453.8,106.4 451.3,102.2 456.9,97.2 460.7,101.1 450.3,96.4 449.4,105.5 457.0,110.9 454.4,101.7 449.7,103.9 451.8,102.9 457.1,106.7 456.2,104.7 461.3,102.5 461.2,106.5 457.4,100.4 459.3,98.2 461.0,95.7 448.0,103.1 454.6,109.5 455.1,95.9 453.8,101.8 450.6,103.0 454.7,108.5 453.0,105.3 461.8,99.6 453.4,100.7 456.8,99.9 455.8,106.6 458.5,105.3 454.7,103.1 454.5,95.2 455.1,103.8 452.3,98.0 450.3,105.7 454.4,101.4 447.6,101.6 454.4,111.0 458.0,99.6 458.1,103.9 457.5,102.2 449.5,99.9 449.8,102.1 458.4,97.9 454.1,108.1 448.1,100.0 448.1,100.0 450.4,97.7 458.8,110.1 457.3,107.9 454.9,109.3 456.9,102.3 450.9,102.2 447.5,103.1 451.8,102.5 455.9,98.3 451.0,96.3 455.4,100.2 453.1,108.7 452.8,109.2 450.5,97.8 454.5,102.0 456.3,103.5 449.5,100.3 455.3,100.0 447.8,101.4 449.3,102.2 453.6,107.5 453.1,103.8 459.1,102.8 449.6,104.5 454.0,106.0 448.6,103.1 449.9,100.1 457.7,102.7 458.9,98.8 452.7,102.8 455.5,102.8 452.1,106.7 455.4,106.2 455.2,98.8 454.3,105.0 455.1,99.4 455.9,99.6 448.3,105.9 457.4,111.3 451.3,98.8 454.8,95.7 457.5,100.8 453.2,101.9 461.9,98.6 465.2,97.6 455.7,108.0 461.7,101.7 453.5,101.1 458.6,100.9 449.5,105.4 455.1,105.5 461.2,101.5 458.1,94.0 449.9,100.8 466.4,103.0 452.1,99.2 452.5,105.9 453.0,103.9 451.5,103.2 452.3,101.6 456.6,96.8 454.2,108.6 450.3,106.7 454.9,98.5 452.0,99.6 457.8,101.5 453.6,100.7 458.4,106.4 454.0,96.3 454.1,105.8 458.9,100.3 454.3,107.1 452.6,97.1 460.5,96.4 449.1,101.2 456.7,99.0 462.2,102.4 454.9,103.2 451.8,97.0 457.6,101.3 447.3,104.1 454.1,101.6 459.8,110.6 456.1,97.6 452.7,101.2 453.1,106.8 449.1,104.2 453.1,100.8 456.7,95.9 451.2,97.7 454.6,105.2 452.3,106.9 460.3,99.7 450.5,97.2 459.0,104.9 451.5,102.3 448.1,104.2 455.6,107.2 452.2,96.6 455.4,100.5 458.8,104.5 456.2,103.9 456.7,110.1 459.7,99.1 458.0,99.6 453.1,102.7 456.3,102.7 458.8,100.7 457.0,102.3 454.0,104.3 461.2,101.9 456.1,111.0 458.7,97.1 454.0,107.7 454.6,108.2 456.2,98.5 459.9,106.8 457.3,97.3 456.0,107.6 458.2,103.0 455.0,101.8 450.7,101.7 452.9,99.4 451.1,103.8 454.4,105.1 456.4,104.5 452.2,106.8 454.2,105.0 460.6,101.9 449.8,105.0 450.5,104.5 455.5,107.1 457.8,102.3 453.2,102.5 461.3,105.2 461.6,105.2 459.8,101.7 454.6,101.1 453.1,106.4 466.7,100.8 457.4,102.5 449.5,106.9 457.4,105.5 458.0,106.1 459.7,103.4 460.6,98.7 452.2,102.3 459.9,104.3 453.6,97.7 461.8,103.1 459.9,99.6 460.2,107.5 450.4,94.3 454.7,106.7 450.5,97.8 455.1,104.3 451.0,103.7 460.5,105.2 449.8,100.4 453.6,101.3 452.8,100.5 460.6,111.3 455.8,100.4 452.7,102.4 457.7,103.2 456.5,104.3 457.7,98.0 448.7,104.1 454.8,99.4 457.5,108.7 462.8,107.8 453.5,98.1 452.7,101.5 450.4,99.8 457.1,106.9 459.0,99.0 450.1,102.9 454.3,103.1 452.0,104.1 453.0,105.5 451.8,108.7 452.4,93.3 452.9,105.5 446.9,104.0 452.7,103.4 463.2,104.1 451.4,108.8 461.1,101.0 458.4,101.0 453.5,95.1 450.7,106.0 457.2,103.7 448.8,104.6 458.1,109.9 456.9,103.6 458.2,102.4 451.2,100.7 457.8,103.3 455.1,102.1 455.6,98.0 458.1,104.5 462.1,105.6 470.3,100.5 453.9,102.2 458.3,108.3 453.5,104.9 454.4,104.8 459.8,103.5 451.8,105.2 459.3,102.0 451.6,106.9 456.9,102.2 457.5,105.9 453.9,98.6 452.5,100.6 453.0,103.7 453.8,105.7 465.9,102.0 461.6,105.9 455.2,107.5 456.3,100.7 464.2,103.6 455.7,101.8 457.0,104.3 458.8,94.3 452.6,93.7 452.4,106.6 451.8,100.9 449.9,104.8 459.4,92.0 458.3,104.9 455.8,103.6 451.9,98.7 458.7,107.2 459.4,100.4 452.7,98.3 451.0,99.1 507.8,73.4 529.5,91.1 522.1,115.7 504.2,105.2 497.2,99.5 489.9,96.2 487.1,86.4 481.9,91.1 484.0,93.4 470.7,114.1 467.5,112.3 458.4,86.4 461.9,84.8 484.7,109.2 471.4,97.4 473.1,106.8 476.6,100.7 478.4,105.6 480.8,103.1 467.9,98.6 466.1,108.4 464.7,95.8 469.6,103.5 474.9,98.2 479.8,98.2 466.8,92.9 465.4,105.6 472.4,110.0 483.2,104.3 477.0,95.4 464.4,101.1 468.9,94.2 473.8,102.7"/></g></g>
<g clip-path="url(#cB1)">
<path id="bbase" d="M35.2 222.8L35.3 224.8L35.6 226.8L36.0 228.8L36.4 230.8L36.9 232.8L37.6 234.8L38.2 236.7L39.0 238.6L39.9 240.5L40.9 242.4L42.0 244.2L43.1 246.0L44.3 247.8L45.6 249.5L47.0 251.2L48.4 252.9L49.7 254.6L51.1 256.2L52.6 257.8L54.2 259.4L55.9 260.9L57.7 262.3L59.6 263.6L61.6 264.9L63.5 266.2L65.5 267.4L67.5 268.6L69.6 269.8L71.8 270.8L74.0 271.8L76.3 272.7L78.6 273.5L81.0 274.3L83.4 275.0L85.8 275.6L88.2 276.2L90.6 276.7L93.1 277.2L95.5 277.8L98.0 278.3L100.5 278.7L103.0 279.1L105.5 279.4L108.1 279.7L110.6 279.9L113.2 279.9L115.8 279.7L118.3 279.5L120.9 279.2L123.4 278.8L125.9 278.4L128.4 277.9L130.9 277.4L133.3 276.8L135.7 276.1L138.1 275.3L140.4 274.5L142.7 273.5L144.9 272.6L147.1 271.6L149.3 270.6L151.4 269.5L153.6 268.4L155.6 267.3L157.7 266.1L159.6 264.8L161.5 263.5L163.3 262.1L165.0 260.6L166.9 259.2L168.6 257.8L170.3 256.3L172.0 254.7L173.6 253.2L175.1 251.5L176.5 249.9L177.9 248.1L179.2 246.4L180.4 244.5L181.4 242.7L182.3 240.8L183.1 238.8L183.7 236.8L184.4 234.9L184.9 232.9L185.4 230.9L185.7 228.9L185.9 226.8L186.0 224.8L186.1 222.8L185.8 220.7L185.4 218.7L184.9 216.7L184.4 214.7L183.7 212.8L183.0 210.9L182.1 209.0L181.2 207.1L180.1 205.3L179.0 203.5L177.8 201.8L176.5 200.1L175.2 198.4L173.9 196.7L172.7 195.0L171.5 193.3L170.2 191.7L168.8 190.1L167.2 188.6L165.4 187.2L163.6 185.9L161.7 184.6L159.8 183.4L157.9 182.1L156.0 180.9L154.0 179.8L152.0 178.7L150.0 177.6L148.0 176.5L145.9 175.5L143.8 174.5L141.7 173.5L139.6 172.5L137.4 171.5L135.2 170.6L132.9 169.7L130.6 168.9L128.2 168.2L125.8 167.6L123.4 167.0L120.9 166.4L118.3 166.0L115.8 165.8L113.2 165.7L110.6 165.7L108.1 165.8L105.5 166.0L103.0 166.2L100.4 166.5L97.9 166.9L95.4 167.4L93.0 167.9L90.5 168.5L88.1 169.2L85.8 169.9L83.4 170.6L81.0 171.3L78.7 172.1L76.4 173.0L74.2 173.9L72.0 174.9L69.8 176.0L67.7 177.1L65.7 178.2L63.7 179.5L61.8 180.8L59.9 182.1L58.1 183.5L56.4 185.0L54.7 186.4L53.1 188.0L51.5 189.5L50.0 191.1L48.6 192.8L47.2 194.4L45.8 196.1L44.5 197.8L43.3 199.6L42.1 201.3L41.1 203.2L40.1 205.0L39.2 206.9L38.4 208.8L37.6 210.7L37.0 212.7L36.5 214.7L36.0 216.7L35.7 218.7L35.4 220.7Z" fill="#ffa24e"/><g class="bo"><polyline id="bcop" points="47.0,196.2 89.4,241.0 119.3,184.7 123.9,169.8 43.3,212.5 130.7,171.9 80.0,238.6 156.9,182.6 103.8,177.2 106.9,277.8 156.4,192.5 89.9,259.4 73.9,242.0 159.6,186.3 138.5,189.2 176.1,235.2 56.6,198.0 114.3,172.7 124.4,184.0 143.3,260.2 166.1,240.1 96.8,200.1 62.8,227.4 88.5,201.8 160.9,235.3 100.1,240.9 55.7,255.3 39.0,206.5 65.4,200.4 72.4,203.8 148.4,271.0 112.7,203.7 163.9,197.2 130.1,253.4 102.4,256.6 89.7,266.1 63.8,229.5 85.7,206.5 170.2,223.8 84.8,207.2 181.2,221.4 80.5,178.7 101.5,202.4 112.1,186.9 99.6,277.3 70.5,241.8 60.8,227.4 160.7,223.2 135.3,223.2 156.2,190.7 71.8,268.1 122.7,203.0 81.6,241.4 92.6,256.5 119.0,183.1 59.8,204.7 103.0,202.9 108.6,252.0 174.0,207.2 98.1,251.6 113.9,201.4 166.2,195.0 160.2,260.7 70.5,261.3 139.7,173.3 139.3,203.9 80.6,202.7 45.4,214.9 125.0,253.3 139.4,218.5 141.4,268.5 66.8,233.9 179.3,236.4 126.0,276.3 164.6,221.3 68.7,259.0 135.8,179.2 129.9,211.5 137.8,213.5 148.3,208.7 107.5,242.2 78.2,195.6 74.1,263.0 57.7,245.8 49.1,242.2 113.3,167.6 94.7,204.3 169.7,224.7 178.3,226.0 47.6,239.2 67.5,209.1 177.5,234.1 136.7,188.6 93.1,231.4 114.9,256.8 110.3,172.3 150.1,206.8 58.7,240.7 158.6,261.7 111.1,218.9 181.1,237.8 123.4,186.0 118.1,278.4 123.0,171.5 53.0,204.2 116.3,236.9 84.8,170.3 98.7,169.4 109.3,173.6 169.9,251.7 109.3,218.8 50.0,234.2 132.5,200.1 86.1,239.3 114.0,271.9 35.4,225.2 123.9,242.5 61.1,194.8 121.1,165.9 52.4,220.1 79.8,268.5 86.1,171.3 93.0,225.0 88.0,246.1 140.9,242.9 85.4,228.9 62.6,193.1 97.2,195.1 146.2,175.5 181.3,218.5 60.2,203.4 75.5,204.9 104.8,277.7 85.3,239.9 96.5,173.7 108.5,168.1 58.4,226.1 112.4,196.7 91.7,243.9 112.0,224.7 140.5,219.2 145.0,221.7 97.2,224.5 71.4,266.9 160.4,188.3 165.4,222.8 169.7,229.7 65.3,259.1 166.6,218.0 177.7,242.4 88.0,177.0 80.7,184.9 134.6,251.3 122.9,229.6 96.3,260.0 91.4,218.6 155.3,262.4 43.1,223.4 42.9,218.7 59.5,194.9 47.8,233.4 78.0,210.6 38.0,234.0 184.3,233.7 171.3,250.2 134.3,189.1 136.7,178.3 120.0,174.4 46.7,242.4 84.9,218.5 125.2,194.3 159.3,215.0 52.8,234.8 79.6,213.4 100.3,221.5 85.5,241.1 120.4,204.5 93.9,183.2 173.8,242.3 66.8,216.4 106.7,216.9 118.5,239.4 42.6,241.5 153.8,191.7 57.2,234.2 63.5,205.7 72.1,263.9 40.6,221.9 40.3,215.9 162.6,243.2 49.4,254.3 44.8,219.3 56.2,251.4 147.3,203.7 142.4,222.6 82.2,258.1 175.1,199.6 118.3,167.7 76.8,267.0 47.1,230.5 115.1,168.8 120.8,183.4 146.6,200.3 163.5,207.3 74.3,191.5 55.3,258.1 170.2,206.1 64.2,222.0 112.5,217.0 82.8,271.5 169.9,231.9 120.6,187.6 144.0,206.9 97.8,176.5 171.4,215.7 131.1,223.9 92.9,276.0 126.6,212.2 131.6,268.5 100.1,230.2 102.7,171.5 92.5,241.4 132.5,273.0 80.8,251.7 141.2,241.4 142.1,236.2 57.1,187.7 73.5,252.5 36.1,232.2 81.4,265.7 83.6,190.8 118.9,236.3 120.6,257.4 112.1,176.1 59.2,198.7 112.1,226.8 89.0,197.6 125.4,188.9 151.7,263.3 97.0,241.9 145.7,203.3 177.2,233.1 49.0,233.5 152.5,218.0 147.4,227.2 122.6,266.7 68.6,210.3 174.7,205.8 142.9,244.5 109.3,175.6 87.6,198.8 156.0,223.2 66.5,257.7 89.3,257.0 52.9,227.1 121.7,250.3 135.7,237.9 69.6,207.4 103.3,188.0 155.9,219.1 105.5,233.5 75.9,250.6 108.9,253.3 63.6,197.9 89.3,228.7 92.5,179.5 69.0,180.9 76.3,256.7 76.3,272.4 47.7,225.6 100.4,223.1 53.9,234.6 85.3,223.1 169.0,206.3 126.1,205.5 59.8,251.5 161.9,188.2 180.1,227.3 157.9,224.8 131.0,237.9 137.5,272.9 126.5,255.6 127.5,185.8 124.1,173.4 106.0,192.5 136.3,212.8 117.0,216.8 55.1,245.2 154.4,235.0 53.9,208.0 123.2,274.4 97.9,270.1 68.8,232.8 49.4,212.7 161.5,240.8 88.5,172.3 109.1,233.5 134.3,264.6 72.7,227.5 120.0,255.9 130.7,238.1 52.6,209.9 159.9,234.0 168.3,247.4 138.4,246.3 115.5,228.0 72.9,241.4 55.8,237.7 69.1,220.8 135.1,183.0 122.0,210.3 82.9,225.6 185.3,217.5 151.0,248.2 171.1,222.1 110.9,243.3 101.3,218.3 118.6,214.7 137.9,192.3 92.2,201.8 148.7,186.8 64.1,215.2 61.1,241.4 43.0,239.4 112.3,263.9 151.6,214.9 99.5,191.0 48.9,251.3 107.8,273.1 138.0,204.9 92.5,175.7 92.5,184.6 143.8,249.5 147.2,228.4 120.0,277.4 102.1,230.1 125.2,243.3 112.3,188.8 183.7,210.3 54.3,204.9 71.6,217.1 132.0,222.0 90.4,247.4 151.0,194.9 63.7,225.3 111.1,247.1 72.4,199.0 58.0,201.2 153.3,226.2 141.5,272.1 138.4,227.6 139.1,268.0 97.3,232.4 70.0,241.9 94.7,273.9 177.4,230.7 180.3,224.6 120.2,194.2 130.5,173.1 118.3,219.1 52.9,189.8 40.0,219.2 113.5,214.3 128.1,168.0 164.0,217.2 135.5,233.2 117.5,272.3 167.4,211.8 78.9,226.6 72.0,189.0 154.9,210.9 54.2,227.3 66.1,195.3 116.9,274.6 107.1,201.3 96.7,230.2 131.2,184.1 54.7,260.8 93.7,212.0 36.0,223.7 168.7,192.0 52.4,251.1 183.1,233.8 76.8,215.9 98.9,196.4 181.1,206.5 91.6,185.7 126.8,180.5 104.8,224.1 146.8,217.0 67.6,212.0 103.6,196.7 105.1,214.7 51.4,212.3 112.2,211.3 61.5,202.7 103.6,223.3 176.1,211.8 57.1,258.5 145.5,232.5 151.5,245.2 57.4,193.9 99.0,235.8 122.1,273.0 84.7,205.3 39.5,225.6 157.8,265.8 83.3,230.0 137.0,201.4 140.2,209.9 155.7,228.6 90.8,216.3 57.4,213.5 141.6,202.7 169.7,235.8 83.7,203.7 68.0,195.1 151.3,233.3 66.7,237.9 83.1,236.5 37.5,233.0 72.3,258.3 45.5,229.5 130.8,187.6 129.3,251.0 118.2,257.8 133.2,264.0 172.2,244.4 112.3,213.2 157.0,257.9 145.0,250.9 75.6,188.5 143.4,226.9 75.5,173.0 132.6,256.6 179.5,202.7 107.8,239.1 172.6,223.3 152.4,204.3 109.1,226.0 94.4,248.2 74.7,228.5 123.2,245.9 74.7,187.2 165.7,259.4 151.5,195.7 141.1,193.5 159.2,234.8 171.9,252.0 87.0,258.1 111.9,196.7 173.7,211.9 102.4,231.1 107.9,269.9 159.2,240.9 166.9,213.4 70.8,206.3 73.9,254.8 98.1,192.7 106.9,261.7 110.2,255.2 178.9,229.4 100.0,190.4 158.4,185.2 144.6,242.2 83.7,180.1 163.3,205.7 108.5,242.7 106.5,238.9 120.7,202.7 123.4,220.4 119.9,252.9 150.0,196.3 89.1,225.7 130.9,221.9 80.2,228.7 173.7,236.6 66.9,235.7 72.5,210.5 91.5,267.1 90.3,235.9 135.4,172.1 114.6,221.8 105.3,176.7 45.8,212.3 76.4,258.5 125.4,238.1 128.0,230.4 156.5,241.4 114.1,233.9 77.0,214.1 49.6,238.1 153.3,207.4 135.4,257.4 143.9,263.5 146.6,263.1 88.0,209.3 153.9,214.5 67.4,178.0 118.9,256.4 99.5,214.8 178.1,222.2 77.1,179.9 136.1,266.1 78.5,178.2 111.6,204.9 125.4,274.3 133.1,194.5 121.9,169.5 126.1,226.7 181.9,232.5 51.0,229.6 115.8,274.8 58.6,202.1 68.5,253.6 44.4,205.3 62.6,187.0 106.4,259.4 159.5,259.3 61.9,258.5 118.9,258.9 104.6,238.1 62.6,246.8 107.5,187.8 99.2,254.2 120.2,172.0 138.1,223.1 142.8,228.6 95.6,263.7 153.0,202.1 150.2,227.2 159.6,252.6 92.4,184.0 127.0,270.2 77.3,268.4 143.8,233.4 108.8,187.3 66.6,249.6 42.6,230.6 85.4,260.6 145.8,258.3 81.2,254.0 124.9,276.6 147.4,243.4 163.8,256.1 83.2,194.0 169.2,231.9 82.9,249.3 141.1,192.0 107.6,277.9 96.1,218.4 83.3,195.3 77.5,254.2 62.8,259.2 97.8,275.2 85.2,216.8 92.9,221.0 152.6,228.5 82.8,250.3 184.9,219.4 145.0,208.8 50.3,230.9 98.0,248.0 54.6,241.0 124.7,191.2 57.0,248.4 161.3,246.8 108.4,260.1 98.2,210.6 126.6,181.3 146.5,219.9 96.7,277.7 100.8,179.3 82.4,234.4 94.3,181.0 40.5,235.4 119.8,222.6 82.1,220.3 105.4,271.8 131.8,208.0 153.9,193.7 175.4,247.1 116.6,215.0 118.4,179.0 77.3,191.2 164.1,230.1 37.1,212.8 150.7,235.6 77.2,203.8 121.7,255.9 81.0,224.2 81.6,174.4 67.5,261.5 98.6,240.1 87.6,205.8 130.5,227.2 128.0,192.5 168.2,255.1 94.3,192.6 184.5,223.4 89.9,221.9 167.2,253.5 105.4,186.6 67.1,203.8 142.5,230.9 63.9,190.1 100.5,207.6 168.7,236.8 100.0,177.1 64.2,254.5 103.1,264.0 122.1,268.6 102.9,252.6 167.6,216.3 105.7,187.7 142.7,246.3 85.3,172.5 172.2,225.2 134.7,249.3 118.9,192.7 80.1,226.9 101.8,238.1 91.5,239.4 156.9,182.7 137.8,243.4 108.4,221.6 143.9,183.7 83.5,257.1 121.1,221.6 88.6,187.8 144.7,205.0 57.7,185.7 53.0,215.1 74.0,214.8 57.4,260.8 65.2,220.7 68.5,227.1 169.2,209.2 112.0,183.3 89.0,236.2 95.2,269.5 164.8,210.6 167.8,229.1 101.2,214.5 138.8,244.0 142.8,192.0 109.5,267.7 75.4,237.4 38.4,220.9 90.6,180.9 131.3,204.1 167.7,204.1 155.4,229.4 66.4,184.1 157.9,230.2 122.0,201.2 81.7,214.2 63.9,245.4 145.4,237.7 88.1,193.4 130.5,209.9 102.0,168.7 161.4,258.4 98.9,236.5 130.7,201.2 103.2,241.9 71.3,225.7 131.9,247.7 139.3,201.1 170.7,227.4 107.9,253.0 125.8,179.8 176.7,244.1 114.0,248.2 94.6,205.5 86.8,209.5 99.2,192.3 151.0,237.3 139.5,261.1 111.0,203.5 92.8,253.2 110.2,193.1 163.8,191.5 66.0,188.2 56.2,240.1 166.4,212.9 66.9,184.5 171.8,199.6 72.0,175.4 153.0,243.7 94.2,262.3 47.7,219.0 180.9,236.3 109.1,273.1 78.0,232.6 145.4,229.7 118.1,197.8 144.8,261.4 98.8,215.9 112.2,244.1 159.4,229.1 50.8,210.3 118.3,221.6 44.1,246.7 163.3,244.4 99.2,218.9 135.0,205.1 84.2,270.1 166.7,192.3 75.7,246.9 115.0,187.7 71.2,178.5 95.2,167.8 152.1,192.0 107.4,265.8 63.9,263.4 163.3,214.9 80.5,188.8 130.7,225.2 168.6,196.7 81.1,200.3 124.2,168.4 113.4,238.7 34.9,217.8 173.7,202.9 105.6,224.0 92.7,240.3 135.2,276.0 181.6,216.8 149.8,234.1 166.4,195.7 149.8,253.3 151.1,267.0 152.2,260.3 141.7,268.6 105.3,267.3 80.5,172.8 114.1,176.7 174.5,201.6 50.8,251.8 132.3,179.5 128.5,242.9 56.3,253.7 159.6,224.6 106.9,190.4 114.2,212.3 120.0,214.1 176.1,250.6 139.6,233.8 93.5,216.4 116.4,180.7 129.5,183.1 184.3,217.7 94.7,225.7 114.6,252.3 161.5,234.0 168.2,207.8 74.1,260.9 113.7,264.7 113.0,259.6 62.1,241.9 152.7,215.6 145.9,240.8 69.8,190.6 89.7,245.7 160.1,247.8 84.9,214.4 98.9,193.9 60.5,240.8 133.7,254.8 38.0,223.1 115.4,271.8 99.5,188.9 159.1,213.0 93.7,232.1 104.0,263.8 148.7,225.9 127.8,195.6 105.3,274.8 138.6,250.2 186.4,225.5 125.7,241.0 111.4,248.5 84.8,231.2 71.3,210.2 144.8,215.7 144.5,248.3 111.3,268.6 163.2,259.8 67.6,266.3 170.5,246.6 50.4,218.4 74.0,242.6 121.7,177.7 172.9,205.3 104.2,279.2 49.3,192.5 133.3,188.5 142.5,261.0 86.9,229.8 69.7,223.8 137.3,203.9 130.7,195.4 58.3,239.6 106.8,244.8 138.7,228.8 158.6,194.4 138.0,218.0 80.0,213.5 97.0,198.0 159.9,231.7 110.2,256.3 87.9,222.9 168.8,242.8 85.0,220.2 57.5,225.6 91.8,169.8 105.4,184.2 127.0,249.0 172.6,246.7 59.4,238.0 140.7,236.6 84.4,195.2 91.0,264.9 98.7,166.1 173.6,248.4 70.8,181.3 142.6,225.7 78.5,271.1 96.1,230.4 57.1,195.4 93.5,229.3 162.2,261.3 94.3,209.8 112.1,242.8 90.6,245.5 123.9,175.0 140.7,188.3 133.8,233.4 96.3,196.0 82.1,183.6 104.7,184.5 70.2,211.9 106.9,214.9 69.3,196.7 88.5,221.1 173.3,234.3 101.4,216.5 106.8,267.9 55.2,219.2 82.2,219.5 93.9,248.7 57.5,190.5 74.9,215.3 163.5,202.3 82.1,208.8 75.1,235.8 136.8,220.8 93.4,214.8 102.1,167.2 118.5,182.8 149.5,266.2 63.6,247.9 163.4,241.8 145.4,252.0 150.6,204.2 115.1,169.9 174.5,218.3 94.6,270.5 60.1,219.5 146.8,204.7 51.8,242.8 108.2,177.1 172.0,221.3 167.2,188.1 123.9,193.8 95.0,188.9 44.0,223.3 140.5,219.7 173.7,253.8 134.6,191.0 118.6,208.5 53.6,193.8 114.2,171.5 158.4,191.7 160.4,215.2 168.1,251.5 144.6,196.1 53.0,233.7 72.8,193.1 87.2,242.3 107.0,265.3 137.4,179.7 72.9,204.2 116.2,256.4 98.5,203.6 92.5,264.1 106.4,265.7 132.8,236.0 137.2,269.5 85.2,222.5 42.6,217.9 64.6,218.0 64.9,180.6 82.6,246.0 58.5,183.6 83.2,235.3 124.6,204.9 156.4,181.0 99.7,198.8 152.1,266.6 134.6,268.7 96.0,178.2 78.8,221.4 154.9,256.6 51.8,232.7 139.9,204.7 119.3,272.5 104.9,209.7 151.1,178.2 98.5,228.1 104.4,189.1 161.6,208.6 148.9,212.3 57.4,242.5 94.5,267.8 169.6,210.6 142.9,178.1 168.6,234.0 130.2,262.5 101.3,228.7 130.7,189.9 127.1,222.0 137.9,196.3 146.5,261.4 120.3,168.8 88.4,270.4 132.8,180.2 45.2,209.1 163.2,213.4 154.5,200.5 86.9,228.3 101.9,181.1 104.1,178.6 157.0,190.5 182.6,229.1 138.2,193.8 60.5,257.6 106.3,264.4 176.3,230.1 75.4,231.7 91.4,199.9 160.8,227.5 128.8,238.1 101.7,221.6 77.0,243.5 124.3,181.5 149.3,258.5 76.2,212.9 76.0,177.9 115.5,211.1 74.2,180.2 154.8,217.3 111.8,236.3 179.3,242.4 112.7,208.8 130.9,199.8 66.5,218.5 141.5,264.7 80.4,269.8 70.1,200.7 170.4,201.1 79.7,247.4 79.8,211.6 141.1,176.4 139.4,265.9 144.5,270.9 91.7,232.7 154.7,194.8 143.2,252.3 71.5,195.0 128.1,181.9 103.8,193.3 130.4,262.6 60.8,249.2 90.8,261.0 72.5,262.1 130.3,181.3 45.7,219.5 64.9,187.5 73.1,240.9 81.2,259.3 117.7,174.1 66.3,206.7 81.1,235.0 86.8,251.9 137.6,276.2 133.8,200.5 124.5,203.5 83.6,215.5 95.2,200.2 155.2,225.8 127.9,232.7 113.7,206.3 112.2,279.4 58.5,189.6 61.8,205.8 119.3,261.4 107.2,224.3 124.1,251.4 121.1,244.9 144.9,255.6 47.9,199.2 115.2,188.7 92.3,218.4 56.4,202.9 108.9,200.6 114.9,208.3 182.2,224.1 80.3,257.0 150.4,267.8 161.4,190.5 159.5,206.9 108.4,170.5 172.1,203.1 122.7,256.9 43.7,206.8 102.5,237.9 85.2,187.7 170.3,249.5 163.4,199.9 145.7,263.0 65.8,182.1 125.1,169.0 142.7,222.4 59.5,258.6 51.0,210.7 105.7,221.1 148.4,234.3 101.7,249.8 104.5,219.2 75.7,224.0 117.2,169.6 116.9,262.0 109.8,259.1 74.0,199.6 94.4,276.6 88.7,232.3 151.9,181.6 91.1,202.9 91.2,230.3 55.2,194.4 168.9,200.4 182.3,216.5 132.2,210.3 116.3,255.2 68.0,225.7 106.1,196.0 104.1,215.1 127.3,274.5 142.7,176.0 181.5,212.2 99.8,211.3 155.3,261.3 121.6,204.3 159.5,221.8 145.9,186.2 127.1,176.5 133.4,197.6 54.2,229.4 63.4,199.4 118.9,188.6 74.6,208.2 107.4,240.1 137.1,273.2 49.5,219.2 168.6,258.5 68.1,246.4 86.6,201.9 78.9,206.2 67.8,253.2 65.9,251.7 108.4,248.6 88.7,242.2 44.6,196.6 170.8,219.5 122.6,191.9 138.2,253.2 109.3,205.1 44.6,244.1 68.4,263.2 131.7,169.7 70.3,262.5 146.6,215.1 125.3,219.6 90.0,234.3 71.2,254.8 101.3,275.8 145.5,202.7 84.3,194.1 135.2,229.9 136.7,192.8 147.3,222.7 128.9,269.6 149.6,181.9 167.6,220.2 163.5,236.5 102.3,182.7 135.9,262.5 75.0,221.9 170.8,251.0 144.4,194.0 113.8,199.9 113.3,234.4 97.4,196.0 134.5,195.6 44.3,200.6 173.0,195.1 169.7,255.0 166.6,187.4 68.0,233.2 39.8,217.3 164.1,243.9 142.2,211.3 73.1,180.1 153.4,241.4 75.3,190.1 103.6,246.0 36.2,220.8 146.4,241.0 44.7,221.8 154.4,251.4 67.6,243.4 138.5,240.8 103.3,239.1 117.2,230.3 107.6,213.7 155.6,196.7 156.6,235.7 78.4,181.5 84.8,249.9 63.6,252.2 55.4,248.1 124.5,239.5 122.7,221.7 70.7,199.2 88.1,210.8 59.3,249.2 171.3,194.4 108.0,232.2 175.7,249.5 133.1,181.3 158.8,221.8 74.3,234.9 120.9,202.4 128.3,211.6 178.5,221.0 166.7,222.0 78.8,215.1 102.3,204.4 67.7,259.9 149.0,205.8 172.4,241.1 99.9,180.9 91.5,237.0 87.4,244.3 152.5,248.7 148.3,245.1 137.3,186.0 133.3,229.7 143.1,242.4 129.0,167.8 81.7,213.3 148.3,222.6 77.4,201.7 179.8,217.9 37.8,217.8 81.6,257.1 102.1,271.1 95.3,252.6 109.1,255.4 85.4,197.4 57.6,231.5 158.1,211.7 54.1,251.8 122.5,207.8 99.9,273.8 151.9,181.2 49.9,228.8 121.7,199.9 76.2,208.8 124.8,271.4 151.8,242.2 175.0,241.8 63.2,239.6 166.6,231.7 102.1,268.9 115.9,174.3 63.3,222.6 98.8,260.1 36.6,221.7 167.6,194.3 113.4,221.5 96.8,226.4 93.6,173.5 137.7,249.0 106.8,211.9 132.2,175.9 102.7,226.0 53.0,218.3 161.2,247.7 83.8,264.4 77.7,247.0 126.5,215.0 48.3,209.1 47.4,237.6 117.1,277.5 128.9,196.5 158.0,192.3 124.2,234.2 90.3,177.1 130.9,243.4 82.6,226.5 131.0,220.9 94.1,218.5 169.5,253.4 50.6,221.4 171.2,226.2 79.1,205.6 86.6,254.2 134.5,238.5 72.0,250.9 94.8,174.9 127.0,199.2 97.7,248.9 125.3,251.0 178.7,216.9 121.2,179.1 65.5,231.9 49.8,232.3 89.3,271.2 79.2,245.9 76.2,255.2 71.7,208.1 104.7,250.9 56.8,188.3 152.2,233.2 102.1,214.2 148.5,214.4 67.1,259.1 87.6,197.7 44.5,230.0 100.7,195.8 105.8,251.6 74.0,173.5 59.7,213.9 81.8,221.4 172.0,202.6 146.3,176.6 124.7,229.6 59.4,206.2 37.3,229.9 136.8,258.6 105.2,230.9 151.4,227.4 178.1,204.4 125.6,227.6 60.2,247.3 167.3,234.3 100.4,218.4 99.4,247.5 147.3,183.0 79.3,255.0 90.1,255.9 131.9,231.0 74.1,248.1 105.1,266.4 140.5,270.3 67.0,223.6 144.2,185.0 103.6,257.9 52.3,235.7 83.3,272.4 122.2,244.4 59.5,251.7 174.5,246.2 163.9,215.0 63.4,231.5 45.8,202.1 154.8,193.2 40.2,238.0 131.9,206.3 167.7,200.8 60.5,219.5 112.9,228.2 75.5,263.0 102.6,234.8 182.4,209.4 166.3,233.8 95.7,208.9 95.2,247.1 38.5,212.1 124.5,226.9 56.3,249.7 59.7,216.6 49.0,235.3 108.8,265.2 59.2,234.3 37.9,235.4 176.1,220.1 122.6,276.7 109.7,275.0 76.6,238.7 68.5,237.8 154.6,231.7 106.6,221.7 91.8,206.8 122.6,257.8 163.5,247.3 111.0,191.2 62.3,260.9 95.9,221.8 115.8,189.8 103.8,264.7 62.4,210.0 122.5,254.6 172.9,229.5 122.9,228.2 110.7,241.9 71.2,239.5 97.2,171.3 117.5,185.4 171.7,224.2 122.9,198.5 72.7,177.3 87.9,251.7 117.8,195.5 134.1,212.1 172.1,192.9 140.4,195.9 141.8,196.6 159.9,194.9 159.5,239.5 74.5,216.9 145.7,194.8 161.1,201.7 127.9,203.7 126.2,173.1 117.8,236.6 140.4,230.2 147.0,247.0 70.2,187.6 98.9,271.0 65.1,191.9 84.3,270.5 64.8,182.5 110.7,208.2 57.5,245.2 119.0,190.1 75.2,244.7 115.6,229.8 80.8,267.0 171.3,199.9 52.7,249.6 137.9,247.2 153.4,209.1 111.0,180.6 117.8,212.6 76.5,234.4 104.4,166.2 82.8,274.0 152.4,189.5 61.4,182.7 88.6,275.7 142.2,253.3 99.8,196.7 54.5,188.1 67.6,219.7 125.9,252.7 141.6,177.2 155.4,250.2 76.1,189.5 68.4,245.3 160.3,212.5 92.2,228.0 103.1,205.9 41.7,240.9 102.2,272.0 77.4,231.3 153.1,198.7 136.0,208.3 125.9,230.7 120.6,260.8 85.7,236.8 113.5,261.8 80.5,254.8 53.1,240.2 79.5,259.4 126.0,200.2 178.7,212.1 123.4,212.9 129.0,278.1 86.3,223.0 186.1,225.8 38.1,238.6 75.2,197.9 113.0,166.0 89.0,253.9 95.1,229.3 143.8,230.8 76.8,255.8 181.3,239.8 131.7,236.7 146.6,196.0 36.1,229.5 123.6,196.6 150.3,208.8 118.1,194.8 154.7,265.3 74.2,218.9 160.7,219.6 74.9,177.5 46.1,198.8 108.6,181.4 86.3,264.6 141.1,245.6 91.9,268.9 67.9,248.2 114.6,237.2 156.3,194.2 138.2,177.8 181.9,236.1 154.9,202.5 77.8,205.3 127.9,207.7 78.6,261.5 119.0,227.4 117.4,205.0 146.5,181.2 112.6,260.9 151.9,218.3 137.5,228.6 82.2,255.6 138.7,187.5 152.6,251.4 143.7,237.7 147.7,232.0 152.1,247.2 49.3,197.9 126.4,234.9 135.1,221.6 55.3,256.5 77.9,213.0 181.1,210.7 117.4,226.0 64.3,250.9 184.5,224.6 153.6,207.0 82.1,180.2 164.9,189.9 116.8,265.5 113.0,194.1 115.9,235.4 59.3,230.0 70.7,214.6 150.2,225.0 41.1,212.4 86.4,275.5 161.8,189.5 57.9,256.4 134.9,178.2 170.0,193.5 81.9,190.2 109.4,245.3 131.4,212.2 90.7,225.0 127.2,197.9 59.5,247.2 60.1,263.8 150.0,200.3 99.1,268.3 92.9,186.7 64.4,197.5 152.9,220.3 176.8,240.9 145.1,240.6 45.0,230.4 126.3,257.9 84.4,254.9 148.3,219.9 127.6,208.8 71.2,193.0 132.5,177.2 125.4,173.5 104.3,235.1 140.6,213.5 89.3,253.2 176.6,234.7 55.3,199.2 135.6,242.6 120.0,254.2 85.3,246.1 160.9,259.6 142.8,216.4 75.8,208.0 95.6,190.8 111.6,232.7 172.6,200.3 151.8,192.4 51.6,254.0 128.4,257.9 72.2,208.7 63.3,265.4 141.9,214.8 156.8,204.8 102.2,225.4 103.5,274.3 143.9,251.2 132.3,192.4 114.4,255.2 182.6,210.9 62.7,187.8 58.6,211.2 180.9,225.4 95.9,272.0 48.4,235.5 47.3,214.4 85.6,268.5 70.0,182.8 150.1,242.3 167.7,232.7 52.2,257.3 56.6,230.5 108.8,175.2 131.8,186.4 87.5,243.4 57.0,256.5 142.1,262.8 53.4,256.9 137.8,233.3 76.1,248.9 72.3,220.1 156.1,247.7 114.5,233.3 66.0,252.5 98.9,174.5 108.5,209.3 151.0,264.2 147.7,254.3 121.3,250.7 110.5,268.7 154.8,195.0 98.7,172.1 136.2,200.7 72.7,247.5 166.6,208.9 139.5,212.4 114.3,173.8 48.0,230.0 59.4,251.8 131.0,265.8 104.6,229.8 90.1,274.2 58.4,217.3 97.8,173.7 76.2,181.7 124.5,206.1 136.6,216.8 129.8,193.2 115.2,221.1 130.7,270.3 128.3,259.7 121.5,192.6 132.1,181.5 47.5,219.8 137.1,240.0 70.4,230.9 141.8,248.2 141.2,202.5 140.5,182.6 103.7,270.0 96.8,272.9 95.7,205.1 83.4,217.0 174.3,235.6 72.3,226.8 46.0,203.2 119.7,247.2 74.0,248.9 128.6,247.3 129.5,226.2 80.2,228.2 47.6,252.9 132.0,225.9 126.9,234.9 95.7,220.6 137.8,219.6 126.2,266.5 95.0,178.6 148.4,222.6 123.4,215.8 129.9,264.1 40.7,210.4 74.7,266.0 129.8,220.0 146.5,214.0 71.0,220.2 148.5,212.0 132.7,254.8 80.7,250.1 117.8,167.9 69.2,255.3 94.7,194.4 84.9,190.2 126.2,263.3 73.4,236.5 159.5,189.5 140.2,227.7 67.7,204.5 73.4,264.7 113.6,209.9 130.0,230.3 46.0,205.7 48.8,215.6 175.4,214.9 118.2,228.2 91.7,195.2 128.4,247.3 145.9,256.0 86.9,192.5 136.8,237.4 100.4,261.3 98.9,187.0 165.4,187.9 74.2,271.2 107.0,178.7 114.0,190.5 136.1,186.1 128.6,187.5 106.8,262.5 178.7,211.6 126.8,226.0 175.6,206.2 113.3,242.3 104.4,170.6 105.2,211.0 181.8,241.7 60.6,234.9 155.6,204.2 62.4,222.1 110.3,195.7 94.3,222.8 103.0,259.8 85.3,273.1 165.2,250.0 111.0,241.0 142.4,255.9 77.0,244.6 103.8,174.1 111.5,195.0 105.0,204.5 70.4,238.6 90.3,188.3 130.6,175.1 48.1,224.9 176.3,250.8 40.7,229.1 119.8,199.1 84.5,201.8 46.4,200.5 111.3,268.2 61.1,191.2 165.7,209.8 128.4,241.9 148.6,176.7 84.1,234.7 142.7,199.7 129.6,272.7 177.2,209.9 82.3,237.8 66.2,266.6 42.9,201.3 120.1,203.5 62.4,235.6 40.2,228.5 89.0,205.8 175.9,230.1 86.5,234.7 61.8,185.0 118.3,242.5 136.0,204.1 81.6,198.2 137.9,172.4 95.3,248.6 102.6,261.2 178.1,213.7 85.0,226.7 154.2,184.2 92.3,250.7 123.8,222.9 79.9,191.8 98.9,168.3 87.1,200.6 112.8,216.6 55.0,239.4 124.1,266.4 123.4,206.3 75.2,219.4 140.9,262.2 89.3,210.4 78.4,214.9 159.4,210.7 66.3,222.6 123.9,184.3 43.1,244.0 170.6,217.7 132.4,240.3 74.3,206.7 49.6,246.9 143.3,270.9 91.1,276.0 107.2,209.5 171.2,210.3 143.1,265.5 86.5,175.2 106.8,194.8 69.4,264.4 86.3,178.0 91.0,268.1 146.1,213.3 83.9,266.2 151.2,186.1 164.5,219.4 95.3,265.5 56.4,253.0 61.0,183.8 58.4,214.9 102.7,254.7 50.7,201.1 127.3,265.2 172.2,231.4 99.0,234.0 116.7,259.2 139.4,224.7 127.2,173.8 65.3,178.7 89.2,238.8 104.5,248.7 118.5,250.5 79.7,241.7 118.5,236.1 137.3,221.6 132.6,262.1 105.3,254.7 62.5,194.6 85.5,239.0 103.3,262.1 185.7,219.5 62.6,249.7 154.4,223.2 135.8,206.7 81.7,201.4 108.4,220.0 84.2,227.4 112.1,273.6 110.9,237.5 145.1,196.6 69.8,184.0 120.4,236.0 118.3,204.3 50.8,195.5 76.9,172.1 122.4,234.4 101.4,259.1 167.3,199.4 134.8,172.1 56.1,224.1 128.1,270.7 160.3,185.2 125.4,229.2 57.3,227.6 57.8,236.4 107.8,165.4 162.9,231.4 82.5,175.4 76.7,199.2 80.5,206.1 158.3,248.6 129.5,262.5 149.2,241.6 59.1,190.7 83.7,247.4 72.6,223.1 88.9,169.4 116.2,185.0 42.9,222.0 61.2,238.6 102.4,217.0 121.8,224.9 125.6,178.3 154.7,265.7 95.8,213.3 168.2,248.7 104.9,195.1 69.3,257.9 58.1,241.0 51.1,207.3 51.2,255.4 156.3,242.8 113.7,185.8 166.5,207.7 154.4,205.7 129.6,171.9 167.3,230.3 145.8,249.7 116.9,259.7 88.1,260.6 47.1,212.2 69.7,249.0 119.8,186.4 105.6,257.4 94.5,256.6 43.2,229.5 70.6,183.0 151.5,200.5 148.3,217.2 70.7,251.3 79.3,173.5 101.2,221.0 100.3,258.3 162.4,232.0 135.0,225.2 175.7,210.3 81.8,262.5 67.2,208.4 86.5,208.8 80.9,171.4 103.0,234.3 101.4,183.9 161.0,253.7 127.0,214.7 178.5,206.0 61.2,231.6 75.2,201.2 54.0,199.8 64.3,219.9 52.7,231.7 132.3,244.9 131.7,174.6 125.5,223.4 122.2,184.3 86.0,275.8 50.5,222.6 102.1,275.9 100.6,237.7 155.9,204.8 49.5,231.1 53.6,196.0 133.8,186.3 116.0,267.7 78.7,193.5 156.5,260.2 60.5,246.9 116.7,175.4 105.3,215.8 66.2,217.5 46.0,207.7 136.0,204.7 167.9,225.7 137.0,223.9 81.0,208.6 94.7,249.3 104.8,247.9 48.6,236.5 123.6,230.4 157.4,236.8 61.2,262.0 135.2,196.7 58.7,262.4 143.9,190.9 159.9,204.2 83.0,223.2 131.2,275.5 88.9,264.5 186.4,219.1 41.4,202.5 58.1,204.5 140.4,184.4 165.0,238.5 46.3,242.0 55.5,246.0 77.7,271.1 73.5,185.7 67.3,181.3 105.8,229.0 97.0,265.0 56.1,216.1 139.7,221.8 148.9,178.7 65.6,249.8 167.4,228.0 147.3,193.8 155.0,253.8 113.2,184.4 182.6,226.1 142.0,268.4 57.0,191.3 128.9,247.1 125.2,247.6 84.5,174.7 129.0,200.9 109.1,207.4 62.7,223.7 67.5,197.6 144.6,223.4 148.2,230.1 72.6,219.0 126.8,205.6 90.9,190.0 134.8,211.9 149.3,196.0 80.8,218.8 89.0,213.3 63.7,216.9 100.9,252.1 142.7,257.8 118.4,260.2 68.2,192.3 148.1,233.3 128.9,194.9 40.8,243.8 56.5,226.9 147.8,252.7 172.3,240.9 110.5,247.3 90.7,194.9 116.1,235.9 114.4,225.2 104.9,168.8 87.9,181.7 67.1,196.1 147.1,238.7 97.4,261.3 151.9,226.7 94.0,244.5 148.3,267.0 90.2,262.2 78.0,235.7 112.4,165.4 94.8,221.4 153.8,188.9 156.7,214.0 88.8,173.7 152.7,202.7 110.8,188.3 127.1,272.5 123.3,182.7 89.5,226.6 147.8,219.2 111.2,189.2 134.1,240.7 136.6,212.6 113.1,179.9 91.7,214.0 146.0,208.3 61.2,209.5 123.9,180.3 142.4,198.1 135.5,241.4 93.5,226.2 165.8,215.9 186.5,221.2 121.1,274.5 102.1,179.7 174.9,198.1 161.9,204.2 137.5,253.3 94.0,275.3 159.4,182.4 135.4,226.9 138.9,183.3 166.9,219.0 120.0,278.6 92.7,259.0 137.9,271.6 153.5,220.7 50.1,228.8 75.8,235.0 61.5,247.6 177.9,207.9 144.0,182.6 99.3,182.8 130.0,214.5 128.6,256.0 186.1,228.5 123.4,253.1 102.5,187.4 158.7,208.3 155.4,184.2 118.8,262.9 110.5,206.5 107.5,213.3 165.7,191.5 144.0,269.8 184.1,230.7 118.3,215.1 72.4,185.5 153.7,252.1 127.7,265.2 157.6,196.6 158.1,247.0 110.5,266.8 182.5,224.6 143.8,201.2 77.0,260.4 97.6,225.7 40.8,226.2 180.5,242.5 63.7,180.7 80.9,192.0 158.5,202.9 175.6,244.5 156.8,246.1 63.9,190.8 103.6,211.9 135.2,170.0 124.3,207.4 112.6,245.4 71.5,256.6 148.3,177.0 88.0,219.0 144.9,224.2 100.9,269.8 62.8,234.0 176.2,223.8 98.0,256.0 128.6,184.9 70.0,218.9 133.3,169.8 142.1,266.8 38.2,208.8 67.8,214.3 126.0,270.1 179.7,230.3 73.2,174.7 122.6,270.0 172.1,238.8 140.2,273.9 117.4,273.6 69.1,200.4 84.8,183.7 83.3,189.6 137.4,244.7 98.7,200.4 98.2,213.9 175.8,202.8 162.3,195.2 57.3,212.0 143.4,181.3 159.9,217.2 46.8,202.9 46.7,222.1 145.3,220.3 119.3,176.6 132.5,220.4 146.2,225.6 160.1,202.8 113.8,166.9 114.9,273.2 145.1,187.4 80.5,237.3 132.5,242.9 107.0,206.3 80.8,224.9 56.7,193.4 122.7,248.9 82.6,208.5 141.1,234.3 106.8,269.8 169.6,216.4 143.3,186.7 41.7,207.3 121.7,267.0 79.3,198.7 125.5,232.2 167.2,237.1 173.3,226.0 134.8,253.1 111.3,280.6 124.9,189.3 136.9,199.4 115.9,198.1 104.5,225.1 77.4,252.4 135.4,191.2 149.4,231.6 91.6,189.8 70.1,201.9 129.0,274.2 89.6,183.0 134.6,270.7 102.6,169.1 76.7,201.4 79.3,190.7 109.1,232.2 109.5,178.3 179.8,229.2 163.5,216.8 72.7,186.6 67.7,202.6 178.7,240.2 76.0,271.4 85.3,230.8 95.9,252.2 149.8,211.5 84.7,221.5 54.4,221.0 103.7,244.0 126.3,225.6 80.6,180.5 147.4,192.6 68.4,192.6 90.3,173.9 144.2,198.4 65.7,260.5 87.1,212.1 105.2,276.1 102.0,195.2 67.7,227.1 75.2,184.5 49.9,251.6 136.0,258.5 137.6,251.8 134.1,198.6 136.8,236.0 170.8,231.3 143.9,204.1 95.0,241.7 55.8,215.0 51.4,242.4 158.4,186.0 60.3,209.8 105.7,166.7 58.1,186.4 91.1,242.1 85.6,271.4 104.1,212.8 146.9,186.6 82.0,204.3 84.8,208.3 110.6,221.0 130.6,212.4 136.1,234.9 99.7,244.0 97.7,192.0 140.0,186.9 63.0,254.9 64.3,234.9 125.8,272.6 59.1,247.7 76.0,216.6 134.5,231.4 64.1,228.1 147.2,248.8 62.6,232.6 96.7,215.5 85.0,192.8 147.5,207.5 111.7,272.2 86.5,179.9 139.3,181.9 49.9,193.9 111.8,250.9 150.4,192.0 133.3,207.9 152.8,235.3 103.0,279.4 98.7,273.1 65.5,185.6 130.5,246.6 115.1,177.2 43.2,211.5 76.5,194.4 80.4,271.5 114.8,257.8 130.7,239.5 106.3,220.3 61.7,208.8 149.6,208.9 90.9,213.2 97.8,221.3 108.9,226.2 166.1,190.2 61.3,264.6 54.0,259.2 115.0,193.8 57.8,196.0 151.2,178.3 95.5,232.0 80.2,193.4 88.5,168.6 52.7,210.3 175.1,241.0 106.5,231.7 126.5,227.3 78.2,251.2 162.8,229.0 141.5,213.1 86.3,258.6 97.0,219.5 91.8,173.2 172.6,230.2 47.0,228.0 151.8,183.4 100.5,235.9 89.8,228.5 167.0,210.4 49.2,221.2 158.2,232.3 66.0,186.0 158.9,230.9 65.9,201.9 107.1,177.6 55.0,236.0 104.1,169.4 120.6,194.5 160.6,239.2 157.1,247.2 131.4,204.7 67.8,188.3 105.3,213.0 176.6,213.3 151.1,250.1 96.7,259.4 136.5,259.8 124.9,238.6 119.5,182.4 85.1,235.5 76.4,261.9 129.6,232.4 123.6,224.4 88.9,214.0 111.4,275.1 55.2,200.6 142.8,191.0 171.8,205.7 169.3,220.5 111.5,229.8 79.5,195.9 74.9,242.9 56.6,228.3 86.7,266.8 39.0,228.0 45.2,226.3 155.8,221.3 119.0,200.8 182.2,215.0 86.6,213.6 110.1,235.9 114.5,241.8 98.1,168.6 138.4,175.2 74.1,187.4 156.2,203.9 75.1,241.0 147.8,209.2 87.8,175.5 115.3,191.8 138.8,199.6 156.6,239.0 72.4,270.2 141.6,216.9 147.7,187.9 165.5,220.7 79.9,221.5 156.2,217.7 113.2,251.6 132.3,252.6 41.3,203.3 77.6,208.8 150.0,198.1 160.3,203.6 93.7,260.9 153.0,211.0 81.7,177.9 179.1,218.2 86.5,205.8 50.7,238.4 66.5,179.0 136.4,238.8 173.8,249.9 131.3,187.8 168.6,239.3 165.2,204.4 129.6,189.4 95.0,277.9 70.3,248.2 110.5,252.0 108.7,236.2 171.6,203.3 152.7,197.8 86.2,195.1 45.2,199.1 98.8,269.9 39.7,213.2 173.4,249.8 60.9,197.3 95.5,184.4 145.5,218.6 69.4,235.3 138.7,257.2 89.5,174.7 110.2,230.3 121.7,235.1 69.4,238.7 113.5,254.3 69.8,242.8 38.6,211.2 174.4,220.9 69.5,204.5 140.6,206.7 81.5,175.6 105.2,226.5 172.0,235.1 88.9,182.3 88.8,243.6 148.1,251.1 68.8,227.7 74.2,256.1 67.1,212.4 65.0,207.2 121.5,168.5 49.7,247.3 113.7,251.1 37.3,216.4 67.0,242.4 75.9,186.8 93.2,269.2 169.3,219.3 94.9,215.9 115.3,172.0 116.5,207.3 117.6,232.0 100.9,257.6 66.8,187.2 96.9,234.9 92.1,190.8 89.8,201.4 99.8,227.6 84.9,242.7 60.8,188.8 87.9,207.8 104.9,191.5 168.0,253.7 104.1,165.7 132.0,245.7 80.1,245.6 75.6,196.5 151.9,185.5 150.1,249.0 95.1,245.5 138.8,184.7 107.4,184.2 91.7,254.9 143.0,239.6 120.1,267.9 172.3,219.7 153.5,268.3 57.5,255.9 127.2,195.0 54.0,199.6 73.4,178.3 173.7,223.6 134.9,208.5 183.5,225.7 165.4,258.7 55.2,184.9 42.3,235.5 96.2,244.1 114.9,175.4 75.7,191.3 73.0,194.0 83.3,200.1 175.0,243.9 103.6,268.5 50.3,249.5 65.1,229.5 80.6,194.9 63.6,182.4 154.9,180.9 64.1,192.4 82.2,271.9 146.4,178.7 176.3,202.0 96.3,256.4 46.4,217.5 118.2,171.2 93.6,198.1 86.8,262.2 43.4,247.3 66.9,209.8 164.0,215.1 169.2,221.9 165.3,206.6 83.0,228.3 37.7,227.0 102.5,176.8 77.4,239.1 98.2,246.5 68.8,251.0 72.0,260.8 131.2,236.3 122.9,211.4 101.2,247.7 150.1,270.3 156.1,255.2 142.8,230.2 66.0,195.0 101.8,244.1 157.4,249.7 119.7,279.8 105.8,170.5 181.3,238.5 174.0,245.2 164.7,233.0 134.1,184.3 166.2,201.9 130.5,273.2 101.8,199.6 40.6,205.4 45.4,248.7 64.0,233.3 138.0,268.7 76.7,222.1 160.5,221.2 89.3,171.4 156.8,206.2 46.8,232.4 182.8,239.3 95.9,239.5 148.4,256.2 135.8,251.5 167.4,244.1 109.6,222.7 117.6,266.5 66.8,243.3 116.6,212.7 171.9,217.3 170.6,212.6 126.5,245.5 91.9,244.7 146.4,257.2 180.4,233.2 171.9,204.2 135.2,246.8 117.2,253.4 182.7,228.6 160.6,244.5 110.1,271.6 135.6,210.8 93.9,262.0 60.1,219.0 130.1,223.2 125.8,237.7 143.9,251.8 127.8,171.6 121.0,216.2 98.9,207.9 99.4,270.2 63.6,265.1 132.9,222.6 48.8,202.9 92.4,178.0 73.0,195.5 89.1,205.9 114.2,184.7 137.6,194.4 60.2,223.1 97.0,210.2 165.3,260.9 88.5,231.6 85.9,253.7 36.1,213.8 100.0,266.9 135.7,244.2 157.2,207.4 119.9,225.6 41.1,233.9 97.3,265.6 80.5,244.3 174.5,222.5 125.3,193.2 167.0,252.3 154.9,224.2 82.2,232.8 120.7,263.9 108.2,216.4 42.5,205.9 170.1,234.9 79.3,266.8 160.3,199.7 177.0,216.2 168.7,247.2 100.4,250.0 108.3,204.5 119.5,180.9 91.5,220.1 120.9,195.3 82.2,267.6 64.1,226.6 150.2,187.6 123.2,211.6 130.4,245.6 78.7,231.0 68.1,250.5 61.7,199.6 99.1,204.4 120.9,234.0 69.6,222.1 101.1,241.7 162.1,198.0 66.7,231.1 71.1,225.7 117.7,279.2 76.0,224.1 65.9,190.1 93.3,242.1 84.1,197.7 112.3,238.7 145.7,216.7 123.3,167.0 54.0,230.9 52.0,213.1 78.9,243.4 125.5,255.8 52.9,232.9 158.0,253.3 160.8,245.8 67.5,210.5 120.3,240.2 45.1,233.4 64.2,186.5 72.3,268.8 49.3,227.6 65.2,260.8 93.2,252.4 129.5,207.6 71.4,230.7 105.9,272.7 115.9,270.9 157.0,250.5 79.6,219.3 97.9,243.8 92.3,202.8 182.5,215.9 152.0,223.7 78.4,187.8 87.2,240.1 148.5,200.7 103.8,231.7 58.7,231.4 121.4,219.1 73.0,214.2 57.0,230.3 105.7,218.4 173.8,251.8 80.2,234.0 72.5,234.8 95.6,170.1 103.4,221.3 115.5,192.1 90.6,208.7 160.9,241.9 64.0,252.4 145.8,253.6 122.8,187.7 92.4,277.4 87.5,256.8 153.5,185.8 63.7,196.5 130.0,216.8 128.4,234.8 175.7,217.5 117.6,249.7 184.8,221.0 122.0,223.3 142.3,174.0 166.8,239.3 51.8,204.2 67.5,219.4 94.6,217.0 102.2,279.3 133.1,251.5 111.5,274.7 97.3,202.2 163.3,254.1 99.9,244.6 105.9,173.9 73.9,197.1 81.4,269.0 54.3,227.0 143.3,236.7 173.6,225.0 99.1,277.7 162.3,256.8 120.6,173.0 137.6,238.5 154.4,243.3 115.9,251.1 163.6,250.2 91.8,270.1 89.1,231.8 105.6,173.2 139.4,176.1 76.9,183.5 85.6,270.0 173.9,212.4 77.3,245.5 161.8,216.1 143.8,266.3 116.5,275.8 90.7,220.2 147.7,190.4 153.4,232.2 168.6,213.4 50.9,192.0 47.5,217.1 158.4,264.9 77.4,256.5 143.1,213.8 89.2,193.6 121.9,277.1 135.5,213.6 94.0,190.0 59.9,230.1 173.6,214.0 112.1,200.5 139.8,217.9 115.7,205.6 44.0,234.9 158.0,218.1 85.7,170.5 98.5,227.3 57.5,198.8 170.7,196.4 80.6,170.7 91.4,189.0 71.6,254.8 142.1,178.2 70.0,190.2 50.4,206.2 83.1,207.3 101.7,204.0 126.7,167.3 141.4,255.9 132.2,198.2 74.8,174.8 119.4,274.9 118.5,240.1 61.7,234.2 66.1,268.1 173.0,207.8 114.8,204.1 145.4,238.0 124.4,213.9 76.6,228.6 116.3,248.1 146.0,267.0 115.6,186.8 64.9,198.3 61.0,244.1 103.0,200.6 172.2,228.4 73.5,254.5 171.4,251.7 158.3,242.9 55.6,216.9 85.1,180.1 127.9,225.2 110.8,230.3 48.4,223.8 167.2,204.8 158.7,198.0 119.0,167.1 63.6,211.9 59.8,182.2 77.9,268.9 93.0,234.4 65.4,225.7 140.4,245.0 70.0,179.3 98.9,182.2 117.4,205.8 108.4,230.9 82.8,252.7 102.7,190.6 69.2,264.5 144.1,228.4 147.5,202.4 133.6,210.8 69.2,182.5 118.0,223.9 58.6,231.8 81.8,247.8 59.9,202.6 102.2,250.6 53.7,248.4 119.2,244.9 91.6,253.1 54.4,196.4 110.5,210.3 164.3,250.4 71.4,234.3 89.1,184.3 116.6,192.4 165.6,201.0 87.7,211.2 68.5,231.6 153.1,208.8 162.5,196.9 102.5,197.3 133.3,198.7 49.4,207.3 131.8,211.8 80.1,210.3 94.8,175.6 52.1,244.9 114.7,231.7 58.2,262.4 52.4,206.4 122.6,209.5 77.9,207.2 70.1,234.1 125.9,186.0 142.1,256.9 144.8,212.3 137.7,209.7 62.9,227.1 129.0,207.3 141.4,222.1 68.0,252.0 114.1,250.2 85.6,218.9 119.8,234.6 126.2,210.9 40.2,223.3 79.7,177.5 116.8,200.5 185.1,221.4 92.9,236.8 72.1,256.6 139.0,237.3 116.8,222.6 68.5,191.2 118.7,186.9 134.4,259.9 39.1,235.9 145.5,226.5 172.4,255.4 123.9,218.7 56.5,222.2 97.3,249.7 71.7,202.5 154.7,268.5 164.8,255.5 87.0,233.7 69.7,186.6 112.4,254.8 82.4,217.0 134.3,248.6 56.6,224.3 44.5,239.4 38.7,213.6 83.1,197.2 104.9,279.5 97.8,263.8 124.2,246.9 73.9,269.8 156.9,198.9 82.7,261.0 144.5,235.0 124.7,199.9 104.3,233.1 138.6,258.6 66.2,247.4 165.3,241.8 132.7,237.9 70.5,233.3 113.7,218.9 139.3,171.8 53.9,242.2 104.3,190.8 133.8,266.7 82.9,210.3 92.5,169.9 141.3,205.3 84.5,256.8 91.2,269.6 110.7,179.7 161.4,249.7 173.8,215.6 82.8,176.9 115.7,182.4 118.3,166.4 61.8,202.2 131.7,232.8 131.6,216.8 177.3,238.1 156.1,200.7 115.2,214.7 173.5,243.3 87.0,259.6 167.3,246.6 89.1,269.4 157.1,259.5 151.3,269.9 149.6,262.9 113.0,223.4 50.5,225.0 157.8,200.7 121.1,248.4 61.4,190.2 74.3,229.3 74.1,225.5 118.7,196.0 103.9,207.7 140.4,193.6 166.4,247.7 61.0,198.3 74.1,199.2 178.9,222.3 100.7,194.0 103.7,194.8 150.4,264.4 45.8,215.5 110.8,224.6 130.4,258.4 71.4,195.0 83.5,173.0 53.8,253.9 65.2,192.6 60.4,195.6 72.2,238.8 141.1,239.4 63.4,233.1 120.1,207.0 161.8,257.8 159.0,232.4 76.5,175.1 95.9,228.0 54.9,197.8 124.4,270.0 51.2,243.3 150.4,214.0 142.8,208.2 165.0,224.7 45.1,237.1 152.6,263.9 96.7,274.0 55.9,190.3 145.3,211.0 90.3,179.5 149.1,199.7 91.7,172.1 149.8,254.5 135.3,256.1 177.4,221.1 59.4,187.6 54.9,191.6 73.9,184.1 107.0,225.8 114.2,276.9 78.7,192.1 156.5,186.7 65.8,265.4 136.1,195.1 116.7,218.2 107.9,189.9 58.3,215.9 159.4,222.9 155.5,255.7 94.7,239.2 71.9,207.1 92.7,167.5 80.9,258.0 77.1,175.5 61.3,207.2 63.9,185.2 86.8,215.3 77.8,223.5 176.6,245.3 129.0,179.1 95.7,275.0 80.3,233.3 134.3,271.8 129.9,191.8 105.2,199.5 131.7,180.2 106.6,243.7 93.5,206.0 89.0,276.7 63.5,213.7 169.9,214.0 146.2,210.9 169.5,228.0 149.4,260.3 137.9,199.8 147.2,236.9 135.2,253.3 144.1,216.5 131.7,270.6 48.3,193.5 60.3,181.1 158.9,257.5 65.5,204.1 149.5,190.3 126.4,191.0 110.7,258.6 162.8,184.6 75.9,254.0 84.8,179.5 44.1,202.5 119.3,202.0 137.6,241.5 120.9,239.0 138.0,185.9 127.5,245.7 121.5,264.0 50.2,244.0 88.1,186.8 142.4,273.5 128.6,185.8 139.6,275.5 105.0,253.5 101.7,211.5 57.8,242.6 88.3,248.5 112.8,196.3 144.6,267.7 132.9,237.8 111.4,257.9 115.9,218.0 136.2,240.0 157.0,212.0 82.3,231.2 129.5,170.6 143.3,212.9 101.5,167.7 154.4,228.9 121.1,231.0 75.8,234.5 87.9,224.3 87.6,276.5 62.7,243.4 163.8,249.0 147.7,258.3 109.2,171.1 121.0,229.0 95.1,213.3 128.5,175.1 124.8,185.3 159.6,263.2 127.6,245.1 161.2,232.6 132.0,264.9 128.4,183.6 50.0,246.4 156.2,265.1 97.4,270.8 144.9,177.0 120.7,196.6 77.3,219.0 120.8,258.6 68.1,269.6 80.1,265.4 111.3,259.9 110.5,176.2 106.4,207.8 172.0,196.6 79.1,189.3 127.4,268.0 175.9,222.2 89.9,237.6 127.1,256.7 49.1,244.0 125.3,208.3 148.3,183.9 120.6,240.5 92.1,179.6 54.1,211.9 71.2,189.9 135.4,184.3 91.9,169.1 64.5,257.2 108.1,190.6 56.8,208.4 87.7,263.3 114.4,191.6 135.6,175.3 184.5,228.3 99.3,241.0 160.5,229.3 152.7,213.0 58.5,260.8 62.6,214.9 107.9,228.2 105.9,248.1 137.6,246.1 96.7,202.9 152.3,213.3 111.0,214.5 81.0,274.2 141.0,231.8 51.4,213.8 61.6,228.8 60.3,211.3 162.3,236.0 74.1,238.6 70.3,225.1 106.9,236.1 68.6,215.9 131.8,194.2 52.0,197.9 128.6,190.6 54.1,243.8 139.2,191.6 86.5,219.6 117.6,231.1 108.6,167.2 38.8,230.5 121.6,180.5 89.2,198.7 52.5,199.9 141.8,184.2 110.7,199.0 138.5,226.8 42.9,214.5 99.2,206.4 61.7,254.3 173.5,218.5 144.8,213.9 50.2,196.4 158.1,263.5 135.6,180.1 101.0,205.0 121.9,191.7 43.4,234.6 113.9,278.9 179.0,238.9 138.5,230.5 88.1,179.8 39.0,207.7 96.6,267.0 99.9,203.1 149.4,237.9 95.2,210.8 113.9,269.6 121.1,243.6 89.4,266.5 36.9,218.0 164.6,247.4 64.5,242.2 34.7,222.6 58.8,224.6 106.4,260.2 111.3,207.6 103.1,228.0 51.3,226.8 93.0,247.6 108.0,250.9 143.2,202.5 58.3,197.6 71.4,229.2 87.9,244.4 151.3,205.9 37.4,214.5 75.7,211.1 79.9,235.7 133.4,206.1 174.6,234.4 79.8,219.6 184.7,214.3 107.0,271.1 61.5,238.0 103.6,232.4 121.3,175.5 138.5,235.6 115.5,263.5 57.0,218.9 142.8,247.3 133.3,275.6 116.9,234.7 152.6,185.4 159.9,250.5 100.7,177.8 42.0,221.0 79.6,252.1 96.4,201.9 168.2,206.5 70.4,209.1 132.2,249.7 69.6,267.6 133.8,260.9 147.8,206.3 161.2,199.1 83.0,205.6 139.2,225.9 95.9,236.1 98.9,220.9 70.6,258.8 119.9,241.2 129.7,185.9 99.5,182.2 86.2,243.1 54.0,203.6 134.7,263.6 116.8,252.1 124.0,193.1 157.4,230.3 53.6,245.1 88.1,220.4 104.4,209.3 125.7,177.9 128.4,216.0 149.7,240.5 100.5,167.2 41.6,218.0 90.8,230.9 65.9,207.4 144.2,232.4 64.9,194.4 53.5,249.2 151.5,222.5 93.3,243.4 39.8,208.9 139.7,198.3 92.5,182.6 90.1,200.6 77.7,201.1 167.6,241.1 118.2,175.5 157.8,256.6 107.8,203.1 179.2,235.6 142.6,192.6 88.8,191.5 57.2,249.4 110.7,169.4 71.2,248.6 64.0,236.5 90.6,249.5 109.8,186.4 125.5,168.8 123.9,216.8 172.6,214.6 145.1,179.7 103.3,173.9 146.4,245.5 162.6,194.7 99.2,252.6 120.1,222.1 140.5,178.1 76.5,226.3 62.6,220.2 50.4,236.6 112.9,232.0 96.1,183.5 49.6,201.6 124.5,254.6 97.3,258.4 92.4,192.9 183.7,222.1 106.7,168.0 98.0,256.5 127.6,224.1 67.8,256.4 170.5,196.9 130.0,180.2 112.0,263.2 139.4,249.3 89.6,175.3 118.5,172.2 135.7,213.5 139.3,272.3 127.7,229.6 171.7,231.9 107.4,197.4 111.8,170.1 153.3,240.9 90.7,237.9 116.4,280.1 141.3,190.5 116.9,239.3 76.2,206.5 118.4,208.9 127.5,243.1 87.0,249.4 151.1,210.0 159.6,220.4 40.3,234.2 87.5,194.5 77.6,230.3 78.3,203.7 92.2,240.9 36.3,228.8 132.8,223.8 125.5,171.1 123.8,172.3 54.5,187.1 45.2,241.9 116.2,243.7 179.0,207.5 88.3,195.6 134.8,180.5 167.9,196.5 98.2,216.7 59.7,186.6 42.4,205.0 147.6,250.8 108.1,217.7 59.3,253.2 158.6,258.1 123.5,262.0 96.2,188.9 185.1,229.1 48.5,252.3 93.8,177.1 153.1,234.0 71.3,253.3 83.4,225.4 116.2,269.8 130.9,168.4 139.9,236.0 157.5,241.4 57.4,221.5 167.3,225.8 164.7,195.2 159.7,244.4 130.3,196.8 157.0,240.4 43.9,227.9 90.8,217.0 164.3,235.0 102.1,273.8 154.0,236.7 95.5,173.2 100.0,216.2 150.3,184.0 173.7,216.6 118.3,268.6 55.1,254.7 175.8,226.9 69.3,199.6 165.0,198.3 71.9,265.2 132.3,276.6 99.5,233.5 154.5,187.4 46.0,226.1 147.1,236.3 79.3,217.7 89.9,251.7 149.6,269.4 156.2,189.3 53.7,251.2 129.1,266.1 92.4,208.2 117.8,241.8 96.9,178.0 105.2,179.7 43.4,202.9 73.6,268.3 65.0,264.0 40.6,231.3 132.7,228.1 38.7,215.5 98.2,258.4 150.5,244.5 45.1,214.8 87.7,184.5 101.0,260.3 53.8,202.8 76.3,269.6 67.1,240.6 140.4,239.2 69.5,259.5 97.2,207.3 118.9,254.5 68.5,221.1 56.3,186.2 161.0,190.9 104.2,276.1 127.4,236.6 103.7,186.5 140.2,269.8 78.0,271.7 68.7,234.3 178.6,228.8 135.7,261.7 124.9,235.5 127.0,218.3 122.5,200.4 128.5,259.6 88.9,263.5 121.5,182.0 121.4,232.4 105.1,181.1 71.3,268.7 130.8,230.4 53.4,239.2 145.3,233.4 167.7,198.1 55.0,211.7 112.1,182.7 106.0,194.6 139.6,247.5 111.2,192.3 46.1,210.9 124.5,247.3 61.8,198.9 74.6,230.8 150.9,217.4 77.3,180.0 102.3,247.2 62.1,221.3 131.7,268.1 67.9,268.6 134.3,179.7 175.9,207.9 68.3,245.0 97.4,237.3 85.0,263.6 69.6,229.0 49.1,220.9 54.2,209.0 144.7,182.7 113.7,204.3 132.7,215.8 133.8,258.6 112.0,266.1 153.1,261.9 177.4,203.2 158.8,227.5 34.9,221.8 106.5,276.3 90.1,250.0 168.3,235.7 99.8,245.9 96.7,191.5 108.0,273.5 74.6,176.2 103.4,185.6 161.5,225.9 84.9,232.3 96.8,255.0 130.7,248.7 114.1,229.9 43.7,219.5 112.9,249.2 171.8,213.3 102.0,266.3 125.4,176.4 78.4,263.1 161.8,222.0 44.4,230.9 134.5,251.7 67.8,190.2 69.0,196.0 69.9,236.6 154.9,239.0 69.6,185.4 84.6,245.5 141.0,180.5 87.6,235.0 80.6,240.5 44.4,216.1 163.5,230.8 119.2,177.0 64.7,259.6 118.0,255.4 79.1,250.4 75.4,210.9 131.5,234.4 77.5,185.6 75.5,228.7 143.3,197.6 114.5,199.1 167.3,245.4 121.7,220.3 44.5,210.8 134.9,236.0 120.3,169.8 125.8,259.0 132.0,172.7 143.6,256.4 48.7,227.2 169.6,190.6 100.8,206.4 163.5,224.0 150.5,232.0 105.8,186.1 165.1,192.0 90.8,176.0 81.9,188.6 120.0,268.8 140.8,201.1 86.3,270.1 135.9,267.0 96.3,214.9 60.2,216.0 52.0,193.5 134.2,215.3 160.9,240.7 51.2,248.7 70.4,270.6 160.4,250.3 128.1,190.1 163.0,203.6 163.7,190.2 89.9,185.9 41.6,228.5 72.0,182.5 91.2,225.7 63.0,266.8 71.5,204.5 135.1,181.9 167.4,242.4 88.5,178.3 66.2,178.1 141.3,178.9 154.6,258.3 111.8,206.3 161.6,211.9 62.7,202.8 96.8,182.5 153.4,259.7 143.3,223.7 117.1,224.4 77.8,241.5 141.3,252.5 93.9,171.5 167.7,257.5 121.6,260.8 121.8,205.8 85.1,177.7 175.3,232.9 79.3,272.3 177.5,227.2 82.2,229.0 146.9,229.1 136.7,171.9 65.1,204.8 136.9,262.3 55.4,206.3 137.6,264.4 141.7,220.0 127.0,216.6 48.7,208.7 62.7,260.1 170.4,240.4 155.3,212.6 104.9,202.2 109.8,194.9 110.1,259.8 148.2,256.8 94.7,237.2 83.1,174.8 140.3,185.7 57.0,210.2 56.1,236.2 63.0,218.0 115.3,201.5 132.3,248.5 158.5,181.7 102.4,192.4 101.2,279.5 178.3,248.1 156.4,232.9 122.8,239.6 121.3,263.4 101.6,175.4 168.4,249.4 114.2,198.2 127.5,188.9 144.8,176.0 53.0,255.6 137.8,224.6 117.3,177.5 86.2,179.1 61.4,210.6 147.8,181.9 118.3,262.2 101.2,254.5 46.6,206.5 55.4,210.4 71.5,188.0 45.4,227.8 140.0,174.7 171.5,207.4 138.8,180.2 102.3,172.9 66.9,228.4 170.7,190.9 76.1,247.3 59.6,196.5 94.8,272.5 90.5,209.1 103.5,244.5 60.8,212.1 111.6,265.4 129.9,193.5 114.4,270.2 180.1,205.7 54.5,218.0 77.7,183.0 113.4,178.5 176.1,231.6 88.1,169.8 104.8,241.5 170.0,198.2 100.4,186.7 56.9,216.5 56.1,204.6 140.7,197.4 111.4,213.0 70.4,246.1 151.6,257.2 104.8,169.0 100.9,268.0 89.7,199.1 155.2,216.4 68.1,216.8 93.2,200.7 44.5,216.4 127.5,216.1 140.7,260.1 128.5,172.9 184.6,212.4 90.2,222.9 120.0,232.0 133.1,232.2 115.4,223.9 185.2,233.2 175.9,228.3 78.5,216.9 121.3,213.3 53.6,221.2 153.5,244.0 69.4,177.3 165.5,228.5 99.7,176.6 130.9,276.6 55.8,251.2 150.4,238.1 169.9,193.3 92.8,213.1 57.2,220.3 79.9,202.7 109.0,249.8 160.1,183.6 105.4,269.7 117.6,234.2 115.6,170.6 49.6,249.5 93.0,190.4 109.3,210.5 183.5,232.0 50.9,215.0 86.4,250.5 59.1,244.8 109.8,175.1 124.3,249.0 45.9,236.3 173.3,201.5 165.4,222.4 85.2,182.2 154.8,262.5 78.9,220.4 143.9,179.7 140.3,190.3 135.8,265.0 117.0,220.2 83.3,192.3 153.0,229.9 120.1,208.4 109.7,262.4 59.4,228.6 83.8,245.5 103.2,173.3 134.6,246.5 77.1,208.9 95.0,199.5 84.2,220.8 45.3,244.1 120.4,210.3 146.7,271.4 128.9,236.7 120.6,228.8 153.2,255.2 153.0,217.8 151.9,231.3 143.5,189.8 83.9,252.4 82.7,178.8 133.4,215.0 110.9,199.3 130.0,205.2 94.9,206.5 108.8,186.6 124.8,263.1 163.0,185.9 130.5,273.1 122.2,279.2 99.9,209.5 170.2,205.4 46.7,251.4 101.6,212.6 109.7,278.2 94.8,182.6 45.0,246.3 79.4,233.9 89.1,267.0 83.8,274.6 90.7,233.0 90.8,197.1 84.2,258.6 128.8,242.4 106.7,181.2 126.7,262.8 100.2,225.2 95.8,192.6 143.3,271.5 110.2,197.8 98.2,188.0 80.1,198.0 94.4,228.8 89.3,258.6 169.5,208.6 168.1,217.8 43.0,207.6 182.3,234.0 71.3,190.6 148.7,215.8 49.0,208.7 84.5,211.8 98.9,178.6 48.5,245.3 41.7,221.0 138.1,176.0 155.9,228.1 136.4,276.0 158.3,227.0 96.3,265.7 146.9,188.8 184.5,215.3 60.3,222.1 139.8,262.4 111.2,250.1 53.5,216.3 94.1,187.0 146.1,193.4 129.8,274.7 149.7,218.8 46.7,244.5 119.9,190.0 132.7,183.7 115.0,244.3 139.8,202.4 64.5,255.7 114.8,253.6 142.3,193.7 166.1,219.1 127.3,178.0 124.4,198.0 149.9,257.1 152.4,253.5 121.5,196.1 120.1,197.0 179.5,234.3 66.9,191.3 151.8,258.1 68.2,249.2 165.1,202.6 76.5,193.3 98.4,185.8 106.5,218.3 90.2,256.5 177.4,225.4 100.2,213.0 162.2,206.9 75.5,241.4 178.7,247.0 125.0,267.9 139.7,232.1 116.4,199.2 50.9,197.5 117.4,171.5 158.2,236.5 56.1,234.2 105.0,244.7 101.6,276.6 148.4,196.6 73.3,222.4 173.7,232.1 150.6,189.6 119.3,198.7 91.6,259.0 164.4,246.4 133.7,219.6 74.0,230.8 134.3,277.2 163.0,220.9 145.9,191.9 99.9,279.3 149.2,198.2 112.6,231.0 179.1,212.5 115.7,225.6 91.0,245.8 169.5,240.4 74.0,220.2 105.9,227.2 117.2,214.2 82.3,244.9 40.6,217.6 100.4,231.7 48.2,211.2 94.0,168.0 152.8,221.7 69.3,269.4 85.6,211.6 109.8,250.4 107.1,167.2 144.8,244.8 122.3,242.1 83.0,173.4 123.9,271.8 156.6,265.6 82.5,239.4 122.0,275.8 100.4,169.2 98.4,231.7 59.6,226.4 152.7,187.3 179.8,215.3 92.6,209.5 144.8,271.8 156.5,244.8 76.9,225.5 151.7,238.4 99.2,212.0 113.7,257.4 155.8,257.0 136.3,189.3 80.3,261.6 91.8,217.2 56.9,206.1 77.8,236.9 82.9,243.5 136.4,270.1 135.3,188.3 66.8,229.6 160.2,192.0 153.1,224.8 154.4,198.9 120.3,219.7 164.3,261.1 54.1,206.7 180.8,205.0 92.0,277.4 38.8,232.3 122.1,278.2 97.0,253.4 92.4,204.4 160.2,210.0 70.3,211.9 100.1,231.9 51.5,199.0 150.7,256.1 47.2,241.0 180.1,220.7 136.8,216.2 117.2,186.3 135.6,175.0 103.2,247.4 120.4,242.4 82.8,260.9 100.6,171.3 90.2,216.4 157.4,245.5 72.5,215.0 110.6,166.8 112.4,246.8 97.9,236.1 157.9,197.0 170.8,243.2 146.4,248.2 54.3,245.7 95.6,187.8 183.4,229.5 143.6,254.5 141.2,208.2 130.0,201.6 79.4,249.5 39.8,206.5 113.3,240.4 136.0,256.8 50.1,240.0 61.9,244.8 38.1,221.4 158.0,201.8 126.3,217.3 96.1,217.4 111.0,185.5 186.6,223.0 121.5,253.1 165.8,222.9 87.1,273.1 54.1,216.6 54.9,223.3 81.1,181.3 130.5,268.5 46.4,247.9 125.4,275.9 61.0,237.1 118.7,216.5 141.6,225.1 57.0,260.7 67.9,179.7 51.0,204.9 75.3,195.6 44.5,208.1 116.6,276.8 131.1,256.2 93.8,208.4 108.8,279.6 81.7,210.7 167.2,241.6 84.6,271.8 156.2,253.2 160.6,213.4 55.2,238.0 126.5,209.8 132.9,170.5 167.5,190.3 173.4,215.0 167.9,240.2 52.7,220.4 148.3,211.6 146.0,259.7 84.9,176.4 154.8,182.2 139.9,208.8 155.0,219.5 45.2,206.9 150.4,261.3 134.8,218.0 94.1,196.9 150.0,203.3 136.6,229.7 95.1,230.4 68.1,207.2 104.1,239.9 153.7,230.4 139.6,253.8 117.8,252.5 96.7,189.4 157.2,236.2 127.9,249.1 84.0,233.3 106.9,231.2 144.2,174.1 155.3,251.7 68.5,185.9 82.6,182.1 161.3,237.8 132.5,190.1 114.7,267.0 145.4,256.5 158.2,220.3 65.6,213.2 106.6,182.9 136.9,182.0 123.5,279.6 138.8,265.5 141.8,251.4 164.0,240.1 51.5,223.6 180.1,240.1 155.3,240.2 77.7,247.3 84.7,261.3 140.8,210.5 150.9,225.5 120.9,185.1 172.0,197.9 133.2,254.4 102.5,244.1 160.8,243.1 115.0,279.3 70.6,236.4 138.5,211.0 177.5,205.8 109.8,178.4 103.9,182.1 72.4,201.5 50.7,190.9 97.7,198.0 108.4,198.0 144.8,179.2 169.0,226.8 112.5,215.6 101.0,251.0 100.4,266.8 41.6,214.4 126.8,206.0 119.1,226.2 106.6,172.4 112.1,172.1 93.5,227.6 63.0,206.0 148.3,239.5 112.9,166.3 116.3,183.9 151.4,267.1 109.6,165.5 75.6,201.0 147.1,240.3 121.4,217.7 136.0,274.4 134.5,245.5 92.7,194.4 98.0,238.4 105.3,271.5 86.2,202.9 133.1,204.4 66.1,244.1 94.2,250.3 130.0,252.2 85.9,266.8 78.4,176.8 91.5,222.1 105.8,250.9 85.5,186.5 72.4,213.4 64.9,235.1 52.7,192.0 111.2,202.2 86.1,183.7 120.6,265.9 101.2,239.5 99.8,200.7 74.6,224.1 123.0,237.9 127.0,269.7 130.8,256.0 52.1,218.0 115.0,196.1 60.6,254.7 66.9,263.9 88.5,203.7 50.4,199.3 157.4,222.6 52.7,222.7 100.9,278.7 119.5,210.7 84.9,248.1 101.6,228.4 40.7,236.8 95.3,253.9 100.3,272.4 168.5,201.9 75.3,194.0 71.2,237.5 83.2,190.9 84.2,182.8 116.8,248.7 112.1,171.7 78.8,212.6 149.4,192.4 105.7,205.5 157.1,239.4 184.9,230.9 74.6,257.2 49.2,226.5 72.7,197.0 92.1,211.2 139.3,264.4 137.7,274.4 70.2,223.5 96.4,222.8 165.4,254.4 124.8,277.8 90.0,263.6 125.5,220.7 124.6,257.7 99.7,238.4 61.4,195.3 146.5,198.8 130.3,199.1 168.6,215.0 139.0,232.5 109.6,202.8 130.4,206.8 121.2,260.8 124.2,177.7 179.7,224.1 104.4,237.0 42.4,226.1 100.7,192.6 110.0,261.1 88.6,250.7 125.9,201.4 158.7,215.2 36.8,224.5 80.0,263.4 53.8,255.5 166.2,197.2 66.9,262.2 94.4,265.7 146.4,264.9 120.2,225.6 126.2,179.7 154.4,198.0 167.0,212.2 105.2,237.0 71.7,185.8 123.9,259.6 74.9,261.0 95.6,166.9 108.3,185.3 72.8,228.9 66.0,239.3 115.8,226.4 78.3,185.9 169.8,203.9 122.9,175.2 64.7,207.7 72.6,217.5 44.4,248.5 72.8,205.7 181.9,220.2 110.1,183.0 80.1,207.7 103.4,255.3 73.4,267.0 177.3,218.5 89.9,210.7 108.7,193.3 82.7,215.3 103.5,183.7 160.7,250.0 52.6,252.3 125.2,166.7 73.9,245.6 69.1,266.7 107.6,199.6 58.4,223.2 132.5,268.8 133.5,209.1 49.1,214.4 107.4,256.5 169.9,238.6 53.2,236.7 61.9,256.1 102.1,193.5 55.7,213.3 175.9,237.2 120.9,270.0 168.3,204.4 119.8,178.6 47.7,249.0 142.3,209.3 69.0,203.2 111.9,279.0 82.0,251.7 121.0,250.2 147.8,179.8 128.0,253.3 106.8,275.4 118.5,204.3 66.7,245.7 136.8,248.3 55.1,207.2 101.5,189.6 180.6,223.9 150.3,222.5 79.6,223.0 93.1,255.5 84.5,210.4 183.0,237.4 116.1,211.1 167.1,250.3 180.3,242.0 84.1,237.8 98.5,251.5 147.4,261.2 102.7,233.9 110.0,218.0 57.0,204.2 87.2,267.9 82.9,238.1 81.1,187.3 84.8,198.6 108.0,208.6 88.6,254.8 161.3,225.4 125.2,208.8 162.6,200.1 37.6,210.5 104.5,223.0 82.7,186.5 96.5,178.6 80.8,231.3 108.3,229.3 112.8,235.0 117.0,263.3 170.3,242.1 111.3,178.3 110.9,234.5 124.8,264.7 85.3,190.5 152.0,188.2 116.4,166.5 156.6,261.0 178.7,233.4 49.1,200.8 44.9,234.0 86.3,273.1 102.5,201.7 158.3,213.3 62.0,256.2 143.2,204.0 132.0,273.2 121.7,247.0 109.3,272.2 164.4,226.3 120.0,276.1 98.1,208.8 114.8,243.1 137.6,267.5 149.1,180.4 43.2,225.2 44.9,239.6 105.0,221.0 86.0,184.5 128.7,268.2 153.9,253.4 136.8,256.0 131.7,177.4 90.1,195.0 61.2,245.2 80.3,182.8 57.2,183.6 118.2,228.9 84.8,200.5 84.0,273.1 127.1,262.0 41.5,243.6 72.5,243.1 59.5,200.2 181.1,215.0 149.8,222.2 66.0,263.3 110.7,254.3 96.9,278.6 78.4,172.3 94.3,239.8 133.1,241.3 120.1,215.1 155.7,220.5 175.6,199.7 45.5,225.6 138.8,172.0 126.8,257.9 78.4,185.9 127.8,212.5 38.5,224.3 108.7,276.0 177.4,237.0 171.1,254.1 149.9,260.6 101.1,199.2 61.0,260.6 111.8,254.1 137.1,276.2 86.1,217.1 91.0,192.8 109.1,276.9 103.1,176.7 124.7,212.0 173.9,239.1 103.4,189.2 99.8,218.0 107.9,200.2 110.2,201.5 148.4,191.0 140.4,249.3 96.3,251.2 146.7,260.1 88.6,261.5 42.1,225.0 92.8,273.2 137.6,259.7 116.8,208.6 129.1,261.1 127.2,266.8 102.3,178.3 39.7,222.7 149.9,247.1 78.2,175.3 135.9,254.5 160.8,187.2 148.5,235.7 56.4,242.8 76.2,203.4 131.0,203.3 105.7,240.4 123.0,256.3 111.4,167.5 166.3,231.4 94.5,262.8 119.5,265.0 127.3,169.3 132.7,174.9 131.8,224.6 71.6,260.1 153.1,269.5 137.9,263.2 163.1,185.2 131.9,226.9 62.8,199.6 86.6,232.6 74.1,193.3 80.6,215.3 114.8,268.7 160.0,226.9 158.1,223.8 129.6,177.6 136.2,215.2 115.0,240.7 147.5,231.3 167.0,257.7 83.4,268.2 69.7,217.3 146.0,184.6 106.1,245.5 83.4,201.5 175.2,247.6 115.8,231.5 89.1,203.4 106.2,243.9 90.8,181.9 122.0,237.9 142.8,195.4 51.8,191.1 109.6,189.7 153.3,189.7 134.5,267.5 85.4,251.6 74.9,258.1 89.9,218.7 96.4,176.3 179.3,208.8 89.8,205.8 145.0,190.3 76.7,182.2 109.4,225.2 138.9,206.7 111.9,257.8 108.1,210.6 162.1,212.5 83.5,244.0 34.8,218.3 115.4,179.9 46.9,195.1 158.5,206.6 44.3,240.7 134.2,247.5 40.9,233.1 91.8,235.8 114.9,265.4 171.3,255.2 176.6,211.7 144.3,258.7 176.1,225.2 139.1,250.3 67.5,176.4 58.7,236.4 141.0,258.7 118.6,174.2 46.4,239.1 120.0,249.9 77.3,260.7 100.4,263.7 88.1,273.2 67.0,201.1 70.3,245.5 129.5,257.1 108.7,169.8 163.6,258.0 167.0,259.1 77.2,178.3 112.8,210.7 134.0,192.7 112.7,218.7 70.0,252.4 64.2,211.6 60.5,189.8 123.2,264.8 95.0,227.3 52.8,188.5 145.7,270.2 89.9,213.4 171.3,248.2 129.0,198.0 104.8,202.7 176.7,217.8 74.6,225.8 125.2,184.0 48.4,192.3 106.8,175.8 66.4,214.2 144.6,266.5 105.2,258.8 135.0,216.8 106.4,170.2 99.9,185.0 107.5,244.3 65.1,242.8 113.7,208.2 127.3,250.1 129.1,219.2 151.3,179.9 145.2,246.0 97.9,244.8 72.3,244.0 162.1,219.1 178.0,244.1 144.8,219.3 146.8,269.8 111.0,200.7 124.1,279.3 131.6,250.4 118.4,200.5 98.7,262.2 155.2,234.0 104.1,217.7 111.8,241.7 140.5,241.8 48.7,205.8 155.7,184.6 94.4,233.5 61.0,208.3 133.1,273.2 46.6,197.1 92.3,268.5 52.9,230.2 123.8,275.2 102.1,207.8 48.8,231.9 121.5,217.6 53.1,214.5 139.0,274.1 130.1,234.1 124.3,231.3 124.9,261.3 154.7,206.6 94.0,254.0 91.3,234.0 79.3,210.0 43.6,237.1 148.5,253.4 100.5,264.4 118.0,232.5 112.1,173.8 62.6,236.5 143.4,249.9 102.1,184.5 122.9,227.2 79.7,253.4 160.9,263.9 75.4,267.8 90.2,171.6 59.1,221.2 72.8,182.2 84.0,262.5 62.1,181.3 161.4,252.2 94.5,195.9 53.2,223.6 96.3,172.1 144.3,210.9 117.7,271.5 101.4,174.3 133.9,227.4 156.7,234.7 64.9,242.0 137.5,216.9 148.9,215.7 132.4,202.2 74.4,250.6 117.4,245.1 164.8,244.1 97.0,180.7 73.2,175.1 82.4,264.1 160.7,195.0 101.7,227.3 90.6,274.4 135.5,220.0 101.5,206.5 128.3,252.4 64.2,210.1 161.8,209.1 94.6,220.7 78.6,259.0 66.6,199.4 113.7,192.6 116.6,245.8 101.6,268.3 129.9,219.5 112.6,184.1 163.8,194.5 74.0,216.0 42.5,245.3 117.7,223.9 161.9,204.3 141.3,185.9 153.7,246.8 46.3,210.4 74.1,259.4 111.5,222.1 137.8,190.7 154.6,237.3 120.9,171.0 119.2,209.2 120.0,272.2 175.8,224.2 148.9,255.5 163.8,228.4 48.4,247.8 93.8,187.6 143.9,243.9 65.3,231.8 150.8,226.3 66.2,222.3 130.8,192.9 66.4,254.8 69.1,248.6 152.6,200.6 139.7,257.8 55.1,232.5 67.3,237.9 133.9,173.8 181.8,230.5 116.7,194.7 110.9,220.4 100.1,275.1 143.9,205.8 63.8,201.5 121.5,248.4 69.6,239.7 105.9,197.1 96.4,187.2 137.4,208.8 138.7,202.2 42.0,221.3 87.0,185.9 77.1,196.6 154.1,247.1 39.9,240.3 46.7,246.5 142.6,242.8 128.9,277.5 129.6,235.9 117.9,247.0 109.0,261.5 62.5,218.9 138.6,215.6 141.6,233.1 67.8,240.3 44.8,196.7 85.5,195.1 123.3,233.3 76.5,249.2 95.9,238.4 74.6,205.7 117.3,188.7 75.6,264.7 114.8,238.1 153.7,258.1 180.1,226.9 98.7,202.0 164.8,257.7 162.6,192.1 65.6,226.9 102.7,198.9 56.2,211.9 55.4,190.6 111.6,227.4 128.1,220.8 98.5,262.9 156.9,196.0 100.4,254.9 38.5,238.5 86.4,227.0 128.5,240.8 108.1,201.9 139.4,223.1 130.0,215.5 61.0,216.4 147.5,224.1 70.3,227.2 111.1,277.1 83.5,170.6 58.1,192.7 105.5,262.1 142.5,226.6 92.7,180.3 89.6,272.4 47.2,216.1 87.0,237.2 54.6,202.4 136.7,227.2 76.6,232.4 42.2,209.4 37.4,219.9 160.6,197.0 148.8,247.4 67.1,256.4 59.9,243.8 100.0,231.5 93.0,260.1 106.9,246.0 135.9,231.2 41.1,241.6 129.3,174.7 136.2,184.0 117.6,264.3 112.4,223.2 136.5,230.8 50.1,204.8 50.2,200.3 126.8,201.2 151.9,213.3 39.1,237.3 142.5,234.0 132.3,258.6 166.3,220.8 98.5,197.4 135.3,209.8 132.6,186.8 93.1,201.8 173.4,199.0 112.7,191.9 100.4,172.7 174.4,198.0 78.9,224.9 125.5,222.4 78.7,227.7 80.4,243.1 51.5,189.2 121.3,178.2 106.9,242.2 109.5,191.7 57.3,231.9 122.1,174.1 182.1,228.4 50.0,210.6 79.7,186.9 43.2,209.8 157.6,216.6 102.8,209.6 49.0,217.1 150.8,251.8 111.7,270.4 60.5,232.3 149.3,193.9 133.9,225.3 79.3,236.9 177.3,216.0 125.5,216.0 127.0,239.4 74.9,179.5 99.2,265.3 133.4,195.9 145.9,209.5 143.5,219.7 137.2,233.1 84.4,239.9 142.5,239.3 105.3,260.6 132.5,184.7 142.2,185.3 175.2,239.1 52.2,246.2 168.6,222.8 83.3,241.7 84.1,183.3 149.8,230.3 107.9,264.0 146.4,243.9 160.3,261.3 134.5,202.2 59.7,193.5 76.7,188.5 92.2,198.6 150.1,242.8 176.2,219.5 69.9,176.7 64.5,245.5 108.4,239.4 163.7,238.2 94.6,198.4 177.2,215.0 154.4,251.8 118.9,212.4 130.9,241.3 58.4,207.6 152.8,179.8 142.5,206.2 118.3,267.2 131.6,254.5 59.3,255.5 92.2,263.6 85.8,250.2 131.6,218.6 113.7,197.2 115.9,184.4 83.7,198.5 169.4,247.2 154.9,190.9 183.4,218.9 78.8,199.2 48.1,239.4 98.7,173.3 113.4,276.0 146.2,181.8 125.5,225.1 94.9,242.9 119.3,230.4 97.2,187.3 106.0,250.2 107.0,233.5 138.4,270.9 97.0,204.3 158.5,255.9 89.1,189.7 132.3,266.9 156.2,185.7 146.6,197.3 57.0,201.6 110.4,215.6 74.0,227.3 50.6,190.1 173.6,251.7 98.3,223.4 59.4,185.2 123.5,198.4 172.3,208.9 87.1,247.2 72.4,183.2 109.1,228.8 129.3,244.7 79.6,265.4 76.3,220.0 43.5,232.2 149.7,220.6 107.3,223.4 104.7,181.6 159.5,196.3 140.7,173.6 63.3,238.1 140.7,180.2 109.8,168.9 57.4,239.1 119.2,191.4 146.8,207.1 84.9,187.8 86.1,190.0 173.6,210.3 62.0,252.6 139.5,208.8 64.4,182.9 98.5,271.9 113.7,220.3 154.5,209.6 89.0,185.8 93.7,246.2 38.3,226.3 86.5,255.0 108.8,213.2 41.6,215.4 111.2,182.0 59.9,212.7 96.1,166.9 94.0,235.4 109.1,245.9 62.0,251.5 98.9,257.6 82.0,184.9 114.6,260.5 126.0,254.1 65.5,240.4 38.0,219.1 174.6,227.5 157.7,253.1 121.3,179.9 35.9,227.2 170.7,237.9 97.3,184.2 131.5,214.1 46.0,223.4 35.9,231.6 108.6,195.7 95.9,184.8 86.5,225.6 123.5,170.9 120.6,193.1 120.4,274.5 138.4,179.2 123.2,267.7 107.2,255.8 95.0,179.7 136.3,196.3 164.1,187.6 118.4,266.0 87.0,190.5 76.1,252.5 39.3,229.3 160.6,217.3 57.1,253.0 141.9,218.3 133.1,173.6 158.9,253.6 160.2,236.7 126.3,195.8 113.9,246.8 121.7,190.4 94.6,255.9 163.2,208.9 48.0,242.1 106.6,180.1 106.0,254.4 183.4,211.9 140.2,246.8 148.4,246.0 111.1,178.5 141.4,214.9 118.5,191.9 52.4,224.2 95.6,258.9 123.0,213.8 72.6,246.0 125.0,259.8 164.5,225.1 146.4,265.5 146.4,227.8 101.8,216.5 108.1,236.6 92.7,274.3 150.5,185.0 71.6,222.6 145.1,199.0 92.5,174.2 119.5,220.7 85.5,175.1 135.5,228.0 157.6,217.8 157.0,187.7 73.5,232.9 170.4,225.6 156.1,211.8 123.2,243.5 109.9,214.9 149.4,202.3 106.3,198.7 69.7,203.4 79.3,201.0 69.9,255.6 114.5,178.6 126.6,233.3 150.7,245.9 156.3,224.2 125.1,190.2 132.9,243.7 113.2,262.6 132.2,260.9 116.4,201.4 152.2,242.6 114.3,227.3 77.9,264.4 48.8,195.3 163.3,226.0 82.3,203.6 98.6,224.2 163.2,234.3 88.5,216.2 106.4,185.7 163.4,211.1 53.7,228.5 65.2,211.0 81.8,195.8 74.3,213.2 91.6,222.7 75.5,260.9 165.0,260.7 150.7,202.2 54.4,224.7 112.3,267.4 66.2,225.7 108.9,270.9 139.6,255.8 117.5,189.6 130.8,259.9 109.0,236.5 150.6,193.3 107.3,249.8 169.8,245.1 51.0,203.3 156.2,202.4 74.0,209.0 123.5,202.7 97.2,206.1 107.5,215.6 102.4,264.4 120.1,271.6 92.5,229.3 115.0,182.5 151.1,240.6 59.1,239.4 143.9,238.4 77.1,240.6 107.9,181.2 86.7,227.5 177.5,234.9 166.2,243.7 95.6,170.7 133.4,175.1 148.5,265.0 153.2,182.6 119.6,247.5 136.1,243.6 123.5,198.0 116.2,178.6 85.8,212.8 69.8,216.3 62.0,225.0 55.0,237.0 161.8,193.1 137.2,206.0 166.0,237.3 101.6,255.7 115.6,172.8 150.4,205.6 116.8,203.6 104.9,257.3 103.2,219.5 155.6,207.3 112.7,266.8 86.9,200.5 162.6,227.7 88.3,264.7 144.1,264.0 92.4,270.2 126.2,203.6 152.3,249.6 82.1,225.9 88.3,217.9 79.7,197.9 78.6,174.0 41.9,237.5 167.7,199.7 171.8,210.4 165.4,246.6 146.6,230.5 160.0,235.0 62.2,214.3 141.5,259.9 176.4,247.4 152.1,261.1 150.3,263.4 127.6,228.5 143.3,188.5 121.6,236.9 120.3,219.4 157.9,187.8 45.0,200.1 101.6,251.7 132.4,216.6 155.8,199.7 105.5,200.7 180.0,208.5 114.6,228.2 62.3,263.1 112.5,236.5 96.7,246.6 116.6,240.8 132.1,192.0 145.8,222.2 117.8,243.7 126.9,238.0 141.8,230.2 116.4,210.1 66.0,197.6 69.0,214.1 48.2,202.6 126.2,199.1 164.9,207.9 166.4,229.1 128.1,221.6 55.4,192.7 86.0,170.2 164.0,252.9 147.2,184.6 155.7,246.5 126.8,185.0 157.8,209.9 77.7,189.7 115.6,247.4 184.7,235.7 106.3,206.5 166.4,234.9 137.6,196.9 96.1,170.1 163.0,206.7 181.0,209.1 110.7,238.3 130.3,229.8 150.9,197.4 143.5,236.2 78.6,240.8 157.3,210.1 117.0,251.7 90.2,254.6 124.6,244.8 130.9,178.1 177.2,243.5 165.8,251.9 123.7,178.8 114.2,216.5 70.9,193.7 129.2,170.1 161.4,255.7 83.4,254.0 83.4,214.5 159.5,256.0 133.0,203.7 71.5,176.6 67.7,182.8 112.5,276.2 172.9,236.9 167.1,190.8 78.7,266.5 123.0,187.3 174.6,230.7 72.0,200.5 85.1,185.2 159.0,241.5 128.5,199.7 166.1,203.6 127.5,275.1 138.8,197.5 79.4,274.1 91.7,226.5 36.7,190.9 41.5,192.9 45.4,189.0 48.3,187.0 52.2,182.2 58.0,178.3 39.5,196.5 62.5,174.6"/></g><path id="crack" d="M167.6 187.6Q171.8 193.4 174.2 200.6" fill="none" stroke="#fff" stroke-width="1.1" stroke-linecap="round"/>
<g class="bp"><polyline id="bla" points="176.2,206.3 60.7,215.9 79.7,260.4 116.6,229.0 114.5,257.1 140.2,250.8 121.6,215.5 80.0,255.7 138.6,241.2 57.4,231.5 77.0,214.2 103.0,231.0 86.3,232.0 71.9,258.1 111.7,231.5 82.7,213.4 122.9,189.7 129.3,272.4 98.0,221.5 39.4,226.5 92.5,234.3 61.5,244.8 119.0,246.0 69.1,190.1 138.1,194.1 57.0,244.2 97.8,199.3 71.7,251.3 105.5,272.1 96.5,189.3 76.7,210.6 51.8,203.0 117.4,219.0 84.9,251.1 61.6,248.6 81.4,250.0 62.4,262.0 49.2,227.2 120.5,202.2 144.6,219.9 113.4,273.4 100.7,238.8 110.5,227.9 160.7,237.5 137.9,238.6 135.6,241.1 73.1,257.0 134.1,187.4 97.6,217.2 143.1,206.7 52.3,220.8 67.7,243.3 109.5,168.7 123.8,191.6 58.6,246.6 148.4,242.2 97.8,237.7 41.0,215.6 136.2,260.3 99.4,256.6 98.5,255.4 136.4,185.2 119.1,210.5 131.1,231.1 69.0,250.5 42.7,229.5 146.1,244.1 150.6,211.1 119.3,198.9 143.9,231.7 68.0,212.4 53.1,230.2 148.7,224.0 94.0,226.7 138.4,191.8 128.3,266.4 61.6,186.2 65.6,233.1 131.1,186.4 58.2,236.3 80.4,178.5 123.4,246.0 102.1,196.6 145.7,224.2 80.1,224.4 64.0,266.0 101.6,227.4 91.7,255.1 129.3,259.9 94.0,257.8 109.6,223.7 102.6,263.7 113.6,182.8 43.1,235.0 67.2,255.9 85.4,206.9 103.8,174.1 102.4,232.5 101.8,252.6 122.4,204.8 117.4,263.4 88.2,196.9 145.0,222.7 98.3,189.1 113.7,275.5 166.7,228.5 106.7,215.8 98.7,270.9 62.1,220.1 130.7,250.2 107.8,227.3 42.6,238.3 65.8,220.3 78.1,246.2 130.4,195.0 73.4,211.8 58.5,233.3 67.0,243.6 109.4,190.6 68.0,181.4 49.1,228.3 59.8,201.6 91.9,202.5 140.5,217.1 83.9,272.9 116.4,209.5 112.9,214.7 89.7,232.2 87.8,231.9 70.2,226.8 123.0,222.0 106.4,191.7 85.1,233.8 94.2,252.5 124.6,266.6 84.4,274.8 88.8,276.2 130.2,216.4 143.8,215.7 120.9,227.9 71.0,228.5 135.6,225.4 119.9,212.2 132.6,203.6 157.4,220.0 128.2,203.4 109.6,197.2 115.9,214.7 86.8,268.4 109.6,180.7 109.3,178.9 39.0,235.0 139.7,195.9 95.1,256.8 88.9,238.7 57.3,256.0 90.3,201.1 91.1,202.1 107.6,195.2 78.5,259.9 73.9,244.8 115.9,175.9 74.1,226.9 92.1,257.0 48.2,224.1 148.0,254.2 74.1,229.9 135.1,260.1 68.4,196.6 77.5,222.8 86.5,197.9 61.2,261.7 98.5,246.4 62.9,248.2 148.1,238.8 89.1,213.3 110.3,183.5 97.4,245.6 61.6,228.2 116.0,221.2 138.7,211.0 92.2,198.5 139.4,251.3 47.8,222.5 79.9,247.8 121.9,206.4 121.1,199.6 143.8,249.6 66.8,225.7 122.6,200.9 107.5,210.3 110.2,195.1 127.8,191.7 81.0,213.0 137.7,180.9 62.4,238.3 140.4,230.4 69.7,243.7 141.0,268.0 48.7,251.9 38.8,225.0 107.3,197.9 98.7,205.8 88.6,251.8 50.1,224.1 59.4,254.9 93.3,225.1 102.3,211.0 124.2,210.9 104.0,237.6 87.4,194.6 108.1,170.7 99.4,274.0 74.6,254.2 89.4,273.7 76.1,190.0 78.5,182.1 103.9,210.8 87.4,266.7 107.9,190.6 90.0,249.0 128.3,227.8 98.6,241.7 145.4,186.2 135.1,253.9 66.7,205.7 134.4,252.1 72.5,229.2 55.2,202.1 128.3,232.3 76.5,246.2 78.1,241.2 98.1,185.0 81.6,256.3 135.6,231.0 130.6,190.8 59.1,250.6 58.4,183.7 128.1,244.4 79.7,175.4 120.4,178.7 56.3,198.7 81.9,202.1 137.2,189.0 132.6,224.4 121.6,200.4 71.2,228.1 85.8,216.5 78.5,191.6 142.6,265.2 126.0,181.2 55.4,241.6 58.0,191.0 113.9,224.3 83.8,209.5 39.0,212.2 125.7,217.0 132.9,261.2 170.0,213.3 154.0,220.1 83.2,259.6 45.9,221.0 74.7,183.5 97.4,191.7 115.7,185.3 47.4,210.4 115.9,197.3 102.9,189.7 68.8,244.4 57.5,222.1 55.0,215.6 50.9,216.0 55.4,255.2 112.6,278.3 80.3,192.4 132.3,231.1 141.9,203.4 133.0,189.9 88.2,184.1 77.2,236.9 83.4,193.8 73.6,266.2 61.0,192.8 125.9,260.3 122.4,241.1 133.9,222.2 142.7,197.9 125.9,237.4 146.2,251.3 116.2,255.7 76.4,228.2 96.3,205.0 128.8,213.4 141.6,250.2 120.6,214.3 105.3,277.0 95.8,203.2 149.3,219.0 142.6,260.7 74.2,213.6 110.1,174.6 54.5,200.7 98.1,235.0 157.7,208.8 145.8,261.6 62.2,264.9 90.6,274.1 107.5,254.9 143.3,202.3 44.0,232.6 56.6,251.5 139.0,203.3 101.0,173.8 58.1,240.9 111.9,211.4 75.0,216.5 63.3,238.2 125.2,175.6 66.0,195.5 83.3,195.4 65.7,189.9 87.6,172.8 118.1,180.7 72.6,187.2 66.1,228.1 95.4,263.2 136.8,258.6 117.3,193.8 74.4,179.3 102.2,243.3 81.1,198.8 102.1,189.7 66.3,251.6 80.9,185.4 81.7,219.0 44.7,215.4 62.6,203.2 78.6,190.6 64.4,246.0 55.5,210.1 132.0,191.5 147.4,236.2 59.9,259.1 90.3,268.5 129.0,258.4 101.0,188.1 139.6,232.7 136.2,194.2 114.9,222.3 43.1,243.2 113.0,253.7 63.7,262.5 140.2,213.3 123.6,251.6 77.4,184.7 44.1,243.3 115.7,270.8 63.5,200.8 89.3,236.2 123.4,271.3 107.1,178.4 139.7,256.9 84.8,185.6 54.3,214.4 112.0,170.2 70.4,194.4 129.7,231.7 151.0,218.5 79.3,248.8 58.0,210.1 91.4,231.5 86.9,264.0 100.3,223.8 91.5,184.8 104.6,223.7 80.8,189.0 153.7,231.9 106.1,230.8 78.7,234.5 47.7,249.7 39.7,225.0 69.8,182.0 69.1,209.8 124.4,220.5 84.7,248.9 100.3,209.6 126.4,178.5 133.5,196.1 66.2,206.9 112.7,203.0 84.6,179.7 122.2,245.0 109.8,254.9 131.3,248.3 86.2,173.2 102.1,214.4 151.1,206.2 104.5,175.0 53.2,214.9 129.7,245.3 111.7,191.1 65.4,202.6 108.7,204.8 125.3,250.1 88.1,238.7 102.9,212.1 81.6,272.2 147.9,256.9 96.7,266.6 94.6,261.5 54.6,208.8 67.4,203.6 100.1,276.8 101.6,215.0 65.6,191.3 55.0,224.1 164.1,221.1 100.1,231.5 145.7,234.1 108.4,257.1 105.0,269.3 73.9,259.8 65.3,197.8 89.4,221.2 81.4,267.5 73.9,188.0 70.9,223.4 83.2,265.8 143.9,228.3 88.9,204.7 150.9,199.5 117.3,177.6 44.5,235.1 121.8,261.0 130.6,211.9 141.0,207.7 127.3,258.8 114.4,234.5 112.2,244.1 124.7,204.9 100.6,199.0 91.9,205.3 56.3,259.8 115.7,176.5 120.8,225.4 105.5,221.2 107.1,251.8 59.2,230.8 118.7,198.5 68.5,204.9 66.8,246.6 113.5,199.7 77.7,226.0 132.1,252.4 115.8,219.6 73.6,209.1 76.7,264.4 116.8,199.3 112.8,235.0 133.5,224.3 94.4,264.5 116.9,253.8 55.5,219.5 100.2,240.5 114.6,228.2 135.5,221.3 129.8,176.7 180.9,222.3 86.1,189.6 70.5,212.6 98.8,243.1 55.7,234.3 42.6,228.0 139.5,257.8 67.9,233.8 43.9,246.6 109.3,202.3 56.9,200.9 40.6,221.1 118.2,193.5 61.6,218.0 57.4,257.5 58.0,194.1 123.5,208.0 98.0,181.0 144.7,218.6 122.0,186.7 151.8,237.2 121.4,262.5 133.5,205.1 145.2,183.7 110.7,179.7 53.5,212.1 129.4,220.7 154.4,240.7 59.9,263.4 93.4,177.2 67.8,206.9 107.5,194.8 46.3,222.4 134.3,218.8 60.6,231.8 85.8,238.2 103.8,195.4 106.2,228.1 94.0,211.0 70.7,219.2 93.6,204.8 135.5,197.2 45.1,212.0 126.3,194.4 104.9,179.8 94.4,188.2 93.1,188.2 131.6,215.9 89.8,208.9 106.0,205.1 81.6,223.6 107.6,198.9 117.6,203.0 112.4,192.3 79.3,241.3 97.6,227.6 144.1,241.0 57.2,219.5 104.3,210.3 132.3,267.4 38.4,230.5 113.3,173.8 57.9,228.3 90.4,256.0 68.1,252.7 136.8,206.7 125.2,210.4 101.5,203.5 78.6,198.2 132.0,250.1 135.6,215.6 63.9,207.2 99.1,228.2 73.6,240.5 53.4,243.2 108.7,238.7 74.7,189.5 83.2,250.0 99.6,226.9 69.1,217.4 129.0,263.0 124.7,203.9 59.8,224.6 69.3,228.1 90.3,184.6 70.3,267.8 122.3,174.9 79.2,243.5 126.9,226.4 78.7,262.6 116.0,258.8 177.1,241.9 94.5,220.4 126.0,188.7 103.3,182.2 123.4,194.2 80.6,261.5 75.7,210.1 105.7,209.4 111.5,201.6 61.6,222.2 109.6,225.1 102.2,241.5 117.1,265.0 124.9,211.8 141.5,249.6 116.3,246.5 90.1,261.6 142.1,237.6 88.5,241.8 96.5,244.6 82.9,216.9 98.0,192.4 96.7,271.6 102.5,188.0 82.8,262.8 119.4,223.2 57.8,255.2 88.1,224.3 111.4,267.0 118.1,182.6 94.4,238.7 115.6,182.8 137.8,188.1 119.6,217.5 95.3,186.1 95.1,212.4 65.5,209.4 151.2,212.1 135.2,258.4 42.2,211.3 70.7,197.9 115.0,216.4 138.4,217.4 81.3,264.0 94.1,223.6 119.1,195.1 89.8,200.5 98.5,207.2 87.9,196.7 171.9,248.3 60.2,254.2 94.9,211.5 146.9,216.5 70.8,214.7 113.1,223.8 73.3,208.2 103.2,225.3 78.4,197.0 97.4,223.9 59.9,249.4 120.7,219.6 142.4,200.3 149.9,208.6 90.6,216.4 141.4,242.5 43.5,226.6 94.3,247.5 119.1,230.2 58.7,250.3 62.5,219.6 65.4,241.2 64.1,187.9 158.0,258.2 81.7,178.8 102.2,276.0 82.9,224.9 112.9,249.2 145.3,240.2 123.7,200.2 143.5,219.1 149.2,247.2 80.7,230.1 110.5,236.2 108.9,271.2 150.8,229.1 80.7,259.9 81.9,189.7 153.5,235.1 68.8,215.6 57.1,248.8 56.6,228.9 148.8,224.8 44.8,221.3 44.6,245.6 44.9,205.5 81.4,236.9 75.3,221.4 66.9,228.9 109.2,264.6 128.9,193.9 121.9,248.6 98.5,208.1 133.3,235.2 106.6,277.0 118.4,201.1 59.3,257.1 71.2,255.7 145.9,231.7 42.3,241.8 107.7,235.2 48.5,221.0 67.4,191.5 159.9,225.5 91.2,229.5 52.5,206.0 95.1,231.0 77.7,239.3 84.4,259.9 104.1,220.6 51.4,227.9 92.2,194.9 136.6,266.5 77.4,187.8 80.0,222.0 71.5,241.4 102.8,193.6 131.8,247.1 115.0,210.2 56.6,213.3 107.7,215.8 128.5,216.3 101.0,260.6 79.7,220.0 62.3,232.5 92.5,212.7 60.1,191.5 58.3,223.2 104.1,180.0 127.3,243.7 145.0,213.4 153.7,230.3 164.8,254.2 136.4,233.5 86.9,179.7 66.3,232.8 133.3,255.5 125.0,198.3 115.7,253.3 110.1,176.5 70.4,236.3 76.0,177.3 113.1,177.1 91.8,243.3 58.2,247.4 50.7,215.7 68.3,219.0 135.8,243.3 140.8,251.5 86.8,262.3 145.2,232.9 88.1,197.8 124.8,274.9 137.9,228.9 116.9,217.2 112.8,269.6 94.9,257.8 78.2,246.1 104.2,181.1 52.3,212.5 127.8,221.2 141.3,256.1 77.7,192.8 92.3,236.0 88.3,233.7 96.5,225.4 119.5,209.2 83.6,191.3 124.5,186.8 75.8,221.2 99.2,199.0 117.9,274.9 147.6,203.0 116.6,244.3 119.6,202.1 46.5,246.2 112.8,252.5 112.0,194.4 130.6,268.4 93.5,219.4 89.5,227.9 142.7,230.6 56.3,203.8 72.7,199.5 116.9,194.0 72.2,219.9 161.9,245.4 108.1,186.8 131.1,264.6 100.2,259.5 67.4,194.7 142.3,231.3 130.6,188.6 51.9,245.9 114.5,262.6 70.3,265.3 131.2,208.5 89.4,243.9 78.1,266.9 70.7,187.1 137.6,219.2 50.9,229.6 139.4,221.8 137.6,253.8 80.1,229.6 140.7,233.0 61.3,254.2 45.0,239.8 89.6,233.5 130.1,219.6 129.3,181.7 59.9,254.3 99.1,175.9 86.7,235.1 78.9,189.3 131.2,232.3 130.4,246.0 107.0,186.5 85.5,228.8 56.8,256.7 115.4,216.4 128.4,200.6 68.4,211.5 117.3,212.2 36.8,225.9 109.0,193.2 68.7,220.0 66.1,253.4 88.7,218.8 154.8,207.4 137.1,236.2 124.3,254.5 111.7,225.1 126.0,258.8 51.7,217.0 70.1,200.0 128.4,236.7 148.1,230.2 101.4,237.3 76.3,242.5 77.4,194.3 135.4,250.6 113.5,241.3 112.8,229.7 137.3,215.9 161.5,230.5 36.0,224.2 72.6,204.1 139.6,207.6 72.1,243.1 65.1,247.3 99.7,185.7 94.4,199.2 142.5,247.4 103.7,212.6 52.5,220.8 99.9,252.4 116.8,223.7 59.8,219.6 100.6,192.4 162.3,206.9 49.4,242.8 108.6,229.0 92.3,239.1 85.0,262.1 70.0,262.3 123.9,233.7 134.8,223.4 46.3,201.8 126.1,254.3 68.5,193.8 79.1,247.0 113.6,247.8 75.7,203.7 74.7,228.7 130.9,209.4 61.0,256.4 95.2,175.6 89.8,272.9 146.7,246.5 99.5,180.4 90.2,264.2 148.3,188.0 43.6,223.6 76.4,186.5 135.0,249.1 84.7,224.1 109.4,229.5 69.6,208.9 131.1,206.7 129.2,196.5 114.3,218.7 132.1,214.3 145.3,246.8 140.1,194.0 178.7,220.5 134.3,215.0 70.9,197.6 109.0,217.4 139.4,187.4 64.1,204.1 113.0,198.7 130.0,190.4 93.1,225.8 96.0,215.7 106.8,202.7 82.3,247.1 66.1,263.7 132.1,185.1 69.5,268.1 71.1,250.1 64.7,264.1 144.3,223.6 144.0,208.0 134.1,190.0 128.2,246.4 76.7,206.2 124.5,261.1 83.2,267.2 95.9,251.3 146.4,234.0 38.4,213.8 65.2,205.0 92.5,217.5 117.8,246.0 39.9,218.7 142.7,188.1 67.3,239.1 147.5,255.1 177.6,220.1 119.0,275.5 97.8,214.6 164.0,215.5 60.2,229.2 129.6,267.3 58.9,193.2 122.3,184.1 87.1,218.2 131.6,180.1 123.3,187.8 111.4,199.4 143.3,198.4 42.4,208.1 131.3,237.8 146.0,255.1 151.3,228.9 116.6,178.1 110.1,244.9 105.1,217.9 111.5,173.7 81.7,221.0 80.9,234.3 55.9,247.4 104.8,251.5 47.8,214.2 146.5,245.3 140.1,199.8 80.5,244.3 103.1,203.7 127.6,267.8 70.6,232.0 146.5,227.2 111.9,271.7 89.4,251.2 96.1,171.4 108.5,234.8 74.1,224.0 123.7,242.5 76.3,222.6 105.5,239.4 130.8,227.0 99.2,211.0 63.3,249.3 143.8,256.0 64.7,224.1 67.5,195.4 40.2,234.5 144.6,217.1 121.1,189.8 69.6,262.9 137.0,197.4 75.4,250.3 45.5,223.8 113.7,238.2 50.0,249.7 139.2,202.3 132.3,227.9 150.6,193.5 122.0,220.0 101.9,217.1 76.0,192.9 95.4,220.8 95.5,273.9 65.4,192.8 139.0,237.5 69.0,211.7 111.3,229.1 111.3,264.1 142.0,215.7 124.6,229.6 57.1,233.2 98.3,232.0 55.7,226.8 96.7,202.2 80.4,242.1 66.0,222.2 150.6,250.9 93.8,241.0 95.1,177.6 59.6,228.1 91.3,217.8 81.8,244.7 122.2,244.2 181.6,222.7 85.4,241.8 100.3,194.1 81.5,193.9 59.4,199.3 129.3,270.9 55.2,197.9 165.2,243.8 137.2,241.2 62.0,214.4 127.5,234.2 134.6,219.8 55.5,242.6 112.1,210.8 150.7,227.9 126.6,201.3 142.0,236.2 141.4,185.7 99.5,247.3 146.1,215.5 120.9,191.5 102.9,235.5 78.3,183.1 134.9,204.2 124.0,227.7 113.3,217.8 63.8,242.5 124.9,180.0 89.8,276.2 68.0,215.8 74.8,234.4 120.5,178.6 121.2,263.2 39.0,236.7 98.0,195.1 161.6,250.3 137.8,250.0 111.8,213.6 92.0,201.1 76.6,183.4 86.1,226.9 90.8,234.7 121.5,217.3 128.2,273.4 129.5,209.6 90.9,236.3 54.9,226.6 111.0,170.7 41.9,242.0 47.4,244.5 123.6,213.2 80.0,255.0 100.3,249.3 132.1,243.4 99.6,268.4 88.3,212.9 93.0,223.4 66.9,229.7 80.4,216.8 95.4,228.1 81.8,192.5 94.6,246.1 84.6,195.5 105.1,244.5 159.5,206.1 75.2,240.5 119.3,246.0 61.7,198.0 147.1,240.5 106.1,170.2 60.1,245.2 119.3,184.6 97.0,211.8 112.6,224.5 88.3,208.6 113.9,228.1 41.2,225.4 131.2,187.1 96.8,212.5 139.1,227.3 125.7,261.5 62.5,234.3 67.3,231.4 106.3,180.4 103.5,215.9 106.5,176.6 125.3,184.0 128.4,230.0 83.8,181.5 129.7,229.5 127.5,206.1 69.0,231.9 67.2,209.4 61.0,242.6 140.9,225.3 72.6,268.6 49.6,223.2 74.2,218.9 72.1,199.7 130.4,271.0 116.7,259.9 76.4,190.7 92.3,256.3 64.8,221.7 139.4,258.4 90.8,178.9 115.2,250.7 111.5,175.0 64.1,221.1 106.1,229.6 151.0,251.4 92.6,172.3 142.9,252.5 90.6,188.5 120.8,214.2 99.0,200.3 89.9,186.2 108.2,219.1 49.0,246.0 79.6,212.0 110.7,261.2 97.7,179.4 101.3,202.3 83.9,233.1 139.2,247.1 116.1,248.8 59.7,194.9 47.5,208.6 54.6,258.4 123.1,268.7 72.6,197.9 72.7,233.7 143.0,204.4 83.6,185.4 68.1,194.1 69.4,249.6 54.5,217.3 133.8,201.9 71.8,258.4 154.4,260.6 147.2,242.5 41.0,225.9 119.7,261.4 68.4,189.0 139.0,244.7 146.1,205.1 54.4,239.1 92.1,252.5 108.0,223.0 119.1,197.9 49.1,198.2 99.2,179.6 58.9,238.4 145.5,212.4 106.1,265.7 116.3,231.1 59.6,238.0 101.3,228.2 53.9,240.6 63.7,215.5 61.5,192.4 57.5,259.2 129.8,179.5 81.6,206.5 100.3,236.1 120.9,229.3 112.9,258.0 50.2,195.0 83.2,198.6 113.3,206.7 111.0,186.5 91.5,203.9 133.8,188.7 148.4,201.5 93.2,217.0 63.5,241.2 96.4,229.7 152.5,188.0 83.8,187.3 102.3,265.6 63.2,209.0 49.9,203.0 70.6,225.4 81.7,224.2 78.3,244.7 82.7,242.6 81.6,227.2 53.3,231.0 131.3,200.6 118.9,204.3 114.0,175.9 96.6,179.5 169.3,248.4 65.0,237.4 119.2,195.2 106.0,263.7 113.9,233.4 115.9,190.2 119.4,219.9 80.4,190.4 53.8,210.4 101.4,238.5 45.5,243.1 96.2,201.7 128.9,206.6 83.2,229.1 61.5,247.2 67.1,236.4 95.1,206.2 100.1,257.0 117.2,190.9 96.1,223.6 135.8,209.8 87.5,273.4 112.0,227.4 61.7,204.2 72.5,186.2 72.2,255.7 63.4,230.7 142.1,216.5 86.3,214.3 69.4,205.3 114.2,187.5 140.1,258.4 141.1,189.1 146.4,238.3 104.1,238.2 99.1,252.6 76.8,232.3 123.4,256.5 144.0,195.1 80.2,214.7 92.0,238.1 102.7,241.7 122.2,188.6 112.5,197.8 117.3,258.1 113.2,217.1 118.8,222.4 85.3,197.9 48.9,235.0 76.5,197.2 139.8,211.4 63.9,200.8 129.6,217.9 83.1,193.8 83.4,261.3 96.4,210.1 45.6,229.7 98.4,242.9 39.4,228.3 124.5,177.7 130.8,239.3 42.0,221.2 58.1,212.1 160.0,243.2 144.9,188.7 44.2,236.5 97.5,187.2 68.7,241.0 124.7,177.9 112.5,204.8 103.4,182.8 101.3,273.6 100.5,272.8 109.8,274.8 95.7,230.7 67.0,217.7 111.5,276.3 85.4,226.7 133.9,264.1 66.8,199.8 90.9,259.5 134.6,256.9 111.5,219.7 51.1,219.8 151.6,240.3 133.8,213.1 110.9,268.7 141.7,254.4 115.7,230.0 61.5,257.2 143.2,254.8 87.6,222.7 72.9,229.5 136.5,214.3 91.2,220.7 158.9,240.1 126.1,199.5 58.8,213.2 58.6,193.6 119.3,243.9 150.6,253.4 78.0,264.4 143.9,217.1 36.9,228.0 122.9,171.4 76.4,251.6 99.8,268.1 59.0,219.8 119.4,251.3 74.5,220.1 38.4,233.1 94.6,253.8 141.0,181.6 97.1,251.9 141.8,253.8 69.2,229.2 122.9,213.0 113.3,193.1 78.3,250.7 80.8,202.3 51.6,241.3 141.3,231.6 98.7,225.4 140.1,236.2 61.6,211.9 66.3,261.8 73.9,244.7 83.6,251.4 125.2,215.3 96.0,194.4 39.4,211.6 70.3,244.8 117.0,237.8 141.2,199.1 112.4,217.2 98.7,235.5 83.9,258.2 119.7,200.7 134.8,192.1 69.3,230.8 79.4,213.8 43.2,221.6 112.8,220.0 82.2,232.9 164.2,229.6 77.6,213.2 61.5,205.5 96.3,234.8 87.7,214.2 136.0,257.6 77.8,219.8 74.2,265.7 140.5,224.3 105.0,224.3 99.0,234.8 59.8,212.7 87.0,262.6 145.5,199.2 90.7,245.5 120.6,208.4 133.2,213.0 127.0,230.3 151.8,261.2 126.4,206.3 126.2,242.4 134.3,250.2 85.3,184.7 146.5,222.4 129.5,180.5 106.7,232.0 41.7,232.6 66.9,224.3 68.9,202.4 53.4,239.1 141.4,213.8 39.7,229.1 106.8,211.7 91.5,247.3 71.4,182.4 144.4,199.6 118.1,258.4 56.6,227.9 121.1,259.2 67.8,250.9 60.0,220.7 127.3,218.5 73.0,222.3 103.4,242.8 137.3,204.7 105.0,228.1 53.6,236.9 101.2,206.6 90.0,192.6 104.8,249.0 69.8,237.8 104.8,232.4 72.4,212.1 81.5,195.5 127.0,215.7 85.0,236.5 118.9,224.9 112.7,237.5 109.6,172.7 71.0,240.1 150.2,195.6 54.9,244.5 73.1,249.1 115.5,249.1 111.7,261.8 72.6,239.7 116.7,251.7 98.2,244.6 139.7,225.4 156.5,221.3 136.9,185.8 86.8,265.6 43.3,216.3 141.1,241.9 133.4,178.6 129.8,185.9 129.9,206.0 90.2,247.4 80.4,182.7 124.8,210.2 133.7,244.0 98.3,219.0 65.0,217.6 68.7,225.2 56.1,245.0 122.7,236.3 79.6,183.8 111.1,265.3 158.9,221.2 105.7,240.9 107.3,188.8 65.9,210.7 90.9,228.2 113.5,184.5 47.2,235.9 143.6,240.6 65.3,226.2 115.0,199.2 112.2,266.2 139.4,263.9 154.1,194.4 111.0,242.6 87.9,248.3 143.9,252.4 105.2,254.1 137.4,199.3 69.7,253.4 94.9,193.4 96.1,248.3 69.4,197.6 90.3,259.2 107.8,201.5 99.0,201.9 74.9,262.7 130.3,238.4 94.9,190.3 64.1,208.6 103.7,225.9 81.9,201.1 112.8,222.1 67.9,253.8 119.0,199.5 69.7,264.9 123.5,224.3 122.4,219.7 84.9,175.5 101.2,268.8 61.0,221.4 96.9,177.7 137.5,244.9 129.9,196.2 75.8,180.8 136.4,224.1 58.9,198.7 136.8,200.1 106.5,244.8 109.1,219.1 86.7,267.9 103.8,180.9 147.5,253.2 51.0,222.6 88.2,230.9 101.6,221.8 115.5,202.6 109.6,246.4 75.5,199.3 120.5,197.2 86.8,180.8 94.2,254.5 133.5,247.1 113.5,175.8 119.2,242.8 55.4,207.6 72.4,270.3 125.7,203.5 125.0,222.5 74.9,201.6 141.7,212.6 48.8,243.2 109.5,206.4 89.3,265.7 178.2,204.3 120.8,230.0 87.1,193.3 63.0,236.4 151.9,182.3 91.1,219.7 102.6,268.7 60.7,195.5 54.7,254.5 83.2,203.4 49.8,253.5 77.2,232.8 117.9,209.3 137.1,238.8 112.3,186.0 84.5,247.5 99.9,240.5 76.1,211.8 130.9,215.5 70.5,232.6 79.7,236.4 138.7,190.8 116.6,189.1 84.4,200.1 106.0,265.2 106.3,174.6 95.8,255.7 135.1,205.0 135.1,228.5 72.8,207.0 93.2,233.4 109.7,182.4 126.2,176.5 118.2,188.3 109.9,228.8 131.7,276.8 86.5,270.4 141.0,199.4 182.4,228.4 97.8,250.4 85.6,219.2 91.0,205.9 62.3,228.2 86.2,188.2 147.0,219.9 92.7,220.7 76.3,225.0 108.3,261.1 67.6,186.8 105.1,255.3 103.0,198.2 82.2,241.6 58.2,218.3 79.5,198.8 132.5,262.5 46.6,214.2 106.3,250.5 147.5,209.5 63.5,223.2 91.2,172.8 88.5,200.3 49.3,245.3 88.8,222.5 93.1,260.9 63.1,200.4 94.7,200.6 136.2,219.4 114.5,223.7 117.4,211.1 54.5,246.1 75.3,247.1 106.2,223.2 47.1,229.5 141.7,226.6 103.5,187.6 148.8,213.2 128.0,180.4 119.2,239.1 113.4,238.7 65.0,240.0 67.7,261.6 118.5,239.9 102.6,256.0 78.4,272.2 50.7,222.5 100.6,176.4 107.7,182.9 132.3,198.4 42.7,226.0 82.8,200.5 120.5,252.2 126.6,252.5 143.7,225.1 111.8,233.4 143.8,192.8 72.6,262.3 118.6,229.1 96.5,176.3 68.8,223.4 110.5,231.9 143.9,242.4 123.3,181.0 104.1,194.8 86.8,207.0 70.1,186.5 103.6,190.9 71.6,233.1 133.8,219.0 137.2,265.1 130.5,203.5 47.8,238.7 162.0,205.3 99.4,240.7 74.8,207.1 96.0,242.3 83.3,194.3 121.1,169.7 131.6,267.8 123.1,220.6 62.8,206.8 117.9,216.4 117.0,173.9 97.9,215.7 159.8,260.7 115.8,233.7 116.2,238.5 122.9,245.1 88.1,214.6 52.5,219.1 134.2,270.5 49.4,211.7 118.1,221.1 102.0,209.8 104.8,203.4 115.2,225.4 47.1,237.0 59.1,256.2 105.8,189.9 100.3,275.9 60.3,213.5 124.6,264.7 81.2,200.5 100.2,189.9 69.3,242.9 144.9,257.1 95.3,246.6 98.3,249.0 67.6,238.5 121.8,213.2 97.7,207.1 137.0,234.2 110.8,267.9 122.2,240.6 137.5,244.7 51.6,243.2 70.8,230.6 86.4,254.3 68.6,207.3 103.2,196.6 64.1,250.4 89.8,195.2 88.2,224.9 130.1,251.6 115.7,210.7 108.4,262.2 140.5,192.9 96.0,191.0 80.9,232.2 122.7,249.3 85.4,270.9 74.6,235.9 55.1,231.1 64.2,244.2 125.8,255.8 117.4,245.5 80.5,184.4 135.2,207.5 95.7,264.6 87.6,202.7 111.9,215.7 79.5,230.4 151.3,216.5 127.5,226.6 122.3,259.8 132.9,264.9 133.2,217.3 139.5,192.9 134.4,209.2 132.4,253.6 139.2,231.9 111.0,181.3 91.0,225.9 92.0,240.5 58.9,239.7 100.7,213.9 117.1,180.0 114.7,248.7 108.0,207.7 124.4,184.9 96.1,239.1 100.0,229.4 77.3,259.0 89.1,253.6 135.5,214.4 117.4,243.3 80.4,204.9 138.0,201.7 171.7,213.9 90.6,237.0 122.2,268.8 113.4,190.5 74.6,259.8 110.5,258.9 52.8,238.4 140.6,236.6 82.1,182.8 72.6,223.0 74.8,223.1 89.8,243.3 112.4,209.6 81.0,217.2 81.1,257.4 64.1,214.1 100.3,277.9 79.2,193.7 127.7,202.0 96.1,187.5 149.4,233.6 127.1,233.7 85.3,245.1 65.9,242.0 109.6,215.1 102.0,258.4 118.3,214.7 88.6,188.3 70.4,206.2 67.2,203.2 80.9,193.5 165.1,229.6 60.4,211.2 79.5,271.1 51.1,215.0 129.9,184.1 73.5,269.6 40.9,226.9 103.0,189.4 101.7,191.1 90.1,255.3 121.5,255.7 112.1,273.7 65.3,203.7 83.8,265.2 125.2,235.1 114.4,177.5 50.0,252.6 114.2,179.8 129.9,214.9 133.4,208.2 100.1,244.8 50.7,237.4 128.0,269.1 88.3,258.9 133.8,184.2 118.9,223.2 100.1,224.7 133.8,181.3 95.6,239.1 61.9,263.3 89.2,239.5 72.1,189.0 134.6,254.1 76.5,194.3 57.7,210.9 65.6,228.2 97.8,203.4 61.4,216.6 40.6,217.9 87.4,223.1 87.4,246.9 58.2,239.4 91.7,175.2 119.4,241.1 136.0,204.9 143.5,187.1 126.0,248.6 92.0,176.9 56.1,259.3 99.7,220.7 122.9,211.0 101.1,183.3 109.9,210.4 65.8,248.6 107.8,202.0 84.6,232.1 125.8,262.9 68.6,207.7 132.8,249.8 106.9,243.3 48.1,240.2 113.7,203.9 93.9,230.7 104.2,219.1 67.3,238.4 160.0,211.8 123.4,219.4 68.1,198.2 41.4,237.3 99.5,222.0 140.2,201.6 142.2,207.8 67.1,190.4 100.8,226.3 146.9,214.6 124.1,259.9 142.9,241.1 106.6,220.9 63.3,204.4 140.9,189.9 83.0,240.5 70.8,225.0 112.5,258.6 141.3,272.2 92.8,221.8 63.3,189.1 101.8,228.8 139.7,268.9 136.8,179.7 60.0,205.8 122.9,272.4 127.6,227.7 74.6,180.1 132.6,250.2 63.4,251.0 147.9,195.0 88.0,242.5 43.5,229.1 115.0,186.4 51.5,234.5 95.1,210.2 143.3,249.1 82.5,179.9 128.6,205.2 125.0,258.5 99.7,182.1 58.2,222.5 100.7,219.9 135.1,201.1 98.5,183.5 132.4,265.5 114.6,199.9 121.9,226.3 107.6,223.1 92.7,240.5 121.8,251.6 152.3,231.2 63.5,228.1 103.9,274.3 87.2,260.1 146.7,248.0 94.6,198.9 72.5,214.0 83.3,219.3 132.2,211.3 52.4,213.2 64.3,235.0 104.0,198.0 104.4,210.3 105.1,187.8 40.3,238.9 152.4,203.2 39.8,222.0 62.5,248.8 72.5,201.6 88.6,258.4 97.4,217.1 140.9,229.5 110.1,209.1 65.5,237.1 74.5,191.1 54.5,256.9 119.0,216.7 83.2,271.6 134.0,198.0 81.7,262.6 129.5,208.8 149.4,237.8 108.1,242.6 137.7,197.3 112.7,246.5 74.6,240.1 98.5,259.1 126.6,222.6 129.7,201.9 120.1,186.9 62.2,196.5 112.2,185.1 92.4,201.7 91.0,248.6 144.1,235.6 123.2,253.7 79.2,253.4 57.1,202.7 49.9,248.8 141.0,215.6 96.0,190.3 137.0,242.6 44.9,240.5 80.3,252.4 89.5,268.4 65.5,252.9 54.6,258.5 72.7,193.5 52.0,250.6 61.5,226.7 133.7,199.4 83.8,266.0 59.8,236.5 126.6,205.7 54.7,233.9 85.9,254.1 139.3,218.9 67.8,200.5 85.4,202.0 48.8,218.6 136.8,182.1 57.7,260.3 72.0,236.7 66.0,254.3 143.7,176.9 70.6,195.4 74.4,184.5 97.6,263.9 98.0,213.0 122.2,191.8 107.3,177.9 118.2,232.3 128.4,223.6 79.8,200.1 53.6,209.7 126.7,179.7 74.6,210.4 146.1,232.8 116.0,215.8 147.0,213.5 141.4,223.6 109.3,178.3 156.1,242.0 83.3,224.1 72.7,255.3 69.8,184.5 79.8,204.0 76.2,236.1 110.3,213.0 54.0,244.2 82.1,176.9 107.4,224.1 67.9,258.5 62.4,256.5 42.8,233.0 51.7,246.6 132.9,230.0 114.7,239.5 111.5,240.5 151.5,230.4 106.1,185.5 135.2,217.8 72.5,245.4 67.9,222.7 87.4,230.1 135.3,236.2 68.8,201.0 119.4,206.7 111.2,234.3 116.9,233.6 103.4,221.6 100.1,204.8 109.0,212.8 96.3,236.7 36.7,221.6 58.8,215.8 90.8,239.0 116.1,226.2 84.1,230.0 109.2,279.4 94.3,270.1 147.6,193.7 71.4,195.0 50.1,217.3 49.4,235.0 116.3,267.1 157.9,240.7 125.3,268.3 59.7,203.4 48.6,216.2 91.1,262.1 116.2,239.7 127.4,245.3 130.6,276.4 93.8,239.4 78.1,235.6 120.2,253.5 69.3,257.1 125.3,245.5 93.6,210.3 107.5,174.3 115.7,225.3 50.3,220.9 125.7,192.8 110.5,252.9 143.6,192.1 63.6,193.6 143.0,201.2 139.9,225.4 86.4,247.2 138.3,189.7 49.8,228.3 75.3,257.2 126.7,275.0 141.7,244.9 102.2,214.9 133.3,182.4 119.8,188.6 115.0,242.0 65.6,235.6 127.4,261.7 101.2,197.4 116.0,180.0 151.1,234.6 91.7,219.2 77.5,216.1 159.3,250.2 82.5,187.3 63.8,225.4 136.7,254.8 112.8,180.1 80.9,264.3 79.0,239.4 151.2,233.0 136.6,224.1 111.3,246.7 66.0,217.1 78.9,177.3 64.2,221.8 127.9,264.7 102.0,278.1 126.3,197.0 126.0,250.8 130.3,183.4 43.2,219.7 106.1,255.5 102.5,199.7 107.0,218.2 131.3,220.1 47.5,215.7 97.7,173.2 76.2,209.9 137.0,225.9 125.0,208.2 104.4,229.0 104.6,265.9 87.3,218.6 82.0,228.6 105.3,200.4 95.8,266.1 113.1,219.9 113.8,240.1 104.6,183.2 149.8,245.9 125.8,191.1 102.7,261.0 126.6,196.0 91.7,217.1 97.2,241.7 53.8,218.8 90.7,251.6 71.1,220.9 80.8,182.8 103.0,182.3 52.8,248.0 108.8,196.0 50.5,238.4 132.0,214.5 60.9,240.6 106.4,239.2 89.9,178.6 78.7,217.0 62.2,214.9 95.1,272.5 81.0,172.0 128.0,185.8 41.6,220.5 100.9,193.7 136.4,179.8 141.2,247.6 77.0,231.6 76.3,243.7 93.2,250.0 107.1,246.1 109.5,207.7 132.4,239.0 141.7,210.2 138.9,270.8 123.7,203.3 101.2,217.2 54.0,212.7 95.4,231.7 47.7,219.6 90.6,213.8 134.9,229.1 37.6,222.5 125.2,200.6 77.0,192.0 120.5,211.7 109.7,269.4 57.5,245.5 111.1,263.1 78.0,195.7 102.0,236.6 132.2,237.5 95.2,206.7 63.6,190.7 46.8,223.9 99.2,193.1 105.9,201.4 49.1,223.3 103.1,259.5 133.9,227.5 127.2,235.3 52.5,198.8 95.7,238.8 87.5,182.2 55.0,230.0 106.2,245.7 98.6,263.5 128.5,221.2 112.2,178.1 84.8,237.0 120.3,236.0 87.4,195.6 51.9,232.2 65.9,264.2 60.6,230.7 133.1,191.1 86.4,230.9 82.7,230.0 125.9,189.8 58.7,205.4 147.5,224.0 109.9,216.2 140.4,266.3 111.4,205.0 61.9,211.5 75.7,239.0 129.5,251.1 100.8,185.2 82.9,248.5 72.4,247.7 96.7,214.1 110.1,257.0 94.4,203.7 121.8,275.5 73.3,204.3 143.4,220.2 100.0,184.4 159.6,237.3 87.4,226.1 117.0,182.7 105.5,259.6 131.2,242.6 138.1,190.7 106.1,189.3 68.5,255.0 139.2,246.1 142.7,240.4 71.8,218.1 150.5,255.6 86.3,237.1 84.5,253.1 116.1,201.3 82.0,184.7 61.2,207.1 84.5,223.7 170.0,238.0 89.4,215.3 67.8,230.3 74.4,238.9 126.6,257.1 158.9,234.3 111.4,181.6 74.1,250.3 75.5,188.9 71.1,208.4 89.6,260.2 65.0,226.3 146.3,217.6 104.3,236.0 109.0,244.3 49.0,214.6 103.8,213.3 112.6,253.0 148.4,229.4 37.1,217.6 97.2,210.0 138.8,233.0 111.5,197.0 138.2,246.4 104.1,230.3 54.9,229.2 104.1,178.0 126.6,180.0 103.0,205.0 121.3,181.9 98.7,266.7 70.9,251.7 60.9,225.6 129.4,234.9 58.0,211.6 40.7,235.2 105.1,204.9 152.3,220.7 52.1,236.0 69.1,198.6 45.6,243.6 52.7,250.8 108.2,254.0 82.0,239.6 102.5,255.2 105.5,263.7 88.8,203.4 80.5,239.2 74.4,223.2 113.8,188.5 120.2,258.2 63.6,195.8 73.3,228.0 71.1,190.7 63.6,202.7 158.6,246.2 145.5,268.5 43.1,217.3 120.8,185.7 48.0,231.4 144.0,237.9 61.2,240.6 93.3,192.7 84.1,237.3 131.5,233.8 151.5,248.1 104.7,189.6 65.0,210.2 71.7,255.7 86.1,249.3 72.2,235.2 156.5,226.8 104.1,253.5 128.6,257.0 49.0,250.6 99.0,230.0 114.3,194.1 91.5,242.2 90.1,248.0 86.1,228.7 139.4,255.5 90.6,276.3 114.6,182.7 107.5,193.3 37.2,228.4 75.0,259.5 137.8,227.7 62.3,231.9 130.1,191.9 107.6,251.4 59.4,231.1 49.6,230.7 97.5,270.1 63.0,232.9 137.3,268.4 73.1,211.0 99.8,226.7 104.5,197.5 72.9,225.8 49.7,243.5 77.9,225.5 84.5,271.7 116.2,185.1 102.2,254.3 121.6,242.9 49.3,233.3 103.4,186.9 66.9,213.9 165.4,255.7 59.6,206.3 85.2,252.5 89.5,237.5 144.5,261.2 99.4,233.6 80.7,235.8 128.1,209.0 146.9,211.6 58.7,197.7 94.4,222.0 118.5,213.4 62.7,254.2 101.0,230.2 165.1,199.0 111.3,187.2 48.6,210.2 92.7,248.0 167.2,231.7 114.5,231.8 57.4,215.8 56.7,194.8 146.7,211.1 103.1,271.3 55.9,250.2 139.0,228.4 74.7,255.7 59.8,210.0 132.9,225.5 89.4,182.7 107.8,274.6 69.6,202.2 86.9,273.4 78.0,255.6 54.5,221.4 118.6,233.3 79.4,257.9 99.5,184.0 149.5,220.0 74.7,184.7 64.0,210.5 76.3,214.6 133.7,217.4 133.6,247.7 66.1,249.8 84.0,189.7 74.3,206.0 75.3,242.9 101.5,181.4 88.5,236.4 107.8,240.1 47.2,242.4 122.6,203.1 130.9,247.1 114.6,180.2 121.1,183.4 63.4,252.4 135.3,231.5 74.1,200.0 93.9,196.6 114.0,203.2 96.7,233.2 138.4,201.9 50.4,208.3 56.0,197.2 58.6,249.9 96.5,196.8 44.0,207.1 74.0,206.3 75.8,187.2 146.8,185.3 62.3,193.2 131.6,260.2 65.6,251.3 95.0,201.3 104.0,233.6 70.9,234.1 107.0,253.2 114.5,237.8 65.8,215.1 141.9,243.8 61.3,188.9 94.6,214.5 122.9,172.9 74.8,199.2 87.6,240.7 57.1,236.6 92.7,181.0 105.5,214.9 58.0,196.0 89.5,206.5 101.9,239.1 94.1,202.4 76.0,271.7 53.7,258.7 114.6,210.0 54.4,247.8 134.3,181.8 97.9,182.6 71.9,182.2 81.2,266.3 93.2,208.0 120.6,241.8 92.6,230.5 112.4,213.8 109.2,181.3 116.0,213.2 137.2,219.9 94.6,250.2 73.9,248.2 93.0,231.0 109.4,220.1 107.7,199.4 106.5,221.7 46.9,248.0 61.2,235.7 77.5,222.1 71.5,254.4 57.5,236.0 107.5,180.0 144.7,224.7 118.1,251.5 120.8,256.2 158.5,192.8 107.5,237.7 53.9,239.7 144.4,234.9 123.5,217.1 101.5,170.4 95.9,235.7 123.7,222.2 111.5,251.6 119.0,230.9 130.8,226.2 75.8,173.9 131.0,196.4 155.7,233.3 90.2,242.5 137.7,231.9 89.5,249.8 78.4,249.7 59.4,262.6 151.9,232.8 85.2,186.3 138.8,198.5 60.2,232.2 70.8,265.2 117.3,198.9 88.8,177.1 86.1,209.6 97.9,239.9 120.1,190.2 137.3,191.2 100.2,230.3 43.8,219.8 129.0,210.7 94.8,233.2 82.3,197.5 71.3,193.6 87.4,232.5 82.4,208.5 136.5,208.2 66.9,268.1 123.2,197.3 77.2,229.1 90.2,226.3 109.7,185.4 140.9,217.4 96.4,199.4 126.7,170.5 115.9,235.5 103.1,258.0 110.9,220.2 57.6,246.7 71.9,235.1 116.6,278.3 61.7,200.7 102.5,185.3 125.4,224.8 114.2,259.0 106.8,261.5 143.4,236.5 86.4,180.6 107.0,194.9 114.6,213.7 124.3,272.5 74.3,189.9 77.1,208.3 74.8,194.0 126.4,189.2 108.8,270.2 91.2,233.2 117.6,253.8 106.5,200.6 71.2,209.3 137.5,212.5 102.4,224.2 100.3,189.5 105.7,257.0 46.6,239.3 62.9,236.2 89.2,223.0 111.4,206.2 135.2,225.6 87.4,185.6 40.7,230.8 62.8,197.4 132.0,236.1 99.4,251.1 87.7,228.0 86.3,203.6 101.4,236.2 73.1,244.1 66.6,198.4 106.1,243.7 92.4,224.0 117.7,185.5 66.1,231.2 89.3,192.4 91.6,264.8 137.9,195.2 96.4,210.5 129.8,263.9 131.9,248.1 78.1,221.0 82.1,209.6 111.9,212.0 162.2,237.8 115.6,262.0 88.6,255.8 44.1,226.7 95.9,206.6 121.4,209.7 59.2,234.1 104.9,212.8 49.3,250.4 73.8,200.7 115.4,185.9 84.4,205.4 112.2,179.2 109.9,218.4 121.7,181.1 65.4,216.0 55.1,258.4 112.2,222.9 73.3,242.7 51.1,226.3 69.0,232.7 144.1,205.8 61.3,215.4 119.7,186.0 101.1,243.3 52.1,217.6 62.5,246.0 94.0,185.0 121.7,183.6 75.1,196.0 133.2,210.1 130.6,266.5 104.7,213.0 102.0,248.5 172.0,204.9 124.2,231.0 86.4,257.8 138.9,200.0 50.9,246.2 55.8,233.4 137.9,247.9 121.6,251.7 79.2,179.8 61.5,250.9 110.5,221.7 143.9,250.5 67.6,221.1 125.1,170.9 87.1,258.9 103.4,232.7 91.9,263.0 106.9,226.1 62.0,224.3 134.3,242.8 121.3,178.7 40.9,231.9 64.0,204.7 61.3,258.5 89.9,213.0 126.8,245.7 128.9,236.2 121.3,175.4 64.4,199.5 159.9,241.4 92.2,262.2 104.6,192.6 149.8,259.8 87.0,245.9 142.0,219.3 103.0,239.0 107.9,221.9 54.9,216.5 63.3,263.9 77.6,251.5 67.8,266.7 93.1,245.7 69.5,189.4 45.5,216.8 83.2,185.9 115.0,220.9 57.8,252.8 58.7,260.5 62.2,218.2 46.2,235.9 101.0,242.0 81.0,213.5 70.5,219.6 140.4,212.1 56.3,225.8 62.7,242.3 91.6,193.3 61.6,220.4 122.3,197.9 89.9,263.0 99.3,212.6 135.0,262.8 63.6,216.1 98.9,197.5 63.2,255.1 118.2,169.9 52.8,249.4 87.5,274.7 126.3,248.7 75.7,253.8 119.5,176.3 117.4,183.9 101.6,248.9 138.7,212.4 119.0,217.3 162.4,226.6 119.6,260.6 118.4,183.4 69.9,191.1 92.3,179.6 125.3,250.5 97.8,220.4 97.5,259.6 109.9,249.1 49.3,246.2 120.0,256.0 82.1,204.3 45.0,228.3 102.6,202.3 123.0,218.6 125.6,214.4 79.2,207.6 99.5,197.4 44.6,238.2 61.2,223.2 86.6,176.5 51.8,199.3 98.4,193.5 110.6,182.8 117.1,227.9 172.2,234.2 137.9,230.4 64.1,194.6 79.5,196.6 140.5,206.0 130.3,202.6 66.0,265.8 138.5,219.9 145.0,243.6 105.5,186.2 77.9,200.7 55.9,195.9 58.5,206.4 76.9,258.0 136.1,251.5 77.2,188.6 154.7,242.6 67.4,264.8 135.6,266.4 149.0,217.0 146.3,252.5 60.2,226.2 121.9,208.8 86.8,189.4 117.1,229.7 106.4,184.4 106.9,207.6 121.6,205.6 137.6,250.7 123.9,235.5 46.1,249.3 81.0,247.2 46.7,241.5 81.9,255.7 112.7,244.9 105.7,195.3 123.4,178.9 68.1,187.8 71.8,246.7 100.1,177.6 55.1,245.1 95.0,233.6 74.6,197.8 122.9,227.5 130.7,218.5 147.9,241.1 55.7,205.9 100.0,243.4 85.0,208.1 164.5,219.6 52.2,209.2 83.4,179.8 68.3,261.2 59.6,262.2 96.6,257.7 112.3,225.6 157.0,243.8 100.5,220.8 70.8,243.7 96.0,270.7 68.0,191.0 76.3,198.0 113.0,262.6 83.3,231.5 130.9,272.6 111.8,216.2 82.2,175.4 51.0,232.4 116.8,189.8 39.4,228.1 87.2,205.7 131.5,228.7 164.0,235.7 49.3,222.6 117.7,186.9 153.2,237.6 133.9,251.7 148.4,203.7 138.0,222.7 114.1,268.0 84.5,260.9 86.1,214.8 145.3,228.3 123.3,231.0 71.0,203.8 96.3,253.2 135.7,244.4 108.7,226.3 110.6,206.5 90.4,192.1 103.5,265.4 122.2,201.1 140.8,238.3 146.2,203.4 100.2,247.7 99.1,189.9 86.0,196.2 83.9,246.0 149.3,252.9 50.9,214.0 89.2,215.8 137.2,230.8 116.3,208.9 97.4,263.8 142.5,257.7 104.1,244.6 135.3,206.2 148.0,224.2 129.9,261.2 109.7,189.0 109.7,236.0 59.6,207.7 143.0,267.6 81.1,234.9 54.8,211.4 165.1,246.0 110.7,234.9 53.5,248.8 114.3,244.6 129.9,255.2 81.6,254.0 91.3,249.7 143.3,189.6 120.1,271.0 79.0,259.4 72.4,194.1 89.6,263.4 102.9,179.0 60.2,196.9 144.1,221.2 141.2,191.7 118.0,195.4 79.5,200.8 114.5,270.4 85.5,187.5 123.6,263.9 132.7,233.4 84.9,214.0 101.2,195.9 150.2,181.5 86.3,232.5 45.3,224.6 128.6,221.5 99.9,187.8 103.4,228.2 68.1,267.3 158.3,260.2 108.4,185.1 43.8,212.1 110.6,187.3 150.9,221.6 144.9,237.4 105.4,257.7 136.3,193.5 155.7,196.7 53.6,202.9 144.6,254.7 123.5,249.0 121.2,236.9 51.8,251.8 37.8,217.1 65.7,219.8 84.0,217.2 60.5,252.4 77.3,196.0 129.7,239.7 129.2,237.8 105.3,274.4 165.2,246.2 92.0,190.4 131.8,274.8 55.6,207.6 70.9,237.6 95.9,227.9 122.8,248.5 117.1,224.9 96.4,221.4 58.1,227.7 90.1,228.4 52.7,227.6 85.5,269.9 132.9,245.9 69.5,213.1 138.8,178.6 102.6,200.9 83.7,211.6 132.1,234.8 77.3,248.3 110.4,239.3 121.9,196.4 65.4,258.8 77.5,202.9 84.0,215.7 91.4,182.2 149.7,242.3 65.8,210.3 100.3,199.5 66.1,228.5 125.1,193.8 74.0,262.3 50.1,233.6 85.4,190.6 112.4,183.2 45.7,232.1 115.1,249.1 125.7,187.3 126.3,254.2 106.5,179.5 64.2,219.7 65.1,233.9 73.8,252.7 75.8,236.4 67.1,241.3 149.6,239.2 87.8,235.7 41.3,240.5 79.4,232.4 77.5,200.5 132.1,254.9 77.9,211.3 95.7,182.8 139.1,252.9 96.6,168.8 78.6,236.8 65.4,214.3 39.4,233.5 52.0,244.7 96.2,261.2 130.2,178.5 64.5,212.5 125.0,223.2 107.6,204.1 98.7,233.7 120.5,188.4 122.7,182.3 105.6,199.3 67.2,248.2 78.4,203.8 100.1,260.1 116.7,263.7 67.9,235.4 109.0,259.2 141.1,175.9 74.0,236.8 46.8,218.2 93.9,192.0 122.7,215.8 64.0,198.0 54.3,220.0 46.9,246.1 108.2,239.5 123.9,205.5 127.4,213.2 152.8,186.3 57.6,216.7 130.6,179.7 100.0,270.3 129.8,258.3 56.6,215.4 103.3,206.7 91.4,274.7 113.9,235.7 94.2,197.8 71.0,186.6 137.4,214.8 93.1,244.0 113.9,208.7 82.9,191.5 104.5,239.2 108.9,278.7 103.5,252.8 136.6,247.4 119.0,192.5 73.3,191.5 87.3,209.0 82.2,268.0 149.5,207.5 110.1,237.4 93.4,242.1 130.9,236.3 76.1,267.7 99.3,217.1 138.6,253.9 84.7,203.6 70.1,241.9 170.9,250.0 80.0,239.0 145.4,243.1 68.7,213.2 115.6,241.7 64.9,228.3 88.1,251.5 52.6,217.7 86.3,199.8 111.1,250.2 138.7,202.2 84.6,181.2 158.2,258.8 67.3,257.0 155.5,204.8 72.6,198.7 105.2,225.9 39.1,229.5 141.5,205.6 109.7,186.3 74.9,251.7 102.1,177.3 120.8,194.0 108.9,236.8 126.5,198.8 39.0,215.7 68.9,204.5 62.1,255.6 136.1,211.4 129.4,248.3 91.1,180.1 81.4,226.0 114.2,212.8 132.8,228.2 91.6,191.0 127.7,181.5 114.4,200.9 97.2,268.5 99.2,257.6 73.1,214.8 99.5,195.6 79.9,252.8 141.8,195.7 138.7,214.5 121.0,213.1 106.5,248.8 65.6,195.1 106.4,219.0 111.7,177.3 82.7,256.3 80.2,268.1 95.3,215.7 62.0,229.7 64.7,230.1 145.7,196.2 63.6,246.7 102.8,223.1 69.0,181.0 78.9,214.9 108.7,244.5 146.2,207.5 66.2,223.7 124.7,233.3 48.1,194.4 164.8,222.8 87.8,206.5 135.2,175.6 87.2,212.8 163.6,204.2 160.8,249.9 123.1,231.3 133.7,211.5 124.9,206.6 117.9,214.4 139.8,209.6 93.7,271.5 110.7,208.8 67.9,245.5 93.4,215.1 51.6,236.7 48.2,247.7 123.5,260.7 84.7,266.9 43.8,231.1 117.9,244.6 110.1,211.7 82.8,227.0 117.9,206.8 47.1,245.4 123.8,209.2 72.0,209.2 92.3,264.1 44.5,213.7 127.0,210.1 44.7,225.5 86.2,242.6 52.6,231.3 101.7,181.5 125.9,215.4 56.8,241.0 137.9,266.9 98.8,237.3 104.3,192.0 163.6,244.2 117.4,261.9 104.5,215.3 105.5,220.6 71.2,269.8 111.6,242.8 118.4,235.4 107.5,269.5 90.2,217.4 130.4,241.0 138.6,214.2 85.6,177.7 130.9,232.9 129.9,253.3 129.8,214.4 61.1,237.3 58.6,234.1 132.7,263.0 109.5,199.1 116.3,204.8 134.9,244.8 95.8,196.8 130.3,185.2 99.1,231.2 58.7,243.7 76.9,204.4 128.2,239.4 101.4,202.0 127.1,183.6 92.4,229.5 56.1,231.7 140.1,206.8 135.0,216.3 152.6,234.4 112.1,188.5 63.3,257.8 145.0,211.4 90.7,209.4"/></g>
<g class="bp"><polyline id="blb" points="114.2,271.8 83.5,252.1 124.7,231.0 130.9,196.5 93.1,206.9 65.2,255.0 85.9,184.4 70.6,211.6 49.7,224.8 141.2,210.5 146.6,219.5 86.4,243.9 87.8,271.0 150.9,243.8 104.0,250.2 136.3,256.3 97.0,207.9 48.8,208.6 118.5,178.7 97.1,228.2 58.0,224.5 114.2,265.3 114.8,247.0 108.2,216.2 64.4,238.1 95.6,241.8 153.7,229.3 84.8,183.2 64.3,258.4 134.8,213.1 60.5,243.4 128.0,238.0 140.6,177.0 151.6,217.6 48.1,232.5 135.6,182.9 73.5,231.5 115.2,217.1 91.6,196.2 97.8,204.0 132.1,207.4 137.3,183.4 99.3,264.9 41.5,234.4 79.5,269.5 106.3,193.0 138.9,254.6 140.5,253.8 85.6,192.8 35.6,224.1 69.7,248.4 111.5,238.0 135.9,203.1 91.3,187.8 135.1,227.0 123.7,189.6 87.1,177.5 65.1,207.6 131.6,221.3 121.0,266.7 99.7,253.4 84.3,247.3 125.8,228.1 62.7,251.6 80.1,195.9 110.3,200.7 99.4,263.1 46.1,215.7 126.7,208.9 96.8,218.8 88.6,182.9 95.2,182.4 63.1,225.9 101.6,271.1 99.0,177.9 171.4,244.9 100.2,216.8 103.3,176.3 85.1,176.5 100.1,202.4 79.5,191.9 125.7,217.3 76.5,249.2 139.3,209.9 100.1,208.3 88.6,218.6 121.8,247.3 73.5,183.6 88.3,187.2 135.2,196.4 86.1,266.7 97.3,253.5 69.1,236.5 141.2,273.1 108.1,266.0 45.3,211.2 101.2,276.6 95.2,228.4 66.3,187.0 51.0,254.2 133.3,196.9 58.2,252.2 112.0,256.2 51.4,248.9 110.7,231.0 90.9,257.8 95.9,219.7 91.4,227.0 124.7,193.9 87.5,258.1 78.1,232.3 154.2,204.9 98.4,255.8 77.7,251.5 53.6,227.1 153.2,214.3 58.9,203.9 175.9,227.5 125.5,239.0 73.7,182.4 133.4,194.3 53.5,228.2 84.5,272.8 95.5,192.9 103.1,219.3 110.8,178.1 127.4,187.7 90.7,184.0 129.1,219.1 67.0,201.7 69.5,252.1 61.3,208.4 111.4,220.4 124.0,243.2 99.0,203.6 131.2,229.6 94.5,268.9 122.6,235.1 64.3,232.3 43.7,240.0 83.2,201.9 150.3,223.8 115.0,171.8 106.3,225.3 58.4,254.3 78.7,227.4 147.8,215.5 149.8,248.5 108.4,251.1 59.8,247.9 88.7,255.0 69.8,245.0 121.7,223.8 87.7,229.5 84.7,222.0 116.8,249.5 103.8,201.6 102.6,175.9 64.5,262.9 97.4,201.7 114.0,182.0 108.8,204.1 151.2,226.5 92.8,178.3 59.2,217.3 72.0,215.4 57.9,238.5 97.4,226.1 83.6,269.9 68.0,184.5 81.8,251.6 143.6,238.1 85.4,274.8 100.5,261.4 74.9,240.3 102.3,254.1 59.8,242.4 133.2,223.8 119.6,264.5 101.6,218.9 128.0,190.7 104.6,185.1 127.2,195.6 83.6,197.4 127.4,184.4 116.3,204.6 115.6,211.7 69.3,267.4 83.8,236.4 53.5,236.0 134.4,267.4 109.5,227.2 123.4,215.6 66.0,267.4 39.7,239.6 92.5,233.7 95.4,251.5 55.4,204.3 79.5,207.4 135.1,199.3 95.8,221.9 85.1,221.7 119.8,193.5 62.9,239.7 87.8,199.7 159.0,232.7 38.7,211.0 96.1,259.7 116.1,195.6 76.5,201.2 123.5,223.3 62.7,223.2 107.5,211.6 52.9,257.5 45.8,227.3 45.3,219.7 72.4,189.3 79.7,239.8 121.2,180.8 99.7,214.5 135.4,236.7 99.3,174.5 132.1,240.6 58.2,203.5 117.0,175.9 105.5,182.7 145.9,248.9 134.7,226.3 81.6,273.9 60.6,241.9 145.8,226.2 48.8,226.8 110.7,275.9 143.2,245.3 149.9,209.4 121.7,177.4 107.5,181.7 65.7,244.0 84.4,198.4 90.7,175.6 138.0,256.2 130.0,200.6 97.4,194.2 120.8,246.1 56.2,253.3 91.6,188.6 65.4,248.9 147.6,246.2 91.9,174.3 86.8,244.0 54.3,253.5 97.1,235.1 78.5,206.2 52.0,255.5 84.6,256.9 115.1,207.0 46.3,231.6 93.2,235.3 109.9,253.2 91.6,207.3 114.0,257.3 115.5,187.6 59.4,203.1 80.7,197.5 148.7,235.3 62.2,212.6 133.1,193.8 54.1,232.7 77.8,258.0 58.6,242.1 131.2,222.8 71.7,178.0 79.9,194.9 126.4,234.5 124.7,195.7 164.5,233.8 146.2,241.2 108.6,251.7 107.3,187.1 71.2,203.4 118.2,235.0 128.3,251.0 141.3,245.3 80.3,244.8 102.1,207.7 141.5,259.2 148.9,222.6 125.6,252.7 134.9,247.0 124.9,248.6 84.4,238.9 56.9,242.3 150.1,191.6 52.6,246.0 117.1,207.5 76.9,207.5 109.8,198.3 119.2,246.6 126.6,224.8 58.5,225.8 93.0,213.4 124.2,186.8 83.5,233.7 37.7,234.5 87.2,254.5 118.1,251.5 78.2,187.2 57.8,208.2 51.0,236.0 96.6,225.9 53.0,223.1 72.8,219.0 143.8,209.2 56.8,249.0 125.9,186.7 107.6,191.1 65.6,245.6 140.2,191.9 65.2,189.6 127.9,252.8 104.1,204.7 79.9,218.6 120.7,181.4 127.9,254.8 88.3,194.8 101.0,200.0 96.7,249.5 121.4,238.0 79.7,273.5 121.2,232.0 111.8,277.1 106.8,236.2 89.8,230.6 66.4,202.0 129.3,256.9 113.1,232.3 123.2,244.2 65.4,240.6 98.3,248.4 139.8,222.7 119.8,247.8 118.5,212.3 114.4,178.6 117.3,221.5 52.6,254.2 131.2,189.6 132.1,187.8 140.6,204.2 125.4,218.9 81.3,248.5 60.0,257.3 117.8,248.3 122.8,232.7 149.4,212.5 146.3,257.7 132.0,199.2 109.2,205.6 82.0,253.0 86.2,191.3 69.1,262.2 62.9,196.3 109.6,174.7 67.5,223.2 72.4,196.2 121.5,272.5 144.6,269.8 113.4,226.3 128.9,173.1 59.5,237.0 55.0,235.8 91.3,267.3 135.5,212.8 78.0,209.0 85.4,239.3 71.9,190.2 52.7,224.5 53.5,207.3 103.5,217.1 103.4,208.3 67.4,197.0 136.8,217.3 60.7,246.9 60.7,199.2 90.5,196.5 78.0,174.1 148.8,211.1 72.0,211.4 176.6,207.2 147.1,233.2 93.4,237.6 74.3,199.1 49.4,242.0 139.5,239.2 122.0,194.5 51.4,229.2 134.5,231.6 101.4,217.0 119.3,254.4 107.5,213.8 62.0,259.2 120.0,220.2 70.8,263.0 126.9,264.3 133.0,241.4 61.5,244.6 110.4,226.6 150.0,264.8 73.8,196.5 127.1,265.8 61.3,200.6 68.9,227.0 148.4,222.7 52.2,211.6 76.1,214.4 173.0,230.1 50.1,244.3 101.5,178.9 56.2,218.5 83.9,226.6 159.2,191.5 96.9,190.8 60.7,234.5 76.3,218.1 122.3,224.0 68.8,187.6 105.0,277.7 71.4,239.2 104.9,217.0 48.7,204.7 139.5,241.6 80.9,259.5 72.1,216.5 102.9,194.4 101.1,212.8 101.8,177.0 95.1,217.2 90.3,245.9 89.3,270.3 107.1,248.4 98.6,177.2 80.4,209.2 65.1,186.6 75.7,248.6 116.6,206.4 80.6,272.1 124.9,177.3 40.8,240.9 133.3,221.2 77.3,266.4 124.9,228.0 110.1,221.7 110.2,193.1 142.2,234.0 129.9,242.7 65.2,255.9 102.6,220.2 52.6,233.7 44.5,236.8 121.1,215.8 82.9,206.4 143.7,246.6 135.0,200.3 54.4,236.5 120.4,232.6 116.6,250.5 107.0,183.9 126.7,268.3 44.1,230.3 120.3,255.5 121.3,248.9 95.2,242.5 140.1,249.5 121.2,187.9 86.9,251.8 145.4,213.0 55.3,252.6 43.2,234.0 108.9,200.9 95.3,217.4 123.8,266.4 94.1,227.3 145.6,250.6 108.1,241.4 101.6,185.6 113.8,201.9 71.0,200.7 81.3,231.9 121.9,277.7 94.3,237.0 118.2,168.9 93.5,194.8 83.9,218.3 77.0,230.2 51.3,249.3 73.2,229.1 102.1,225.4 56.0,221.5 113.8,250.2"/></g>
<g class="br"><polyline id="bdr" points="80.2,172.0 104.7,200.9 155.8,219.2 82.6,186.4 158.0,225.1 111.8,225.8 101.3,260.7 50.0,248.0 37.6,219.3 137.9,247.3 111.8,180.2 80.5,262.1 81.6,208.3 130.8,246.0 130.3,256.8 75.7,218.3 97.7,175.9 142.9,215.7 99.9,252.1 64.7,262.8 161.7,244.3 91.4,219.8 67.9,262.5 98.5,168.2 82.5,258.8 42.6,244.7 87.6,244.7 106.2,205.8 108.0,220.3 79.0,256.1 154.4,207.5 134.9,211.2 128.5,199.7 97.9,189.4 152.1,225.0 131.1,250.0 96.1,246.5 126.2,239.2 56.7,186.7 74.2,207.8 175.8,236.4 139.3,256.2 158.7,245.7 140.6,228.6 156.1,232.8 104.8,213.1 78.9,196.4 113.0,217.9 70.3,182.4 110.9,259.7 148.8,222.2 58.9,204.9 112.6,205.8 104.9,219.2 110.8,182.2 61.9,245.1 105.9,273.4 92.4,244.2 48.4,194.9 106.1,178.6 158.8,187.0 89.1,240.8 95.6,245.8 85.8,178.8 129.2,221.2 64.6,191.5 103.8,262.2 134.2,218.0 72.6,269.5 62.6,201.0 145.7,245.1 70.5,194.5 112.1,179.0 173.1,233.6 55.0,254.1 107.4,255.1 102.2,237.1 101.6,238.1 110.4,232.3 86.4,189.4 112.9,190.1 79.8,260.0 45.1,207.2 145.1,186.6 129.6,191.6 90.6,176.2 73.3,261.6 150.6,195.7 66.2,265.5 69.4,178.3 69.3,243.5 82.1,207.0 117.7,200.7 97.9,232.5 112.7,174.3 59.0,213.8 77.8,191.2 162.4,214.8 130.4,175.4 173.7,215.6 42.7,223.7 154.8,236.4 112.8,274.9 60.5,226.7 101.7,178.5 84.0,191.9 86.3,249.7 37.1,213.3 144.2,220.2 91.3,268.7 150.4,205.9 97.9,196.0 123.3,226.6 114.2,221.0 111.0,220.6 153.5,247.6 91.5,210.4 63.7,190.9 138.8,255.8 113.3,242.6 140.1,191.2 77.8,210.2 167.0,201.7 70.3,214.9 115.9,261.1 147.1,198.9 117.3,177.0 141.8,194.7 70.7,262.5 61.1,215.5 72.0,255.2 59.7,246.3 112.6,232.9 133.2,252.7 116.8,253.8 94.4,238.6 116.2,275.5 167.4,255.1 73.2,202.7 147.5,201.8 115.1,258.2 133.3,236.2 60.4,211.9 131.9,256.1 151.8,231.1 73.4,254.0 69.9,209.2 157.9,241.9 102.5,269.4 96.6,249.5 165.3,201.4 114.5,215.1 53.6,255.3 102.3,170.1 40.6,219.0 86.0,253.4 93.6,230.6 68.2,181.6 83.4,261.5 85.0,214.8 150.1,204.8 64.8,211.3 104.9,236.0 80.9,250.1 113.0,240.7 87.2,247.1 65.3,185.4 115.4,272.0 106.3,251.0 115.0,189.3 134.0,266.7 119.9,213.8 147.6,242.4 50.7,194.3 68.3,241.5 88.6,226.6 100.3,252.1 70.4,198.0 149.6,229.2 69.9,178.6 81.1,253.0 125.9,209.2 94.0,251.8 89.4,258.7 120.7,192.1 71.7,188.5 84.6,253.4 58.2,261.1 148.3,265.6 42.4,213.9 89.4,195.3 117.4,265.4 88.8,211.1 119.7,221.0 73.8,212.0 124.7,250.6 88.7,234.4 123.3,179.0 79.3,230.1 67.7,192.8 174.5,224.9 46.6,208.0 82.3,195.4 146.3,194.7 120.8,226.2 67.6,232.9 64.6,192.3 101.9,200.3 109.4,178.4 121.8,262.0 137.3,179.6 55.4,196.0 100.3,271.3 129.8,264.2 65.0,241.1 54.4,224.9 148.6,239.5 56.6,190.8 61.5,188.9 118.1,193.6 102.6,223.8 103.7,189.9 155.1,233.4 84.2,237.8 109.5,225.7 66.2,193.5 135.6,175.0 87.5,253.5 129.9,235.1 103.6,192.3 110.7,243.6 119.3,258.0 116.9,231.6 55.9,190.0 104.5,179.5 73.2,236.0 155.1,258.6 111.2,207.7 121.0,192.3 123.9,185.5 114.3,182.1 170.6,238.7 75.9,249.3 76.6,271.5 60.0,219.3 67.8,186.9 132.4,213.0 117.4,171.0 126.7,256.3 84.7,222.9 130.9,171.6 58.0,217.2 149.9,248.9 117.4,186.0 136.0,189.2 92.6,276.0 59.2,244.5 97.0,223.0 85.5,251.1 141.3,264.1 113.4,253.3 99.7,180.7 98.5,259.5 73.7,177.6 133.7,250.2 66.1,179.0 90.1,265.3 66.4,185.6 115.6,258.8 127.3,262.3 68.6,256.1 89.4,224.2 109.3,230.0 131.4,271.0 120.5,266.4 70.8,178.6 66.5,206.8 78.3,263.3 85.7,188.5 127.3,215.0 51.2,209.4 76.7,206.7 115.9,166.3 167.3,200.9 77.2,251.5 105.7,229.1 60.3,217.6 112.1,187.7 142.2,235.2 116.5,218.1 168.0,246.8 159.2,205.2 103.5,201.8 68.1,253.5 162.8,215.0 77.5,231.3 145.6,256.9 97.0,218.0 164.4,231.2 102.3,238.4 107.2,199.7 43.3,217.6 153.8,230.3 84.6,188.2 122.4,171.2 43.7,198.8 116.4,194.9 95.3,220.0 108.5,192.0 89.0,205.9 124.3,181.3 76.2,252.6 101.9,193.3 154.8,250.1 133.6,197.8 46.0,247.1 151.6,225.5 75.8,227.9 51.3,228.5 50.6,231.2 146.4,211.7 127.4,202.2 152.9,226.5 86.3,258.3 99.7,219.1 81.9,178.9 143.0,203.1 115.5,192.8 58.9,253.8 113.0,200.9 44.5,219.5 77.5,254.2 118.3,259.7 122.9,253.5 137.8,204.5 69.0,219.3 54.2,238.3 140.2,251.7 162.1,257.1 90.6,233.0 59.8,242.1 90.9,257.9 90.1,239.7 97.1,240.7 99.2,176.8 110.1,218.1 63.0,222.6 77.3,175.0 111.1,259.7 58.9,256.1 79.2,246.4 105.7,209.6 102.5,180.4 145.5,242.2 58.2,189.2 70.3,258.9 92.1,258.7 97.7,247.3 86.7,190.8 171.3,246.4 62.7,206.2 101.5,166.9 78.0,181.2 104.2,256.2 162.6,241.0 96.5,225.9 118.0,202.9 67.0,248.3 122.1,247.7 100.3,177.9 102.8,246.1 128.4,243.3 146.8,220.2 59.1,239.4 73.0,259.5 73.7,251.7 51.6,241.7 169.7,255.5 52.1,202.5 49.9,240.0 168.4,209.5 65.1,179.5 52.3,213.1 118.5,210.9 114.1,190.3 170.8,222.4 55.6,185.4 84.7,232.9 55.3,210.7 81.9,229.3 150.9,181.9 44.9,197.9 124.6,256.8 138.7,195.7 47.0,235.2 84.6,220.2 141.3,247.6 153.1,204.7 129.1,179.0 94.6,208.5 78.3,243.8 52.1,208.5 100.4,228.4 78.3,258.1 48.9,206.9 161.5,212.2 145.9,193.0 137.7,187.2 53.3,246.6 107.2,235.9 73.1,204.4 110.7,239.6 84.0,266.3 68.6,244.1 92.1,199.4 104.9,259.6 115.6,182.2 39.2,208.7 75.8,252.9 44.5,208.5 147.8,197.7 36.8,218.2 78.7,263.2 169.8,200.6 147.6,248.2 108.6,171.7 77.2,195.9 123.5,167.8 100.4,251.5 97.3,204.0 67.0,264.0 128.8,224.0 149.9,193.8 118.7,215.1 163.7,190.9 118.5,213.2 60.7,181.7 51.2,193.8 73.9,264.8 77.0,235.6 93.4,236.1 99.4,250.2 67.3,202.9 158.3,255.1 71.1,243.1 124.5,203.9 138.3,232.6 137.7,207.5 95.3,184.8 81.8,221.7 115.5,168.3 74.7,267.9 121.9,243.4 152.5,202.4 132.6,237.9 86.4,179.6 174.7,225.1 77.9,241.7 102.9,207.7 63.0,264.5 54.2,231.8 94.8,243.0 122.4,169.3 82.4,196.7 145.8,200.4 155.2,213.0 73.3,212.3 76.4,188.7 85.3,254.3 131.8,248.4 66.6,260.5 58.7,207.4 103.8,252.6 152.7,250.7 125.5,242.4 66.9,206.4 138.0,237.8 102.4,181.7 125.0,232.6 85.0,193.2 111.5,214.8 123.0,222.5 66.3,188.4 88.3,227.8 135.4,212.5 149.7,211.2 80.8,240.8 84.7,263.6 101.7,182.7 126.8,269.7 72.4,193.8 69.9,195.3 136.2,273.9 109.4,181.4 167.0,224.3 69.0,190.7 148.7,229.8 117.4,179.2 116.6,249.1 105.6,275.4 46.7,198.9 55.6,256.0 75.0,256.0 79.7,193.2 93.1,251.9 90.3,176.6 71.5,193.5 84.8,255.3 87.7,208.1 162.2,192.2 65.0,201.1 137.7,221.4 147.8,257.3 97.7,248.0 52.0,197.0 90.1,215.3 165.2,222.5 109.5,229.9 54.5,190.4 143.2,207.8 162.2,219.8 85.0,221.1 108.8,243.5 119.6,242.6 86.4,220.4 127.7,251.3 105.8,236.6 75.1,177.8 82.5,204.0 68.0,185.4 56.7,185.3 119.7,258.3 70.4,225.4 146.4,199.2 64.5,262.6 71.7,259.3 158.8,221.2 77.7,199.8 88.0,224.9 49.3,204.0 62.2,231.4 98.7,250.4 101.0,260.2 73.9,252.7 143.9,241.6 65.4,255.8 108.5,177.1 105.6,189.9 166.5,201.6 78.5,209.5 113.2,188.5 72.6,202.0 77.3,259.6 76.1,204.5 67.7,205.1 87.6,269.6 147.0,242.2 59.1,183.1 91.0,180.7 96.6,205.3 106.0,212.2 166.6,222.5 63.0,222.4 111.1,204.1 117.2,186.7 83.9,252.5 115.3,190.5 133.2,250.8 78.0,200.3 114.7,217.0 109.7,204.0 107.1,266.1 79.5,184.2 99.9,169.7 128.7,249.7 73.4,260.6 123.3,239.3 86.9,196.7 108.1,257.1 134.3,260.7 128.8,264.5 44.2,233.9 63.6,255.4 90.1,238.1 115.3,278.3 90.3,244.1 74.0,190.5 174.2,211.5 84.3,181.5 62.3,221.5 60.3,184.6 114.2,234.5 131.9,249.2 69.5,259.6 131.2,209.9 77.6,255.7 171.5,232.3 128.5,215.5 70.9,260.5 161.6,225.4 105.2,199.5 130.1,186.5 74.8,192.5 91.0,207.4 130.2,181.7 116.5,233.7 67.5,189.4 65.9,204.6 142.2,242.9 79.0,187.5 86.5,194.0 140.8,208.8 107.1,196.4 78.2,186.3 89.5,243.1 132.3,205.5 117.0,195.4 126.4,210.6 66.9,254.5 81.2,192.0 112.3,188.1 55.0,252.3 91.0,272.1 140.6,249.1 51.9,223.2 121.5,189.9 65.0,263.0 149.6,198.8 156.0,181.7 110.4,206.0 58.2,190.2 117.5,242.7 119.6,248.7 88.7,190.3 38.9,224.5 103.6,249.9 65.8,253.0 103.0,220.5 76.9,261.9 97.9,189.6 111.6,226.5 59.1,263.1 70.4,195.3 101.0,263.0 125.5,270.8 39.3,206.9 90.4,210.0 98.4,199.7 79.2,231.8 137.7,235.1 136.4,242.9 59.7,206.2 65.9,177.9 62.3,190.0 101.1,174.8 120.2,229.9 68.8,192.5 114.6,203.0 73.2,187.1 104.6,264.2 67.6,260.7 172.6,206.8 98.2,173.8 130.4,234.5 114.1,180.9 101.8,257.0 97.3,275.4 108.4,183.1 110.1,186.9 137.7,256.7 116.5,221.5 163.0,211.4 72.0,233.1 91.8,229.9 151.3,224.0 86.4,235.2 59.5,182.8 52.9,201.6 86.9,255.9 96.9,218.9 99.5,224.3 68.4,264.2 44.4,217.5 154.7,189.2 78.0,235.9 121.0,187.5 120.1,229.7 146.3,186.2 81.6,186.6 104.9,235.3 70.4,181.7 155.3,205.5 138.1,191.8 103.4,187.8 148.4,242.0 115.4,210.1 55.8,251.0 108.7,247.3 42.9,203.1 138.5,190.8 51.2,220.4 104.9,190.0 73.0,197.7 68.8,189.4 124.5,235.4 56.2,194.6 81.4,222.5 88.9,217.3 114.7,245.7 124.3,234.5 114.0,188.6 116.5,238.7 107.1,167.3 92.6,248.0 99.4,204.2 92.2,201.5 88.1,195.5 107.1,198.1 94.7,193.2 105.9,253.8 142.1,239.4 71.6,220.8 114.9,215.3 73.9,238.0 66.1,263.4 98.4,186.2 82.1,248.1 46.4,200.7 89.4,265.4 159.3,201.1 78.5,268.8 138.3,262.2 119.4,249.3 167.0,215.5 59.1,184.1 65.9,206.1 108.8,220.0 67.3,179.6 138.4,211.4 73.4,177.5 63.3,251.8 66.6,235.7 140.1,256.2 109.7,188.3 55.0,228.2 178.6,204.3 119.4,168.4 145.1,214.7 68.0,226.2 62.2,249.6 102.1,204.5 71.6,249.3 99.6,263.2 70.1,262.0 119.0,233.8 64.7,199.7 103.8,171.7 46.9,206.0 92.3,199.5 67.8,260.3 117.0,247.4 92.1,226.1 129.3,231.0 103.4,183.5 71.6,267.0 104.3,200.1 127.7,231.0 149.7,197.7 93.9,184.9 132.6,190.1 61.1,203.2 109.2,170.3 58.9,233.5 123.8,245.2 75.4,184.4 98.7,255.2 86.5,175.4 127.7,190.6 75.5,193.8 126.9,199.1"/></g><use href="#crack"/>
</g>
<g clip-path="url(#cB2)"><g transform="matrix(0.6027 0 0 0.6089 190.05 89.26)"><use href="#bbase"/><use href="#bcop" class="bos"/><use href="#crack"/></g></g>
<g clip-path="url(#cB3)"><use href="#bla" class="bps" transform="matrix(0.6330 0 0 0.6148 298.32 87.95)"/></g>
<g clip-path="url(#cB4)"><use href="#bdr" class="brs" transform="matrix(0.6169 0 0 0.6089 412.18 89.26)"/></g>
<rect x="267.2" y="42.8" width="39.3" height="9.6" rx="1.25" fill="#fff" fill-opacity="0.8" stroke="#e4e4e4" stroke-width="0.5"/>
<circle cx="272.3" cy="47.70" r="0.75" fill="#ff7f0e"/>
<text x="279.9" y="49.50" font-size="5.0" fill="#262626" stroke="#262626" stroke-width="0.110">COCONUT</text>
<rect x="384.8" y="42.8" width="38.6" height="9.6" rx="1.25" fill="#fff" fill-opacity="0.8" stroke="#e4e4e4" stroke-width="0.5"/>
<circle cx="390.5" cy="47.70" r="0.75" fill="#6d41d6"/>
<text x="398.1" y="49.50" font-size="5.0" fill="#262626" stroke="#262626" stroke-width="0.110">LANaPDB</text>
<rect x="484.5" y="42.8" width="55.6" height="9.6" rx="1.25" fill="#fff" fill-opacity="0.8" stroke="#e4e4e4" stroke-width="0.5"/>
<circle cx="491.1" cy="47.70" r="0.75" fill="#ff1f32"/>
<text x="498" y="49.50" font-size="5.0" fill="#262626" stroke="#262626" stroke-width="0.110">Approved drugs</text>
<rect x="278.7" y="188.4" width="26.6" height="6.6" rx="0.90" fill="#fff" fill-opacity="0.8" stroke="#e4e4e4" stroke-width="0.3"/>
<circle cx="280.9" cy="191.70" r="0.55" fill="#ff7f0e"/>
<text x="284.2" y="193.00" font-size="3.6" fill="#262626" stroke="#262626" stroke-width="0.079">COCONUT</text>
<rect x="391.3" y="188.4" width="24.9" height="6.6" rx="0.91" fill="#fff" fill-opacity="0.8" stroke="#e4e4e4" stroke-width="0.3"/>
<circle cx="393.3" cy="191.80" r="0.55" fill="#6d41d6"/>
<text x="396.9" y="193.11" font-size="3.65" fill="#262626" stroke="#262626" stroke-width="0.080">LANaPDB</text>
<rect x="498.4" y="188.2" width="30.2" height="5.6" rx="0.75" fill="#fff" fill-opacity="0.8" stroke="#e4e4e4" stroke-width="0.3"/>
<circle cx="500.7" cy="191.00" r="0.5" fill="#ff1f32"/>
<text x="503.6" y="192.08" font-size="3.0" fill="#262626" stroke="#262626" stroke-width="0.066">Approved drugs</text>
<rect x="120.8" y="303.3" width="69.8" height="30.1" rx="1.57" fill="#fff" fill-opacity="0.8" stroke="#e4e4e4" stroke-width="0.5"/>
<circle cx="128.1" cy="308.90" r="1.1" fill="#ff7f0e"/>
<text x="137.5" y="311.17" font-size="6.3" fill="#262626" stroke="#262626" stroke-width="0.139">COCONUT</text>
<circle cx="128.1" cy="318.20" r="1.1" fill="#6d41d6"/>
<text x="137.5" y="320.47" font-size="6.3" fill="#262626" stroke="#262626" stroke-width="0.139">LANaPDB</text>
<circle cx="128.1" cy="327.50" r="1.1" fill="#ff1f32"/>
<text x="137.5" y="329.77" font-size="6.3" fill="#262626" stroke="#262626" stroke-width="0.139">Approved drugs</text>
<g fill="#1a1a1a" stroke="#1a1a1a" stroke-width="0.14">
<text x="4.1" y="14.3" font-size="11">A</text>
<text x="6.3" y="156.9" font-size="10.4">B</text>
<text x="109.9" y="152.8" font-size="7.9" text-anchor="middle">Principal component 1</text>
<text x="110" y="301.8" font-size="7.9" text-anchor="middle">t-SNE Dimension 1</text>
<text transform="translate(11.6,74) rotate(-90)" font-size="7.9" text-anchor="middle">Principal component 2</text>
<text transform="translate(11.9,221.6) rotate(-90)" font-size="8.3" text-anchor="middle">t-SNE Dimension 2</text>
</g>
</svg>
</body></html>
